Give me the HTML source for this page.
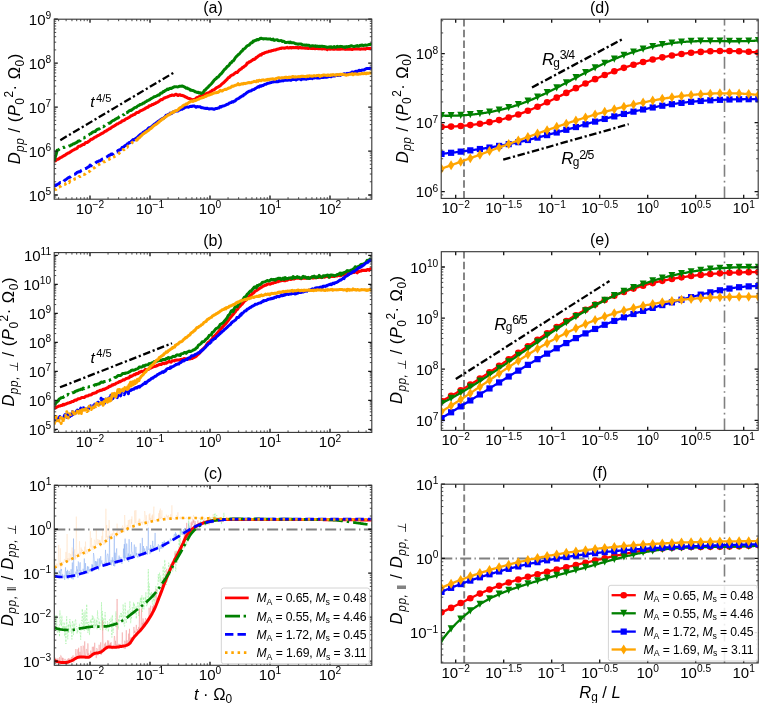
<!DOCTYPE html>
<html><head><meta charset="utf-8"><style>
html,body{margin:0;padding:0;background:#fff;}
svg{display:block;font-family:"Liberation Sans", sans-serif;will-change:transform;}
</style></head><body>
<svg width="760" height="703" viewBox="0 0 760 703">
<rect width="760" height="703" fill="#fff"/>
<defs>
<clipPath id="ca"><rect x="54.2" y="19.2" width="317.6" height="180"/></clipPath>
<clipPath id="cb"><rect x="54.2" y="252.6" width="317.6" height="179.8"/></clipPath>
<clipPath id="cc"><rect x="54.3" y="485.3" width="317.5" height="180"/></clipPath>
<clipPath id="cd"><rect x="441.2" y="19.2" width="317" height="179.2"/></clipPath>
<clipPath id="ce"><rect x="441.3" y="251.7" width="316.9" height="178.7"/></clipPath>
<clipPath id="cf"><rect x="441.3" y="484.2" width="316.9" height="178.8"/></clipPath>
</defs>
<g clip-path="url(#ca)">
<path d="M54.2 161.39L55.2 160.93L56.2 160.23L57.2 159.24L58.2 159.21L59.2 158.52L60.2 157.69L61.2 157.39L62.2 156.75L63.2 156.16L64.2 155.51L65.2 155.06L66.2 154.15L67.2 153.71L68.2 153.05L69.2 152.74L70.2 152.02L71.2 151.35L72.2 150.64L73.2 150.19L74.2 149.67L75.2 149.02L76.2 148.82L77.2 148.17L78.2 146.65L79.2 146.27L80.2 146.11L81.2 145.47L82.2 145.04L83.2 144.45L84.2 144.34L85.2 142.95L86.2 142.54L87.2 142.56L88.2 141.62L89.2 141.04L90.2 140.15L91.2 139.28L92.2 139.15L93.2 138.54L94.2 137.62L95.2 137.16L96.2 136.73L97.2 135.92L98.2 135.54L99.2 135L100.2 134.39L101.2 133.66L102.2 133.34L103.2 132.82L104.2 132.08L105.2 131.2L106.2 130.98L107.2 130.07L108.2 129.81L109.2 128.72L110.2 128.62L111.2 127.78L112.2 126.87L113.2 126.5L114.2 125.99L115.2 125.45L116.2 124.54L117.2 123.91L118.2 123.64L119.2 122.88L120.2 122.46L121.2 122L122.2 120.81L123.2 120.71L124.2 120.37L125.2 119.41L126.2 118.71L127.2 118.53L128.2 117.84L129.2 117.43L130.2 116.56L131.2 115.72L132.2 115.51L133.2 114.86L134.2 114.61L135.2 113.91L136.2 112.9L137.2 112.46L138.2 112.42L139.2 111.82L140.2 110.93L141.2 110.54L142.2 110.1L143.2 109.57L144.2 109.13L145.2 108.44L146.2 107.82L147.2 107.27L148.2 107.1L149.2 105.78L150.2 105.82L151.2 105.38L152.2 104.53L153.2 104.48L154.2 103.73L155.2 103.58L156.2 102.79L157.2 102.41L158.2 101.92L159.2 101.07L160.2 100.17L161.2 99.46L162.2 99.73L163.2 98.73L164.2 98.07L165.2 97.79L166.2 97.25L167.2 97.09L168.2 96.49L169.2 96.1L170.2 95.55L171.2 95.54L172.2 94.96L173.2 95.29L174.2 95.42L175.2 94.59L176.2 94.31L177.2 95.06L178.2 95.55L179.2 94.76L180.2 94.86L181.2 95.54L182.2 95.42L183.2 95.76L184.2 96.17L185.2 96.86L186.2 97.15L187.2 97.83L188.2 98.16L189.2 98.4L190.2 98.97L191.2 99.21L192.2 99.75L193.2 99.61L194.2 99.42L195.2 99.38L196.2 98.18L197.2 97.54L198.2 97.24L199.2 96.61L200.2 96.3L201.2 96.08L202.2 95.66L203.2 94.92L204.2 95.03L205.2 94.27L206.2 93.71L207.2 93.28L208.2 92.9L209.2 92.89L210.2 91.64L211.2 91.4L212.2 90.23L213.2 90.14L214.2 89.72L215.2 88.77L216.2 87.98L217.2 87.48L218.2 86.89L219.2 86.18L220.2 85.83L221.2 84.7L222.2 83.75L223.2 83.03L224.2 82.08L225.2 81.1L226.2 80.08L227.2 79.21L228.2 77.84L229.2 77.57L230.2 76.35L231.2 75.39L232.2 75.09L233.2 74.58L234.2 73.75L235.2 73.07L236.2 72.2L237.2 72.52L238.2 71.34L239.2 70.11L240.2 69.45L241.2 68.89L242.2 67.68L243.2 67.3L244.2 66.31L245.2 65.85L246.2 64.88L247.2 63.06L248.2 62.9L249.2 61.72L250.2 61.71L251.2 60.84L252.2 60.32L253.2 59.32L254.2 59.45L255.2 58.88L256.2 57.46L257.2 57.15L258.2 56.2L259.2 55.69L260.2 54.74L261.2 54.92L262.2 53.66L263.2 53.37L264.2 53.18L265.2 52.54L266.2 52.32L267.2 51.95L268.2 51.77L269.2 51.23L270.2 51.13L271.2 50.9L272.2 50.59L273.2 50.41L274.2 50.05L275.2 50.06L276.2 49.54L277.2 49.34L278.2 48.96L279.2 48.73L280.2 48.3L281.2 48.53L282.2 47.94L283.2 47.93L284.2 48.15L285.2 48.1L286.2 47.86L287.2 47.41L288.2 47.98L289.2 47.9L290.2 47.45L291.2 47.97L292.2 47.57L293.2 47.45L294.2 47.74L295.2 47.66L296.2 47.75L297.2 47.3L298.2 48.17L299.2 47.59L300.2 47.4L301.2 47.99L302.2 47.81L303.2 48.04L304.2 47.95L305.2 48.09L306.2 48.23L307.2 48.05L308.2 48.47L309.2 48.23L310.2 48.18L311.2 48.45L312.2 48.58L313.2 48.45L314.2 48.32L315.2 48.72L316.2 48.16L317.2 48.37L318.2 48.66L319.2 48.34L320.2 48.72L321.2 48.72L322.2 48.99L323.2 48.56L324.2 48.66L325.2 48.92L326.2 48.26L327.2 49.67L328.2 48.75L329.2 48.78L330.2 49.2L331.2 49L332.2 48.59L333.2 49.22L334.2 49.29L335.2 48.98L336.2 49.03L337.2 49.22L338.2 48.87L339.2 49.21L340.2 49.15L341.2 48.93L342.2 48.75L343.2 49.04L344.2 48.88L345.2 49.35L346.2 49.14L347.2 49.3L348.2 49.13L349.2 49.17L350.2 48.9L351.2 49.27L352.2 49.54L353.2 49L354.2 48.92L355.2 49.01L356.2 48.9L357.2 48.82L358.2 49.01L359.2 48.87L360.2 49.27L361.2 48.88L362.2 48.93L363.2 49.06L364.2 48.72L365.2 49.12L366.2 48.57L367.2 48.49L368.2 48.57L369.2 48.59L370.2 48.23L371.2 48.53L372 48.08" stroke="#ff0000" stroke-width="3.1" fill="none" stroke-linejoin="round"/>
<path d="M54.2 161.06L55.2 157.41L56.2 154.22L57.2 150.2L58.2 150.05L59.2 149.24L60.2 148.31L61.2 148.25L62.2 147.79L63.2 147.29L64.2 147.54L65.2 146.95L66.2 146.74L67.2 146.37L68.2 146.47L69.2 145.95L70.2 145.72L71.2 144.93L72.2 144.68L73.2 143.87L74.2 143.87L75.2 143.14L76.2 142.62L77.2 142.07L78.2 141.06L79.2 141L80.2 140.77L81.2 139.05L82.2 138.39L83.2 137.83L84.2 137.9L85.2 137.06L86.2 136.71L87.2 135.97L88.2 135.2L89.2 134.6L90.2 133.85L91.2 133.56L92.2 132.38L93.2 132.01L94.2 131.63L95.2 131.52L96.2 130.18L97.2 129.5L98.2 129.08L99.2 128.97L100.2 128.03L101.2 127.92L102.2 126.38L103.2 126.71L104.2 126.1L105.2 124.79L106.2 124.68L107.2 124.42L108.2 123.51L109.2 123.2L110.2 123.04L111.2 121.83L112.2 121.08L113.2 120.36L114.2 120.2L115.2 119.37L116.2 118.79L117.2 118.23L118.2 117.88L119.2 116.78L120.2 116.06L121.2 115.2L122.2 115.71L123.2 114.78L124.2 114.63L125.2 113.58L126.2 112.76L127.2 112.52" stroke="#008000" stroke-width="3" fill="none" stroke-linejoin="round" stroke-dasharray="14 3.7 2.5 3.7"/>
<path d="M126.2 112.76L127.2 112.52L128.2 111.75L129.2 110.79L130.2 110.29L131.2 110.48L132.2 109.45L133.2 108.87L134.2 108.07L135.2 107.37L136.2 107.27L137.2 106.41L138.2 105.66L139.2 105.3L140.2 104.52L141.2 104.31L142.2 104.05L143.2 102.93L144.2 103.06L145.2 101.89L146.2 101.59L147.2 100.74L148.2 100.38L149.2 99.91L150.2 99.22L151.2 98.58L152.2 98.04L153.2 97.44L154.2 96.67L155.2 96.5L156.2 96.14L157.2 95.73L158.2 95.07L159.2 95L160.2 93.75L161.2 92.9L162.2 92.98L163.2 91.51L164.2 91.53L165.2 90.4L166.2 90.28L167.2 89.11L168.2 89.55L169.2 88.81L170.2 88.15L171.2 88.55L172.2 87.9L173.2 87.36L174.2 86.85L175.2 86.87L176.2 86.71L177.2 86.88L178.2 86.81L179.2 86.3L180.2 86.28L181.2 86.25L182.2 86L183.2 86.36L184.2 86.83L185.2 87.49L186.2 88.16L187.2 87.99L188.2 88.81L189.2 88.94L190.2 90.15L191.2 89.97L192.2 90.57L193.2 90.56L194.2 91.02L195.2 91.76L196.2 91.98L197.2 92.53L198.2 92.19L199.2 93.06L200.2 92.75L201.2 93.61L202.2 92.8L203.2 92.47L204.2 90.68L205.2 90.12L206.2 88.76L207.2 87.89L208.2 87.01L209.2 85.85L210.2 84.96L211.2 84L212.2 82.85L213.2 81.52L214.2 80.09L215.2 79.3L216.2 78.59L217.2 77.12L218.2 77.03L219.2 75.67L220.2 74.5L221.2 73.72L222.2 72.49L223.2 71.21L224.2 69.71L225.2 68.99L226.2 67.92L227.2 66.51L228.2 66.1L229.2 64.97L230.2 63.26L231.2 62.89L232.2 61.41L233.2 60.98L234.2 59.67L235.2 57.85L236.2 56.68L237.2 55.8L238.2 54.6L239.2 54.1L240.2 52.86L241.2 51.59L242.2 50.9L243.2 49.18L244.2 48.93L245.2 48.14L246.2 46.88L247.2 45.81L248.2 45.35L249.2 45.02L250.2 43.78L251.2 42.67L252.2 42.75L253.2 41.1L254.2 41.21L255.2 40.35L256.2 40.35L257.2 39.46L258.2 39.84L259.2 39.28L260.2 38.45L261.2 38.19L262.2 38.56L263.2 38.99L264.2 38.65L265.2 38.68L266.2 38.66L267.2 39.04L268.2 39.03L269.2 39.1L270.2 38.82L271.2 39.59L272.2 39.77L273.2 39.12L274.2 40.37L275.2 40.06L276.2 39.88L277.2 39.65L278.2 40.61L279.2 40.77L280.2 40.62L281.2 40.46L282.2 41.52L283.2 41.19L284.2 41.4L285.2 42.57L286.2 42.54L287.2 42.37L288.2 42.13L289.2 42.65L290.2 41.96L291.2 42.86L292.2 42.78L293.2 42.8L294.2 42.89L295.2 43.69L296.2 43.73L297.2 43.91L298.2 44.28L299.2 43.94L300.2 43.99L301.2 43.99L302.2 44.59L303.2 45.08L304.2 44.96L305.2 45.35L306.2 44.95L307.2 45.3L308.2 45.34L309.2 45.31L310.2 46.35L311.2 46.14L312.2 45.76L313.2 45.85L314.2 46.16L315.2 45.84L316.2 46.49L317.2 46.05L318.2 46.41L319.2 46.28L320.2 46.51L321.2 46.31L322.2 46.28L323.2 46.5L324.2 46.61L325.2 46.75L326.2 46.88L327.2 47.34L328.2 47.15L329.2 46.85L330.2 47.16L331.2 46.75L332.2 47.4L333.2 47.14L334.2 46.58L335.2 47.22L336.2 47.24L337.2 46.19L338.2 46.77L339.2 46.83L340.2 46.37L341.2 46.6L342.2 46.59L343.2 46.98L344.2 46.87L345.2 47.51L346.2 46.55L347.2 46.95L348.2 46.56L349.2 46.56L350.2 46.07L351.2 45.78L352.2 46.05L353.2 46.43L354.2 46.58L355.2 46.19L356.2 46.06L357.2 45.56L358.2 46.17L359.2 46.01L360.2 45.35L361.2 45.4L362.2 45.03L363.2 45.69L364.2 45.31L365.2 45.1L366.2 45.19L367.2 45.15L368.2 44.84L369.2 44.54L370.2 44.49L371.2 44.31L372 44.94" stroke="#008000" stroke-width="3" fill="none" stroke-linejoin="round"/>
<path d="M54.1 186.91L55.1 185.01L56.1 185.38L57.1 184.54L58.1 184.03L59.1 183.55L60.1 182.45L61.1 182.42L62.1 181.65L63.1 182.33L64.1 180.81L65.1 180.03L66.1 179.43L67.1 178.66L68.1 177.88L69.1 177.41L70.1 177L71.1 176.12L72.1 175.82L73.1 174.84L74.1 174.29L75.1 174.16L76.1 173.31L77.1 172.47L78.1 172.05L79.1 171.77L80.1 171.7L81.1 170.56L82.1 170.08L83.1 169.97L84.1 168.91L85.1 168.57L86.1 168.4L87.1 167.77L88.1 167.08L89.1 166.71L90.1 165.1L91.1 165.7L92.1 164.55L93.1 163.77L94.1 163.8L95.1 163.36L96.1 162.47L97.1 161.72L98.1 161.49L99.1 160.91L100.1 160.78L101.1 160.02L102.1 159.3L103.1 159.02L104.1 158.07L105.1 157.31L106.1 157.24L107.1 156.72L108.1 155.99L109.1 155.34L110.1 155.19L111.1 153.92L112.1 154.42L113.1 153.9L114.1 152.78L115.1 152.78L116.1 151.94L117.1 151.89L118.1 150.42L119.1 150.07" stroke="#0000ff" stroke-width="3" fill="none" stroke-linejoin="round" stroke-dasharray="9 3.8"/>
<path d="M118.1 150.42L119.1 150.07L120.1 149.81L121.1 149.17L122.1 147.39L123.1 147.09L124.1 146.57L125.1 145.54L126.1 145.49L127.1 143.94L128.1 143.7L129.1 142.58L130.1 142.63L131.1 141.5L132.1 140.7L133.1 139.6L134.1 139.91L135.1 138.91L136.1 138.19L137.1 137.57L138.1 136.6L139.1 135.56L140.1 134.77L141.1 134.02L142.1 133.92L143.1 132.32L144.1 131.82L145.1 131.15L146.1 130.57L147.1 129.92L148.1 128.62L149.1 127.71L150.1 127.47L151.1 127.07L152.1 126.17L153.1 125.25L154.1 124.34L155.1 123.78L156.1 122.89L157.1 122.48L158.1 121.26L159.1 120.8L160.1 119.98L161.1 119.44L162.1 118.61L163.1 118.6L164.1 117.6L165.1 116.94L166.1 115.26L167.1 115.2L168.1 114.58L169.1 114.4L170.1 113.06L171.1 113.62L172.1 113.13L173.1 111.97L174.1 111.64L175.1 111.27L176.1 111.11L177.1 110.89L178.1 110.91L179.1 109.83L180.1 109.71L181.1 109.11L182.1 109.18L183.1 108.49L184.1 108.31L185.1 107.24L186.1 107.21L187.1 106.77L188.1 107.27L189.1 106.85L190.1 106.4L191.1 106.22L192.1 106.4L193.1 105.99L194.1 105.94L195.1 106.46L196.1 107.2L197.1 106.57L198.1 106.67L199.1 106.69L200.1 106.82L201.1 107.56L202.1 107.86L203.1 107.83L204.1 108.15L205.1 108.31L206.1 108.52L207.1 108.2L208.1 108.66L209.1 108.93L210.1 108.72L211.1 108.87L212.1 108.82L213.1 108.99L214.1 109.35L215.1 108.8L216.1 108.55L217.1 108.44L218.1 108L219.1 107.97L220.1 106.47L221.1 106.98L222.1 106.19L223.1 105.97L224.1 105.77L225.1 105.42L226.1 104.97L227.1 104.27L228.1 104.26L229.1 103.24L230.1 102.81L231.1 102.62L232.1 101.72L233.1 102.03L234.1 101.18L235.1 100.99L236.1 99.78L237.1 99.11L238.1 98.68L239.1 98.21L240.1 97.14L241.1 96.75L242.1 95.94L243.1 95.75L244.1 94.4L245.1 94.26L246.1 93.15L247.1 92.46L248.1 91.95L249.1 91.23L250.1 91.07L251.1 90.78L252.1 89.99L253.1 89.61L254.1 89.41L255.1 88.53L256.1 88.05L257.1 87.48L258.1 86.66L259.1 86.97L260.1 85.82L261.1 86.16L262.1 85.58L263.1 85.55L264.1 84.83L265.1 84.23L266.1 84.2L267.1 83.54L268.1 83.3L269.1 83.05L270.1 82.74L271.1 82.5L272.1 82.11L273.1 82.11L274.1 81.34L275.1 81.77L276.1 81.3L277.1 81.85L278.1 81.75L279.1 80.65L280.1 81.15L281.1 80.94L282.1 80.54L283.1 80.9L284.1 80.48L285.1 79.97L286.1 80.32L287.1 80.25L288.1 80.22L289.1 79.72L290.1 80.18L291.1 80.13L292.1 79.47L293.1 79.53L294.1 79.61L295.1 79.38L296.1 79.98L297.1 79.44L298.1 78.98L299.1 78.97L300.1 79.1L301.1 79.72L302.1 78.9L303.1 78.91L304.1 78.95L305.1 78.7L306.1 79.32L307.1 78.4L308.1 78.7L309.1 78.45L310.1 78.5L311.1 77.88L312.1 78.69L313.1 78.04L314.1 78.01L315.1 77.65L316.1 77.63L317.1 77.95L318.1 77.99L319.1 77.84L320.1 77.9L321.1 77.66L322.1 77.36L323.1 77.51L324.1 77.34L325.1 77.02L326.1 77.15L327.1 77.2L328.1 76.76L329.1 76.46L330.1 76.64L331.1 76.86L332.1 76.08L333.1 75.97L334.1 75.81L335.1 76.07L336.1 75L337.1 75.51L338.1 75.6L339.1 74.84L340.1 75.37L341.1 74.92L342.1 74.43L343.1 74.48L344.1 73.78L345.1 73.89L346.1 74.42L347.1 73.41L348.1 74.04L349.1 73.26L350.1 73.38L351.1 72.89L352.1 71.98L353.1 72.25L354.1 72.23L355.1 71.58L356.1 71.27L357.1 71.52L358.1 70.95L359.1 70.37L360.1 70.41L361.1 70.61L362.1 69.94L363.1 70.11L364.1 70.03L365.1 69.33L366.1 68.73L367.1 68.43L368.1 68.57L369.1 68.59L370.1 68.15L371.1 67.99L372 67.47" stroke="#0000ff" stroke-width="3" fill="none" stroke-linejoin="round"/>
<path d="M54.1 189.8L55.1 189.36L56.1 189.33L57.1 188.45L58.1 187.19L59.1 187.12L60.1 186.38L61.1 186.06L62.1 184.99L63.1 185.01L64.1 184.48L65.1 184.36L66.1 183.48L67.1 183.03L68.1 181.94L69.1 182.58L70.1 180.85L71.1 181.27L72.1 180.36L73.1 179.72L74.1 179.3L75.1 178.8L76.1 178.62L77.1 177.99L78.1 177.99L79.1 176.52L80.1 176.59L81.1 175.83L82.1 175.83L83.1 174.45L84.1 174.45L85.1 174.05L86.1 172.95L87.1 173.05L88.1 172.12L89.1 171.65L90.1 170.89L91.1 169.56L92.1 168.86L93.1 168.29L94.1 167.86L95.1 167.2L96.1 166.09L97.1 165.51L98.1 164.87L99.1 164.36L100.1 163.91L101.1 163.4L102.1 163.53L103.1 162.23L104.1 161.76L105.1 161.45L106.1 160.49L107.1 160.12L108.1 159.7L109.1 159.41L110.1 158.27L111.1 158.57L112.1 157.53L113.1 157.16L114.1 156.82L115.1 156.2L116.1 155.72L117.1 154.82L118.1 154.07L119.1 153.41L120.1 152.21L121.1 152.03L122.1 150.58L123.1 149.58L124.1 149.74L125.1 148.28L126.1 147.2L127.1 147.34L128.1 145.94L129.1 145.61L130.1 144.3L131.1 143.73L132.1 142.56L133.1 141.75L134.1 141.28L135.1 140.78L136.1 140.28" stroke="#ffa500" stroke-width="3" fill="none" stroke-linejoin="round" stroke-dasharray="2.6 3.4"/>
<path d="M135.1 140.78L136.1 140.28L137.1 139.98L138.1 138.16L139.1 137.99L140.1 136.71L141.1 136.05L142.1 134.85L143.1 134.05L144.1 133.46L145.1 132.54L146.1 132.1L147.1 131.09L148.1 130.87L149.1 129.74L150.1 128.93L151.1 128.42L152.1 127.42L153.1 126.45L154.1 125.64L155.1 124.84L156.1 124.41L157.1 123.55L158.1 122.64L159.1 121.99L160.1 120.8L161.1 120.34L162.1 118.99L163.1 119.06L164.1 117.94L165.1 117.24L166.1 116.66L167.1 115.8L168.1 115.07L169.1 114.88L170.1 113.96L171.1 113.07L172.1 112.91L173.1 111.69L174.1 112.13L175.1 110.99L176.1 110.46L177.1 110.5L178.1 109.81L179.1 108.48L180.1 107.88L181.1 107.27L182.1 106.72L183.1 105.52L184.1 105.02L185.1 104.82L186.1 104.04L187.1 103.71L188.1 103.22L189.1 102.27L190.1 101.94L191.1 101.01L192.1 101.33L193.1 101.44L194.1 100.35L195.1 100.72L196.1 100.31L197.1 99.66L198.1 99.33L199.1 99L200.1 98.34L201.1 98.12L202.1 97.78L203.1 97.57L204.1 97.21L205.1 96.34L206.1 96.41L207.1 95.53L208.1 95.34L209.1 95.13L210.1 94.65L211.1 94.26L212.1 94.03L213.1 93.44L214.1 93.06L215.1 92.85L216.1 92.86L217.1 92.2L218.1 92.47L219.1 91.64L220.1 90.36L221.1 90.79L222.1 91.09L223.1 90.25L224.1 89.77L225.1 89.26L226.1 89.51L227.1 88.98L228.1 88.43L229.1 87.9L230.1 87.75L231.1 87.14L232.1 86.13L233.1 86.35L234.1 85.79L235.1 85.35L236.1 85.28L237.1 84.77L238.1 83.66L239.1 84.82L240.1 84.51L241.1 84.03L242.1 83.83L243.1 83.89L244.1 83.3L245.1 83.64L246.1 83.31L247.1 83.09L248.1 82.7L249.1 82.55L250.1 82.85L251.1 82.68L252.1 82.19L253.1 81.8L254.1 81.34L255.1 81.63L256.1 81.74L257.1 80.62L258.1 81.32L259.1 80.18L260.1 80.6L261.1 80.69L262.1 80.04L263.1 79.86L264.1 80.22L265.1 80.26L266.1 79.67L267.1 80.02L268.1 79.19L269.1 79.76L270.1 79.12L271.1 79.02L272.1 79.01L273.1 78.8L274.1 79.14L275.1 79.14L276.1 78.54L277.1 78.23L278.1 77.82L279.1 77.86L280.1 77.99L281.1 77.87L282.1 77.8L283.1 77.73L284.1 77.79L285.1 77.15L286.1 77.17L287.1 77.73L288.1 77.57L289.1 77.08L290.1 77.55L291.1 76.89L292.1 76.94L293.1 76.4L294.1 77.14L295.1 76.81L296.1 77.07L297.1 76.89L298.1 76.64L299.1 76.6L300.1 76.84L301.1 76.37L302.1 76.31L303.1 76.32L304.1 76.48L305.1 76.45L306.1 76.7L307.1 76.04L308.1 76.39L309.1 75.77L310.1 76.1L311.1 75.91L312.1 76.35L313.1 75.98L314.1 75.62L315.1 75.9L316.1 75.79L317.1 75.56L318.1 75.53L319.1 75.31L320.1 76.38L321.1 75.56L322.1 75.77L323.1 75.09L324.1 75.07L325.1 75.3L326.1 75.25L327.1 75.49L328.1 74.89L329.1 75.29L330.1 75.53L331.1 74.74L332.1 75.23L333.1 74.62L334.1 74.95L335.1 74.91L336.1 75.28L337.1 74.51L338.1 74.73L339.1 74.96L340.1 74.26L341.1 74.58L342.1 74.3L343.1 74.32L344.1 74.71L345.1 74.69L346.1 75.23L347.1 74.84L348.1 74.78L349.1 74.31L350.1 74.24L351.1 74.33L352.1 73.57L353.1 74.7L354.1 73.95L355.1 73.78L356.1 73.91L357.1 74.26L358.1 74.31L359.1 73.77L360.1 73.95L361.1 73.75L362.1 73.41L363.1 73.71L364.1 73.61L365.1 73.09L366.1 73.83L367.1 72.98L368.1 73.47L369.1 73.04L370.1 73.06L371.1 73.04L372 73.42" stroke="#ffa500" stroke-width="3" fill="none" stroke-linejoin="round"/>
</g>
<path d="M60.3 140.2L173.8 72.6" stroke="#000" stroke-width="2.3" fill="none" stroke-linejoin="round" stroke-dasharray="7.5 2.6 2.2 2.6"/>
<text x="90.3" y="107" font-size="15.5" text-anchor="start" fill="#000"><tspan font-style="italic">t</tspan><tspan font-size="11.16" dy="-5.42" dx="1.4">4/5</tspan></text>
<g clip-path="url(#cb)">
<path d="M54.2 407.81L55.2 407.88L56.2 407.52L57.2 406.67L58.2 406.4L59.2 406L60.2 406L61.2 405.47L62.2 405.37L63.2 404.25L64.2 404.93L65.2 404.09L66.2 403.97L67.2 403.37L68.2 402.95L69.2 402.85L70.2 402.6L71.2 401.93L72.2 401.58L73.2 401.47L74.2 400.64L75.2 400.07L76.2 400.28L77.2 399.59L78.2 398.84L79.2 398.79L80.2 398.52L81.2 397.92L82.2 397.45L83.2 397.52L84.2 397.4L85.2 396.67L86.2 396.13L87.2 396.07L88.2 395.78L89.2 395.08L90.2 394.94L91.2 394.69L92.2 393.91L93.2 393.33L94.2 393.28L95.2 392.84L96.2 392.69L97.2 391.57L98.2 391.34L99.2 390.88L100.2 390.2L101.2 390.34L102.2 390.03L103.2 389.22L104.2 389.42L105.2 388.81L106.2 388.3L107.2 387.78L108.2 387.48L109.2 386.33L110.2 386.45L111.2 385.97L112.2 384.79L113.2 384.94L114.2 384.29L115.2 384.11L116.2 383.26L117.2 382.9L118.2 382.53L119.2 381.67L120.2 381.63L121.2 380.93L122.2 380.62L123.2 379.83L124.2 379.83L125.2 379.2L126.2 378.48L127.2 378.25L128.2 377.96L129.2 377.65L130.2 376.17L131.2 376.44L132.2 375.85L133.2 375.23L134.2 374.5L135.2 374.73L136.2 373.53L137.2 373.65L138.2 373.44L139.2 372.15L140.2 372.12L141.2 371.4L142.2 371.45L143.2 371.42L144.2 371.16L145.2 369.61L146.2 369.57L147.2 369.55L148.2 369.41L149.2 368.67L150.2 367.92L151.2 367.85L152.2 367.37L153.2 366.94L154.2 366.41L155.2 366.38L156.2 366L157.2 365.52L158.2 365.14L159.2 364.48L160.2 364.39L161.2 364.57L162.2 363.83L163.2 363.14L164.2 363.66L165.2 363.12L166.2 363.3L167.2 362.4L168.2 361.97L169.2 361.41L170.2 362L171.2 362.13L172.2 360.88L173.2 360.69L174.2 360.84L175.2 360.19L176.2 360.16L177.2 359.94L178.2 359.93L179.2 360.04L180.2 359.58L181.2 359.74L182.2 359.24L183.2 359.38L184.2 358.56L185.2 358.67L186.2 359.25L187.2 358.71L188.2 358.93L189.2 358.77L190.2 358.85L191.2 358.51L192.2 358.36L193.2 357.76L194.2 357.29L195.2 356.82L196.2 356.2L197.2 355.13L198.2 354.3L199.2 353.36L200.2 352.35L201.2 351.1L202.2 349.55L203.2 348.93L204.2 347.79L205.2 346.78L206.2 345.35L207.2 343.73L208.2 342.51L209.2 342.2L210.2 340.72L211.2 339.96L212.2 338.98L213.2 337.03L214.2 336.33L215.2 335.27L216.2 334.21L217.2 333.13L218.2 331.94L219.2 330.85L220.2 329.25L221.2 328.54L222.2 327.25L223.2 326.36L224.2 325.01L225.2 324.15L226.2 323.01L227.2 321.64L228.2 320.43L229.2 319.15L230.2 317.78L231.2 316.65L232.2 315.32L233.2 314.35L234.2 313.02L235.2 311.98L236.2 310.22L237.2 309.72L238.2 308.09L239.2 306.97L240.2 306.02L241.2 304.82L242.2 303.99L243.2 302.67L244.2 301.47L245.2 300.49L246.2 300.09L247.2 298.68L248.2 297.31L249.2 296.67L250.2 295.25L251.2 295.35L252.2 293.47L253.2 293.2L254.2 292.38L255.2 290.97L256.2 290.71L257.2 290.19L258.2 289.34L259.2 288.62L260.2 288.19L261.2 287.33L262.2 286.8L263.2 286.12L264.2 285.86L265.2 284.96L266.2 285.1L267.2 284.38L268.2 283.89L269.2 284.04L270.2 284.17L271.2 283.69L272.2 282.99L273.2 283.1L274.2 282.51L275.2 282.37L276.2 282.19L277.2 281.24L278.2 281.77L279.2 281.18L280.2 281.07L281.2 280.63L282.2 280.41L283.2 280.39L284.2 280.73L285.2 280.8L286.2 280.11L287.2 280.26L288.2 279.67L289.2 278.99L290.2 279.43L291.2 279.35L292.2 278.92L293.2 278.98L294.2 278.91L295.2 278.35L296.2 278.05L297.2 278.32L298.2 278.24L299.2 278.13L300.2 278.48L301.2 278.64L302.2 277.95L303.2 278.24L304.2 278.27L305.2 278.17L306.2 278.23L307.2 277.76L308.2 278.06L309.2 278.41L310.2 278L311.2 277.53L312.2 277.85L313.2 278L314.2 277.68L315.2 277.35L316.2 277.94L317.2 277.05L318.2 277.53L319.2 277.32L320.2 276.91L321.2 277.58L322.2 277.26L323.2 276.74L324.2 277.21L325.2 276.83L326.2 276.31L327.2 276.6L328.2 276.8L329.2 276.83L330.2 276.6L331.2 276.47L332.2 276.5L333.2 276.19L334.2 276.49L335.2 276.07L336.2 275.99L337.2 275.94L338.2 275.33L339.2 275.28L340.2 275.78L341.2 275.24L342.2 274.85L343.2 274.83L344.2 274.36L345.2 274.37L346.2 273.86L347.2 273.91L348.2 273.13L349.2 273.78L350.2 273.01L351.2 272.49L352.2 272.69L353.2 272.45L354.2 272.4L355.2 271.81L356.2 272.08L357.2 272.84L358.2 271.17L359.2 271.46L360.2 271.07L361.2 271.02L362.2 270.23L363.2 270.23L364.2 270.52L365.2 270.18L366.2 270.49L367.2 269.59L368.2 269.67L369.2 270.3L370.2 269.01L371.2 268.78L372 268.89" stroke="#ff0000" stroke-width="3.1" fill="none" stroke-linejoin="round"/>
<path d="M54.2 405.2L55.2 404.16L56.2 402.73L57.2 401.59L58.2 400.99L59.2 399.01L60.2 398.52L61.2 397.64L62.2 397.57L63.2 397.47L64.2 396.54L65.2 396.23L66.2 394.77L67.2 395.11L68.2 394.22L69.2 394.84L70.2 394.04L71.2 393.63L72.2 392.81L73.2 392.66L74.2 392.28L75.2 391.49L76.2 391.04L77.2 390.82L78.2 390.26L79.2 389.9L80.2 389.67L81.2 389.14L82.2 389.4L83.2 388.11L84.2 388.75L85.2 387.84L86.2 387.54L87.2 386.89L88.2 387.05L89.2 386.69L90.2 386.54L91.2 385.93L92.2 385.86L93.2 386.23L94.2 385.34L95.2 384.62L96.2 384.9L97.2 384.14L98.2 384.09L99.2 383.76L100.2 383.01L101.2 382.04L102.2 382.32L103.2 382.31L104.2 381.57L105.2 381.51L106.2 381.34L107.2 380.35L108.2 380.67L109.2 380.43L110.2 379.82L111.2 379.46L112.2 379.03L113.2 379.1L114.2 377.87L115.2 377.39L116.2 377.23L117.2 376.22L118.2 375.56L119.2 375.42L120.2 375.52L121.2 375.15L122.2 373.94L123.2 373.4L124.2 373.62L125.2 373.26" stroke="#008000" stroke-width="3" fill="none" stroke-linejoin="round" stroke-dasharray="14 3.7 2.5 3.7"/>
<path d="M124.2 373.62L125.2 373.26L126.2 372.91L127.2 372.8L128.2 372.62L129.2 371.81L130.2 371.56L131.2 370.48L132.2 370.04L133.2 370.21L134.2 369.98L135.2 369.61L136.2 369.17L137.2 368.85L138.2 368.47L139.2 367.06L140.2 367.08L141.2 367.17L142.2 366.85L143.2 365.63L144.2 366.32L145.2 365.31L146.2 365.02L147.2 364.86L148.2 364.69L149.2 363.45L150.2 364.07L151.2 363.35L152.2 362.67L153.2 362.52L154.2 361.42L155.2 361.7L156.2 361.7L157.2 361.02L158.2 360.86L159.2 360.62L160.2 360.4L161.2 360.5L162.2 359.79L163.2 359.41L164.2 359.44L165.2 359.78L166.2 358.53L167.2 358.59L168.2 357.47L169.2 358.36L170.2 357.8L171.2 357.78L172.2 356.93L173.2 356.24L174.2 356.7L175.2 356.33L176.2 355.37L177.2 354.8L178.2 355.25L179.2 354.68L180.2 355.48L181.2 353.88L182.2 353.62L183.2 353.48L184.2 352.56L185.2 352.56L186.2 353.25L187.2 352.21L188.2 351.7L189.2 351.12L190.2 351.54L191.2 351.24L192.2 350.71L193.2 350.03L194.2 349.82L195.2 349.23L196.2 348.02L197.2 347.63L198.2 345.54L199.2 344.84L200.2 344.16L201.2 343.33L202.2 341.79L203.2 341.8L204.2 341.35L205.2 340.1L206.2 339.07L207.2 338.52L208.2 337.33L209.2 335.45L210.2 335.03L211.2 334.93L212.2 332.46L213.2 332.17L214.2 330.88L215.2 329.56L216.2 328.5L217.2 328.19L218.2 327.34L219.2 326.37L220.2 324.33L221.2 324.01L222.2 323.35L223.2 322.61L224.2 321.3L225.2 320.19L226.2 319.12L227.2 317.72L228.2 315.51L229.2 314.83L230.2 313.22L231.2 311.1L232.2 310.43L233.2 311.62L234.2 308.62L235.2 306.86L236.2 306.75L237.2 306.86L238.2 304.73L239.2 303.76L240.2 302.1L241.2 300.96L242.2 300.54L243.2 299.08L244.2 297.43L245.2 296.93L246.2 295.96L247.2 294.14L248.2 293.42L249.2 292.44L250.2 290.97L251.2 291.21L252.2 289.62L253.2 288.6L254.2 287.24L255.2 286.8L256.2 287.81L257.2 285.56L258.2 285.86L259.2 284.72L260.2 284.58L261.2 283.97L262.2 282.51L263.2 282.21L264.2 281.93L265.2 281.51L266.2 281.06L267.2 280.56L268.2 280.82L269.2 280.96L270.2 280.26L271.2 279.29L272.2 279.81L273.2 279.46L274.2 279.57L275.2 280.27L276.2 278.92L277.2 278.93L278.2 278.31L279.2 278.57L280.2 278.32L281.2 279.54L282.2 278.69L283.2 278.09L284.2 279.52L285.2 277.5L286.2 278.76L287.2 278.8L288.2 278.48L289.2 277.93L290.2 277.97L291.2 277.79L292.2 278.43L293.2 276.52L294.2 277.57L295.2 277.93L296.2 277.45L297.2 276.66L298.2 277.56L299.2 277.2L300.2 278.09L301.2 278.39L302.2 277.55L303.2 276.3L304.2 277.29L305.2 276.8L306.2 277.71L307.2 278.26L308.2 277.38L309.2 278.36L310.2 277.99L311.2 277.44L312.2 276.44L313.2 277.02L314.2 276.04L315.2 277.47L316.2 276.86L317.2 277.55L318.2 276.84L319.2 275.44L320.2 276.92L321.2 277.02L322.2 277.39L323.2 275.73L324.2 275.67L325.2 276.17L326.2 275.41L327.2 275.12L328.2 275.18L329.2 277.28L330.2 275.23L331.2 274.88L332.2 275.09L333.2 275.22L334.2 275.84L335.2 275.48L336.2 275.22L337.2 274.6L338.2 274.48L339.2 273.78L340.2 273L341.2 274.84L342.2 273.03L343.2 273.57L344.2 272.41L345.2 272.17L346.2 271.74L347.2 270.6L348.2 270.97L349.2 270.83L350.2 270.68L351.2 270.07L352.2 269.95L353.2 269.06L354.2 268.4L355.2 266.72L356.2 267.07L357.2 267.8L358.2 266.41L359.2 266.28L360.2 265.14L361.2 264.33L362.2 265.44L363.2 263.91L364.2 264.1L365.2 263.03L366.2 262.05L367.2 260.39L368.2 261.31L369.2 259.84L370.2 258.97L371.2 260.57L372 259.88" stroke="#008000" stroke-width="3" fill="none" stroke-linejoin="round"/>
<path d="M54.2 421.56L54.9 414.48L55.6 419.91L56.3 418.46L57 419.99L57.7 418.46L58.4 420.26L59.1 417.53L59.8 416.54L60.5 417.85L61.2 417.41L61.9 416.08L62.6 416.01L63.3 417.13L64 416.88L64.7 414.97L65.4 414.91L66.1 412.66L66.8 417.3L67.5 414.4L68.2 416.34L68.9 414.82L69.6 416.71L70.3 415.9L71 413.95L71.7 415.33L72.4 411.67L73.1 414.51L73.8 410.42L74.5 412.72L75.2 413.47L75.9 412.03L76.6 410.94L77.3 410.07L78 410.45L78.7 412.13L79.4 411.64L80.1 409.76L80.8 408.11L81.5 410.53L82.2 407.29L82.9 408.3L83.6 407.75L84.3 409.54L85 408.56L85.7 408.61L86.4 408.07L87.1 406.47L87.8 407.9L88.5 408.86L89.2 406.57L89.9 407.24L90.6 405.91L91.3 407.26L92 406.48L92.7 406.51L93.4 405.5L94.1 407.05L94.8 403.98L95.5 403.75L96.2 403.12L96.9 404.53L97.6 402.54L98.3 402.23L99 403.88L99.7 404.22L100.4 403.13L101.1 398.29L101.8 400.44L102.5 399.99L103.2 399.53L103.9 400.37L104.6 403.21L105.3 399.95L106 399.07L106.7 400.79L107.4 399.62L108.1 399.4L108.8 397.98L109.5 398.64L110.2 398.96L110.9 395.38L111.6 395.5L112.3 398.98L113 398.34L113.7 396.15L114.4 395.14L115.1 396.01L115.8 394.3L116.5 395.19L117.2 397.68L117.9 395.26L118.6 396.41L119.3 394.17L120 394.71L120.7 395.84L121.4 391.74L122.1 392.84L122.8 392.82L123.5 393.15L124.2 394.66L124.9 393.18L125.6 389.85L126.3 391.31L127 390.18L127.7 389.89L128.4 393.75L129.1 389.17L129.8 390.74L130.5 389.93" stroke="#0000ff" stroke-width="3" fill="none" stroke-linejoin="round" stroke-dasharray="6 3.5"/>
<path d="M129.8 390.74L130.5 389.93L131.2 390.15L131.9 389.73L132.6 389.4L133.3 389.07L134 389.16L134.7 388.26L135.4 388.03L136.1 387.62L136.8 388.05L137.5 387.25L138.2 386.71L138.9 386.57L139.6 387.1L140.3 385.96L141 385.87L141.7 385.36L142.4 384.8L143.1 384.17L143.8 383.84L144.5 383.38L145.2 382.36L145.9 383.33L146.6 382.35L147.3 381.62L148 381.03L148.7 380.37L149.4 380.39L150.1 379.56L150.8 379.27L151.5 378.22L152.2 378.26L152.9 378.27L153.6 377.11L154.3 376.98L155 376.3L155.7 376.18L156.4 375.74L157.1 375.02L157.8 374.43L158.5 374.28L159.2 373.81L159.9 373.22L160.6 373.15L161.3 372.76L162 371.98L162.7 371.84L163.4 372.37L164.1 371.37L164.8 370.78L165.5 371.13L166.2 369.87L166.9 368.89L167.6 368.7L168.3 368.44L169 368.61L169.7 368.45L170.4 367.13L171.1 367.75L171.8 366.67L172.5 366.73L173.2 366.41L173.9 366.02L174.6 365.5L175.3 365.16L176 364.37L176.7 364.4L177.4 364.22L178.1 363.81L178.8 363.93L179.5 363.09L180.2 362.61L180.9 362.52L181.6 361.73L182.3 360.92L183 360.28L183.7 360.98L184.4 360.43L185.1 360.16L185.8 359.47L186.5 359.33L187.2 359.45L187.9 358.64L188.6 357.86L189.3 357.72L190 357.91L190.7 356.82L191.4 356.01L192.1 355.74L192.8 355.65L193.5 355.92L194.2 355.33L194.9 354.69L195.6 354.16L196.3 354.13L197 353.74L197.7 353.23L198.4 352.92L199.1 352.35L199.8 352.68L200.5 350.96L201.2 351.21L201.9 350.32L202.6 350.22L203.3 349.27L204 348.74L204.7 348.05L205.4 347.19L206.1 346.66L206.8 345.2L207.5 345.17L208.2 344.12L208.9 343.65L209.6 343.36L210.3 342.6L211 342.23L211.7 340.35L212.4 340.12L213.1 340.09L213.8 338.85L214.5 338.52L215.2 338.47L215.9 337.59L216.6 336.41L217.3 336.21L218 335.64L218.7 334.83L219.4 334.15L220.1 333.59L220.8 332.46L221.5 332.32L222.2 331.36L222.9 331.14L223.6 330.52L224.3 329.49L225 329.31L225.7 328.6L226.4 327.85L227.1 327.45L227.8 326.51L228.5 325.89L229.2 325.36L229.9 324.69L230.6 324.42L231.3 322.74L232 322.72L232.7 321.58L233.4 321.4L234.1 320.99L234.8 320.29L235.5 319.94L236.2 319.12L236.9 317.57L237.6 317.41L238.3 317.57L239 316.91L239.7 315.82L240.4 314.67L241.1 315.14L241.8 313.22L242.5 313.32L243.2 312.62L243.9 312.13L244.6 311.16L245.3 310.85L246 310.76L246.7 309.77L247.4 308.99L248.1 308.91L248.8 308.46L249.5 307.93L250.2 307.28L250.9 307.26L251.6 306.64L252.3 305.93L253 305.97L253.7 305.52L254.4 305.21L255.1 304.31L255.8 304.25L256.5 304.29L257.2 304.11L257.9 303.61L258.6 303.25L259.3 303.12L260 302.9L260.7 302.85L261.4 302.19L262.1 301.6L262.8 301.65L263.5 300.66L264.2 301L264.9 300.6L265.6 300.48L266.3 300.39L267 300.01L267.7 299.33L268.4 299.42L269.1 299.06L269.8 299.07L270.5 298.96L271.2 298.35L271.9 298.65L272.6 298.61L273.3 297.92L274 298.01L274.7 297.13L275.4 297.21L276.1 297.45L276.8 296.42L277.5 296.59L278.2 296.27L278.9 296.68L279.6 296.49L280.3 295.77L281 295.8L281.7 294.8L282.4 295.67L283.1 295.35L283.8 295.49L284.5 294.22L285.2 294.9L285.9 294.56L286.6 293.76L287.3 294.22L288 294.29L288.7 294.45L289.4 294.17L290.1 293.85L290.8 294.05L291.5 293.79L292.2 293.53L292.9 293.33L293.6 293.59L294.3 293.49L295 293.9L295.7 293.1L296.4 293.61L297.1 293.12L297.8 293.24L298.5 292.49L299.2 292.36L299.9 292.38L300.6 292.59L301.3 292.21L302 292.22L302.7 291.91L303.4 291.95L304.1 291.52L304.8 291.12L305.5 291.25L306.2 290.93L306.9 291.24L307.6 290.48L308.3 290.37L309 290.06L309.7 290.31L310.4 290.04L311.1 289.8L311.8 289.05L312.5 288.8L313.2 289.16L313.9 289.13L314.6 289.19L315.3 288.04L316 288.36L316.7 287.74L317.4 287.79L318.1 287.84L318.8 288.02L319.5 287.4L320.2 287.17L320.9 287.11L321.6 287.41L322.3 287.57L323 286.19L323.7 286.38L324.4 286.13L325.1 286.4L325.8 285.98L326.5 286.1L327.2 285.13L327.9 285.22L328.6 284.87L329.3 284.46L330 284.51L330.7 283.98L331.4 284.75L332.1 283.98L332.8 283.31L333.5 283.18L334.2 283.62L334.9 282.68L335.6 282.75L336.3 282.43L337 282.28L337.7 281.84L338.4 281.25L339.1 280.78L339.8 280.05L340.5 280.16L341.2 279.8L341.9 279.2L342.6 278.81L343.3 278.02L344 278.55L344.7 277.26L345.4 276.61L346.1 276.24L346.8 275.86L347.5 275.63L348.2 274.19L348.9 274.58L349.6 273.75L350.3 273.41L351 273.31L351.7 272.78L352.4 271.89L353.1 271.61L353.8 271.75L354.5 271.14L355.2 270.54L355.9 269.84L356.6 269.67L357.3 269.05L358 268.31L358.7 267.72L359.4 267.73L360.1 267.23L360.8 267.03L361.5 266.06L362.2 266.17L362.9 265.18L363.6 265.21L364.3 264.53L365 263.73L365.7 263.16L366.4 262.94L367.1 262.43L367.8 262.32L368.5 261.36L369.2 260.65L369.9 260.62L370.6 260.73L371.3 260.17L372 259.01" stroke="#0000ff" stroke-width="3" fill="none" stroke-linejoin="round"/>
<path d="M54.2 424.45L54.9 420.96L55.6 419.42L56.3 416.52L57 420.69L57.7 423.11L58.4 420.48L59.1 420.9L59.8 421.38L60.5 417.53L61.2 423.47L61.9 416.71L62.6 418.56L63.3 422.42L64 416.9L64.7 416.93L65.4 415.44L66.1 416.61L66.8 411.83L67.5 414.16L68.2 418.04L68.9 415.06L69.6 413.94L70.3 414.75L71 414.55L71.7 413.8L72.4 414.32L73.1 410.04L73.8 413.86L74.5 411.35L75.2 413.76L75.9 412.09L76.6 410.13L77.3 411.6L78 409.72L78.7 413.16L79.4 411.1L80.1 412.49L80.8 408.76L81.5 413.5L82.2 409.85L82.9 412.66L83.6 411.55L84.3 407.83L85 410.19L85.7 408.43L86.4 409.93L87.1 411.54L87.8 409.98L88.5 410.42L89.2 406.15L89.9 408.38L90.6 408.42L91.3 409.49L92 406.17L92.7 408.06L93.4 407.56L94.1 403.79L94.8 404.41L95.5 406.82L96.2 403.64L96.9 403.28L97.6 406.83L98.3 405.46L99 404.24L99.7 404.56L100.4 403.35" stroke="#ffa500" stroke-width="3" fill="none" stroke-linejoin="round" stroke-dasharray="3 2.5"/>
<path d="M99.7 404.56L100.4 403.35L101.1 402.81L101.8 402.64L102.5 403.84L103.2 405.2L103.9 401.64L104.6 402.03L105.3 401.41L106 399.16L106.7 401.5L107.4 402.19L108.1 398.68L108.8 401.25L109.5 398.25L110.2 400.88L110.9 400.5L111.6 397.12L112.3 393.69L113 396.14L113.7 393.73L114.4 393.34L115.1 394.71L115.8 397.08L116.5 393.93L117.2 393.16L117.9 389.69L118.6 391.41L119.3 389.47L120 392.4L120.7 390.01L121.4 390.4L122.1 389.97L122.8 389.2L123.5 390.81L124.2 389.53L124.9 387.66L125.6 388.1L126.3 388.41L127 389.48L127.7 386.84L128.4 388.81L129.1 384.73L129.8 384.97L130.5 382.3L131.2 386.04L131.9 382.27L132.6 381.83L133.3 384.74L134 381.8L134.7 380.91L135.4 383.47L136.1 380.89L136.8 382.31L137.5 379.34L138.2 380.74L138.9 380.72L139.6 378.25L140.3 377.94L141 376.56L141.7 375.89L142.4 375.23L143.1 374.76L143.8 373.62L144.5 372.83L145.2 372.28L145.9 371.84L146.6 370.6L147.3 369.62L148 369.26L148.7 368.79L149.4 367.73L150.1 367.21L150.8 365.89L151.5 365.73L152.2 365.04L152.9 364.47L153.6 363.65L154.3 363.08L155 361.84L155.7 361.63L156.4 360.24L157.1 359.88L157.8 359.72L158.5 358.99L159.2 357.55L159.9 357.66L160.6 356.76L161.3 356.07L162 355.79L162.7 355.2L163.4 355.02L164.1 353.62L164.8 353.39L165.5 352.94L166.2 351.91L166.9 352.29L167.6 351.95L168.3 350.73L169 350.52L169.7 349.82L170.4 349.47L171.1 348.69L171.8 348.63L172.5 347.53L173.2 347.77L173.9 346.96L174.6 347.08L175.3 345.36L176 345.33L176.7 344.48L177.4 344.33L178.1 344.01L178.8 343.11L179.5 342.44L180.2 341.83L180.9 341.89L181.6 341.67L182.3 341.11L183 340.22L183.7 339.38L184.4 339L185.1 338.1L185.8 337.51L186.5 337.72L187.2 336.73L187.9 336.31L188.6 335.51L189.3 335.35L190 334.74L190.7 333.43L191.4 332.9L192.1 332.16L192.8 332.12L193.5 331.48L194.2 330.41L194.9 330.6L195.6 329.34L196.3 328.4L197 327.59L197.7 327.61L198.4 327.19L199.1 326.37L199.8 326.1L200.5 325.8L201.2 324.86L201.9 324.57L202.6 324.24L203.3 323.32L204 322.42L204.7 322.15L205.4 321.61L206.1 321.53L206.8 320.2L207.5 319.32L208.2 319.34L208.9 318.83L209.6 318.09L210.3 317.88L211 317.31L211.7 317.08L212.4 315.98L213.1 315.55L213.8 315.28L214.5 314.67L215.2 314.74L215.9 314.08L216.6 313.45L217.3 313.47L218 312.72L218.7 312.43L219.4 311.95L220.1 311.24L220.8 310.83L221.5 310.47L222.2 309.75L222.9 309.59L223.6 309.58L224.3 309.06L225 308.33L225.7 308.98L226.4 307.63L227.1 307.79L227.8 307.49L228.5 307.32L229.2 306.34L229.9 306.26L230.6 305.84L231.3 305.87L232 305.28L232.7 304.92L233.4 304.59L234.1 304.65L234.8 303.91L235.5 303.63L236.2 302.75L236.9 302.92L237.6 302.03L238.3 302.39L239 301.86L239.7 301.26L240.4 300.9L241.1 300.95L241.8 300.75L242.5 300.28L243.2 300.1L243.9 299.86L244.6 299.55L245.3 299.42L246 299.33L246.7 299.41L247.4 298.99L248.1 298.42L248.8 298.86L249.5 298.53L250.2 297.9L250.9 298.09L251.6 297.43L252.3 297.18L253 297.02L253.7 297.54L254.4 296.93L255.1 296.81L255.8 296.58L256.5 296.28L257.2 296.39L257.9 296.3L258.6 296.54L259.3 295.56L260 296.13L260.7 295.74L261.4 294.89L262.1 295.57L262.8 295.64L263.5 295.36L264.2 294.99L264.9 294.85L265.6 294.1L266.3 294.69L267 294.55L267.7 294.13L268.4 294.38L269.1 294.03L269.8 294.82L270.5 293.68L271.2 293.68L271.9 293.2L272.6 293.62L273.3 293.66L274 293.5L274.7 293.18L275.4 293.5L276.1 293.18L276.8 293.33L277.5 292.8L278.2 292.17L278.9 292.51L279.6 292.12L280.3 292.53L281 291.97L281.7 291.96L282.4 291.91L283.1 291.34L283.8 291.58L284.5 291.86L285.2 291.34L285.9 291.38L286.6 291.4L287.3 291.07L288 291.11L288.7 291.25L289.4 290.93L290.1 290.99L290.8 290.86L291.5 290.52L292.2 290.38L292.9 291.31L293.6 291.07L294.3 290.57L295 290.84L295.7 290.85L296.4 290.76L297.1 290.34L297.8 289.99L298.5 290.02L299.2 290.31L299.9 290.77L300.6 290.82L301.3 290.27L302 290.23L302.7 290.68L303.4 290.93L304.1 290.03L304.8 290.44L305.5 290.33L306.2 290.18L306.9 290.18L307.6 290.16L308.3 290.25L309 289.79L309.7 290.24L310.4 290.46L311.1 290.44L311.8 290.44L312.5 290.29L313.2 290.23L313.9 290.74L314.6 290.09L315.3 290.17L316 290.48L316.7 290.1L317.4 289.68L318.1 289.88L318.8 289.9L319.5 289.96L320.2 289.86L320.9 290.27L321.6 290.17L322.3 290.09L323 289.81L323.7 290.23L324.4 290.21L325.1 290.56L325.8 289.72L326.5 289.86L327.2 290.3L327.9 289.55L328.6 289.95L329.3 289.93L330 289.87L330.7 289.57L331.4 289.85L332.1 289.39L332.8 290.19L333.5 289.68L334.2 289.87L334.9 289.81L335.6 289.87L336.3 289.85L337 289.94L337.7 289.7L338.4 289.82L339.1 289.48L339.8 289.5L340.5 289.55L341.2 289.51L341.9 289.4L342.6 289.62L343.3 289.99L344 289.93L344.7 289.68L345.4 289.9L346.1 289.92L346.8 290.6L347.5 289.33L348.2 289.88L348.9 289.42L349.6 290.18L350.3 289.74L351 289.94L351.7 289.87L352.4 290.02L353.1 288.94L353.8 289.47L354.5 289.84L355.2 289.41L355.9 289.98L356.6 290.18L357.3 289.43L358 289.68L358.7 290L359.4 290.35L360.1 290.11L360.8 290.03L361.5 289.55L362.2 289.82L362.9 289.85L363.6 289.63L364.3 289.94L365 289.72L365.7 289.68L366.4 290.45L367.1 289.76L367.8 290.37L368.5 289.7L369.2 289.79L369.9 289.44L370.6 289.64L371.3 290.28L372 289.81" stroke="#ffa500" stroke-width="3" fill="none" stroke-linejoin="round"/>
</g>
<path d="M60 387.3L172 343.3" stroke="#000" stroke-width="2.3" fill="none" stroke-linejoin="round" stroke-dasharray="7.5 2.6 2.2 2.6"/>
<text x="90.5" y="362.8" font-size="15.5" text-anchor="start" fill="#000"><tspan font-style="italic">t</tspan><tspan font-size="11.16" dy="-5.42" dx="1.4">4/5</tspan></text>
<g clip-path="url(#cc)">
<path d="M54.3 568.22L54.7 561.98L55.1 558.62L55.5 569.66L55.9 566.75L56.3 563.46L56.7 564.73L57.1 564.16L57.5 563.72L57.9 567.63L58.3 566.11L58.7 544.91L59.1 560.06L59.5 562.06L59.9 566.22L60.3 548.37L60.7 568.97L61.1 566.82L61.5 562.15L61.9 566.56L62.3 562.36L62.7 564L63.1 561.72L63.5 562.89L63.9 562.65L64.3 559.65L64.7 558.95L65.1 560.96L65.5 560.55L65.9 551.94L66.3 562.68L66.7 557.85L67.1 534.01L67.5 563.08L67.9 557.96L68.3 559.29L68.7 561.24L69.1 552.97L69.5 560.52L69.9 558.63L70.3 560.01L70.7 553.92L71.1 557.35L71.5 560.73L71.9 547.48L72.3 547.68L72.7 555.69L73.1 551.62L73.5 558.17L73.9 557.42L74.3 555.34L74.7 549.21L75.1 560.05L75.5 554.57L75.9 558.82L76.3 516.59L76.7 547.74L77.1 553.81L77.5 556.01L77.9 553.71L78.3 554.16L78.7 553.1L79.1 553.82L79.5 541.13L79.9 556.14L80.3 552.01L80.7 554.29L81.1 547.52L81.5 553.98L81.9 549.39L82.3 551.01L82.7 550.1L83.1 551.39L83.5 552.87L83.9 552.56L84.3 553.04L84.7 546.63L85.1 555.09L85.5 541.58L85.9 551.05L86.3 552.05L86.7 549.76L87.1 553.8L87.5 552.38L87.9 552.24L88.3 550.41L88.7 551.93L89.1 552.3L89.5 551.05L89.9 549.3L90.3 531.15L90.7 546.69L91.1 547.29L91.5 537.87L91.9 550.22L92.3 548.22L92.7 545.63L93.1 545.42L93.5 547.52L93.9 549.84L94.3 539.71L94.7 540.44L95.1 540.85L95.5 547.78L95.9 544.66L96.3 528.87L96.7 543.63L97.1 544.54L97.5 544.75L97.9 539.04L98.3 544.23L98.7 543.69L99.1 540.05L99.5 544.82L99.9 539.73L100.3 541.84L100.7 546.7L101.1 542.11L101.5 540.01L101.9 535.92L102.3 543.07L102.7 529.71L103.1 540.03L103.5 543.23L103.9 544.91L104.3 543.41L104.7 541.77L105.1 543.99L105.5 537.27L105.9 508.68L106.3 537.52L106.7 524.95L107.1 538.28L107.5 540.16L107.9 535.97L108.3 538.64L108.7 534.2L109.1 520.09L109.5 533.4L109.9 534.62L110.3 538.91L110.7 539.42L111.1 533.7L111.5 538.64L111.9 537.28L112.3 533.27L112.7 535.42L113.1 533.55L113.5 530.81L113.9 530.9L114.3 536.72L114.7 534.98L115.1 533.92L115.5 533.69L115.9 534.55L116.3 533.24L116.7 537.17L117.1 523.5L117.5 532.5L117.9 535.17L118.3 528.61L118.7 530.98L119.1 529.31L119.5 530.74L119.9 534.07L120.3 532.94L120.7 530.52L121.1 532.53L121.5 527.63L121.9 527.69L122.3 527.34L122.7 525.49L123.1 531.58L123.5 527.57L123.9 531.19L124.3 532.36L124.7 515.01L125.1 524.1L125.5 528.61L125.9 529.81L126.3 528.33L126.7 530.21L127.1 524.91L127.5 525.96L127.9 528.31L128.3 520.01L128.7 529.54L129.1 527.49L129.5 519.69L129.9 523.74L130.3 526.69L130.7 527.47L131.1 519.14L131.5 523.64L131.9 516.45L132.3 526.39L132.7 527.81L133.1 527.09L133.5 524.98L133.9 526.93L134.3 524.86L134.7 510.54L135.1 523.34L135.5 522.79L135.9 510.08L136.3 522.59L136.7 523.07L137.1 525.39L137.5 523.79L137.9 521.93L138.3 520.58L138.7 524.38L139.1 518.63L139.5 523.16L139.9 518.81L140.3 521.85L140.7 522.73L141.1 522.14L141.5 523.17L141.9 521.46L142.3 524.66L142.7 521.88L143.1 522.3L143.5 522.6L143.9 520.06L144.3 520.09L144.7 511.06L145.1 512.96L145.5 519.37L145.9 521.45L146.3 515.23L146.7 521.34L147.1 525.3L147.5 525.79L147.9 521.26L148.3 523.32L148.7 521.33L149.1 514.3L149.5 520.14L149.9 513.29L150.3 520.66L150.7 517.82L151.1 521.74L151.5 520.91L151.9 515.57L152.3 520.33L152.7 514.41L153.1 520.96L153.5 512.26L153.9 506.56L154.3 520.18L154.7 521.02L155.1 520.57L155.5 520.86L155.9 520.53L156.3 521.25L156.7 519.47L157.1 519.59L157.5 520L157.9 520.23L158.3 520.33L158.7 513.22L159.1 519.57L159.5 510.59L159.9 519.22L160.3 508.56L160.7 518.88L161.1 517.12L161.5 517.82L161.9 510.31L162.3 519.83L162.7 518.09L163.1 518.89L163.5 519.57L163.9 520.07L164.3 516.77L164.7 516.51L165.1 519.23L165.5 519.11L165.9 518.44L166.3 514.54L166.7 516.73L167.1 517.25L167.5 516.02L167.9 519.71L168.3 514.94L168.7 518.28L169.1 519.43L169.5 518.6L169.9 516.85L170.3 519.59L170.7 514.18L171.1 519.69L171.5 518.1L171.9 505.32L172.3 517.29L172.7 518.47L173.1 518.91L173.5 518.84L173.9 518.3L174.3 519.45L174.7 518.94L175.1 518.56L175.5 518.43L175.9 517.53L176.3 515.37L176.7 515.47L177.1 518.61L177.5 517.71L177.9 512.31L178.3 517.96L178.7 518.5L179.1 518.23L179.5 517.22L179.9 517.88L180.3 519.21L180.7 516.56L181.1 518.96L181.5 517.19L181.9 518.35L182.3 517.17L182.7 516.62L183.1 517.71L183.5 517.06L183.9 518.81L184.3 518.02L184.7 518.66L185.1 518.05L185.5 518.13L185.9 518.82L186.3 517.48L186.7 517.16L187.1 517.4L187.5 518.52L187.9 518.08L188.3 518.57L188.7 518.39L189.1 517.76L189.5 518.45L189.9 518.28L190.3 517.82L190.7 517.73L191.1 516.46L191.5 517.86L191.9 519.15L192.3 519.19L192.7 517.7L193.1 517.16L193.5 514.93L193.9 516.81L194.3 517.67L194.7 517.78L195.1 517.27L195.5 518.49L195.9 518.63L196.3 519.21L196.7 519.07L197.1 517.66L197.5 517.57L197.9 517.61L198.3 518.05L198.7 518.11L199.1 517.62L199.5 518.83L199.9 517.79L200.3 518.7L200.7 519.09L201.1 517.84L201.5 518.47L201.9 517.33L202.3 515.79L202.7 517.98L203.1 518.4L203.5 518.19L203.9 517.29L204.3 517.83L204.7 519.58L205.1 518.1L205.5 518.72L205.9 517.99L206.3 518.78L206.7 517.53L207.1 518.08L207.5 517.97L207.9 518.53L208.3 517.51L208.7 517.92L209.1 518.81L209.5 516.22L209.9 518.18L210.3 519.39L210.7 517.44L211.1 517.06L211.5 518.18L211.9 517.53L212.3 518.34L212.7 517.73L213.1 514.18L213.5 517.53L213.9 517.95L214.3 519.69L214.7 517.84" stroke="#ffbf80" stroke-width="0.7" fill="none" stroke-linejoin="round" stroke-opacity="0.3"/>
<path d="M54.3 566.88L54.7 570.67L55.1 573.58L55.5 567.08L55.9 572.73L56.3 573.22L56.7 574.47L57.1 573.44L57.5 573.52L57.9 575.29L58.3 576.75L58.7 578.24L59.1 570.37L59.5 572.96L59.9 571.47L60.3 575.96L60.7 569.49L61.1 570.69L61.5 568.99L61.9 576.27L62.3 574.35L62.7 574.37L63.1 578.27L63.5 576.76L63.9 575.66L64.3 575.39L64.7 579.89L65.1 573.39L65.5 567.32L65.9 574.88L66.3 577.48L66.7 571.18L67.1 579.03L67.5 569.85L67.9 571.91L68.3 579.22L68.7 574.83L69.1 570.93L69.5 574.23L69.9 573.23L70.3 577.01L70.7 577.06L71.1 569.19L71.5 578.61L71.9 578.41L72.3 562.52L72.7 575.41L73.1 579.46L73.5 538.54L73.9 574.67L74.3 577.26L74.7 573.97L75.1 576.4L75.5 576.53L75.9 571.68L76.3 574.34L76.7 566.11L77.1 570.55L77.5 569.66L77.9 577.71L78.3 561.49L78.7 562.34L79.1 571.47L79.5 570.64L79.9 563.46L80.3 562.4L80.7 571.79L81.1 570.47L81.5 573.83L81.9 573.82L82.3 573.94L82.7 573.6L83.1 568.78L83.5 571.83L83.9 573.66L84.3 558.48L84.7 573.31L85.1 572.93L85.5 563.18L85.9 573.54L86.3 573.06L86.7 572.49L87.1 570.49L87.5 566.19L87.9 573.74L88.3 567.69L88.7 566.64L89.1 570.89L89.5 569.28L89.9 571.89L90.3 570.15L90.7 571.08L91.1 570.5L91.5 570.43L91.9 564.2L92.3 572.01L92.7 564.74L93.1 569.97L93.5 553.03L93.9 555.06L94.3 558.6L94.7 565.87L95.1 568.53L95.5 561.02L95.9 566.74L96.3 567.75L96.7 561.43L97.1 568.9L97.5 563.42L97.9 558.61L98.3 566.78L98.7 570.17L99.1 566.94L99.5 558.36L99.9 566.61L100.3 565.67L100.7 556.19L101.1 563.77L101.5 561.61L101.9 560.36L102.3 563.77L102.7 563.08L103.1 564.68L103.5 566.83L103.9 564.56L104.3 562.56L104.7 562.63L105.1 561.41L105.5 549.87L105.9 565.03L106.3 562.47L106.7 563.24L107.1 555.66L107.5 553.72L107.9 554.4L108.3 556.93L108.7 564.31L109.1 562.91L109.5 535.73L109.9 561.58L110.3 563.44L110.7 564L111.1 559.92L111.5 565.27L111.9 562.01L112.3 557.28L112.7 562.28L113.1 559.96L113.5 565.96L113.9 554.65L114.3 535.81L114.7 566.37L115.1 552.75L115.5 560.22L115.9 562L116.3 552.28L116.7 548.41L117.1 563.84L117.5 561.44L117.9 561.61L118.3 559.03L118.7 557.76L119.1 555.56L119.5 558.58L119.9 557.4L120.3 561.65L120.7 559.55L121.1 557.5L121.5 561.83L121.9 563.95L122.3 560.65L122.7 559.68L123.1 560.49L123.5 548.62L123.9 558.15L124.3 544.15L124.7 561.06L125.1 538.67L125.5 558.24L125.9 558.03L126.3 555.14L126.7 543.55L127.1 550.08L127.5 560.31L127.9 557.98L128.3 553.52L128.7 562.02L129.1 539.18L129.5 559.36L129.9 555.4L130.3 556.57L130.7 554.27L131.1 556.67L131.5 542.12L131.9 551.34L132.3 551.82L132.7 553.88L133.1 557.15L133.5 557.41L133.9 553.83L134.3 544.54L134.7 554.77L135.1 556.57L135.5 554.5L135.9 546.85L136.3 555.43L136.7 552.99L137.1 557.01L137.5 556.41L137.9 557.64L138.3 553.1L138.7 553.2L139.1 554.57L139.5 555.86L139.9 553.4L140.3 543.25L140.7 553.06L141.1 553.06L141.5 553.78L141.9 555.09L142.3 537.89L142.7 552.87L143.1 551.48L143.5 546.06L143.9 553.69L144.3 551.22L144.7 548.43L145.1 552.71L145.5 552.03L145.9 551.2L146.3 551.49L146.7 546.23L147.1 547.23L147.5 554.54L147.9 547.4L148.3 527.75L148.7 549.83L149.1 548.58L149.5 548.9L149.9 554.15L150.3 551.01L150.7 544.91L151.1 550.22L151.5 547.96L151.9 549.66L152.3 549.59L152.7 540.86L153.1 547.6L153.5 546.48L153.9 549.35L154.3 547.6L154.7 542.06L155.1 532.9L155.5 543.77L155.9 546.91L156.3 550.44L156.7 547.86L157.1 548.2L157.5 546.1L157.9 547.95L158.3 544.29L158.7 545.64L159.1 546.06L159.5 551.74L159.9 545.73L160.3 545.03L160.7 548.76L161.1 547.74L161.5 545.57L161.9 548.6L162.3 542.08L162.7 544.59L163.1 542.12L163.5 547.76L163.9 544.98L164.3 540.71L164.7 545.37L165.1 542.26L165.5 543.16L165.9 542.93L166.3 543.26L166.7 543.84L167.1 541.09L167.5 541.13L167.9 543.22L168.3 540.75L168.7 540.54L169.1 541.63L169.5 542.72L169.9 542.52L170.3 538.56L170.7 540.28L171.1 540.31L171.5 541.06L171.9 540.5L172.3 539.13L172.7 538.27L173.1 540.17L173.5 537.49L173.9 535.83L174.3 534.05L174.7 534.15L175.1 537.41L175.5 532.32L175.9 536.76L176.3 533.78L176.7 537.66L177.1 536.55L177.5 537.13L177.9 538.22L178.3 535.56L178.7 535.04L179.1 535.47L179.5 536.15L179.9 535.72L180.3 535.49L180.7 534.64L181.1 530.25L181.5 531.96L181.9 534.19L182.3 534.95L182.7 531.04L183.1 534.1L183.5 529.06L183.9 533.69L184.3 532.47L184.7 527.95L185.1 532.12L185.5 531.96L185.9 532.86L186.3 532.72L186.7 531.15L187.1 531.55L187.5 531.38L187.9 529.82L188.3 528.69L188.7 523.29L189.1 529.51L189.5 528.56L189.9 526.61L190.3 530.27L190.7 528.63L191.1 530.01L191.5 528.05L191.9 528.64L192.3 528.27L192.7 529.03L193.1 528.39L193.5 528.86L193.9 528.1L194.3 526.48L194.7 524.97L195.1 523.64L195.5 527.63L195.9 526.81L196.3 526.74L196.7 524.8L197.1 527.92L197.5 525.05L197.9 525.45L198.3 523.72L198.7 524.31L199.1 525.93L199.5 524.69L199.9 523.1L200.3 523.87L200.7 525.19L201.1 522.4L201.5 524.68L201.9 522.71L202.3 524.16L202.7 522.59L203.1 524.3L203.5 522.98L203.9 522.95L204.3 522.76L204.7 521.61L205.1 522.64L205.5 521.74L205.9 522.18L206.3 522.86L206.7 522.04L207.1 523.15L207.5 522.76L207.9 522.1L208.3 521.1L208.7 522.25L209.1 522.84L209.5 522.25L209.9 522.33L210.3 522.83L210.7 520.35L211.1 521.79L211.5 521.38L211.9 521.21L212.3 520.26L212.7 521.11L213.1 520.95L213.5 522.67L213.9 521.98L214.3 520.67L214.7 519.16" stroke="#6495ed" stroke-width="0.7" fill="none" stroke-linejoin="round" stroke-opacity="0.5"/>
<path d="M54.3 630.57L54.7 629.01L55.1 627.76L55.5 615.19L55.9 630.45L56.3 617.78L56.7 615.32L57.1 631.11L57.5 632.65L57.9 632.99L58.3 630.45L58.7 626.37L59.1 627.39L59.5 636.76L59.9 610.65L60.3 618.79L60.7 624.57L61.1 621.57L61.5 626.29L61.9 615.64L62.3 628.16L62.7 627.89L63.1 626.61L63.5 630.18L63.9 622.54L64.3 622.02L64.7 636.38L65.1 626.02L65.5 629.66L65.9 644L66.3 624.98L66.7 616.45L67.1 627.83L67.5 639.04L67.9 639.24L68.3 623.96L68.7 632.52L69.1 625.96L69.5 624L69.9 618.98L70.3 627.89L70.7 623.78L71.1 631.59L71.5 628.85L71.9 639.42L72.3 622.97L72.7 620.52L73.1 626.54L73.5 635.07L73.9 623.15L74.3 625.89L74.7 630.18L75.1 621.5L75.5 619.13L75.9 620.88L76.3 626.91L76.7 626.41L77.1 633.76L77.5 629.59L77.9 631.79L78.3 628.42L78.7 627.01L79.1 628.14L79.5 623.67L79.9 633.24L80.3 633.33L80.7 639.7L81.1 626.41L81.5 620.44L81.9 620.83L82.3 608.8L82.7 621.27L83.1 629.95L83.5 623.46L83.9 612.54L84.3 630.79L84.7 624.72L85.1 610.46L85.5 619.86L85.9 624.88L86.3 629.78L86.7 604.2L87.1 616.79L87.5 624.67L87.9 632.84L88.3 621.92L88.7 630.95L89.1 625.3L89.5 635.07L89.9 623.38L90.3 620.17L90.7 622.28L91.1 619.3L91.5 625.45L91.9 624.47L92.3 615.54L92.7 619.84L93.1 616.09L93.5 621.48L93.9 628.32L94.3 621.84L94.7 618.81L95.1 627.3L95.5 624.76L95.9 626.74L96.3 619.61L96.7 623.89L97.1 629.59L97.5 610.52L97.9 617.94L98.3 618.6L98.7 618.37L99.1 624.61L99.5 621.3L99.9 627.45L100.3 629.63L100.7 628.79L101.1 628.24L101.5 602.16L101.9 626.4L102.3 610.97L102.7 630.68L103.1 617.84L103.5 623.51L103.9 627.92L104.3 623.87L104.7 627.06L105.1 612.31L105.5 629.53L105.9 629.88L106.3 630.5L106.7 627.5L107.1 626.93L107.5 621.05L107.9 625.98L108.3 631.92L108.7 628.94L109.1 627.6L109.5 619.47L109.9 619.71L110.3 621.82L110.7 621.94L111.1 617.78L111.5 628.56L111.9 637.47L112.3 614.85L112.7 625.21L113.1 632.87L113.5 622.56L113.9 622.45L114.3 624.02L114.7 622.32L115.1 622.09L115.5 626.98L115.9 611.48L116.3 626.97L116.7 624.15L117.1 622.56L117.5 625.11L117.9 623.23L118.3 629.46L118.7 618.6L119.1 622.21L119.5 615.27L119.9 616.38L120.3 614.36L120.7 613.26L121.1 617.11L121.5 613.26L121.9 617.24L122.3 617.95L122.7 619.06L123.1 604.17L123.5 609.53L123.9 624.02L124.3 626.35L124.7 626.23L125.1 602.77L125.5 608.95L125.9 619.95L126.3 622.86L126.7 619.28L127.1 618.9L127.5 618.46L127.9 610.14L128.3 617.4L128.7 617.44L129.1 610.96L129.5 608.77L129.9 601.05L130.3 612.45L130.7 623.15L131.1 616.93L131.5 618.88L131.9 613.98L132.3 607.37L132.7 610.53L133.1 610.9L133.5 602.24L133.9 607.37L134.3 603.25L134.7 608.84L135.1 609.09L135.5 613.78L135.9 606.44L136.3 618.81L136.7 607.48L137.1 606.59L137.5 604.34L137.9 601.49L138.3 607.88L138.7 616L139.1 607.22L139.5 602.58L139.9 607.12L140.3 598.2L140.7 602.27L141.1 597L141.5 605.89L141.9 595.42L142.3 611.69L142.7 605.75L143.1 605.97L143.5 597.01L143.9 609.34L144.3 602.86L144.7 603.77L145.1 597.05L145.5 602.04L145.9 592.06L146.3 603.67L146.7 606.16L147.1 598.97L147.5 604.71L147.9 595.68L148.3 569.08L148.7 597.96L149.1 583.46L149.5 593.62L149.9 595.67L150.3 595.27L150.7 593.31L151.1 599.22L151.5 591.98L151.9 598.01L152.3 603.76L152.7 604.41L153.1 593.51L153.5 600.21L153.9 595.9L154.3 604.23L154.7 594.72L155.1 597.53L155.5 592.03L155.9 585.95L156.3 592.9L156.7 591.16L157.1 589.57L157.5 593.75L157.9 583.46L158.3 574.26L158.7 581.63L159.1 576.07L159.5 572.56L159.9 581.81L160.3 583.36L160.7 575.54L161.1 589.21L161.5 586.51L161.9 579.59L162.3 581.77L162.7 588.94L163.1 565.93L163.5 573.38L163.9 584.11L164.3 584.88L164.7 559.66L165.1 564.01L165.5 572.84L165.9 583.01L166.3 584.89L166.7 577.52L167.1 582.25L167.5 573.68L167.9 574.61L168.3 570.58L168.7 562.67L169.1 573.4L169.5 572.23L169.9 575.83L170.3 564.33L170.7 563.99L171.1 571.49L171.5 569.7L171.9 563.21L172.3 567L172.7 571.47L173.1 569.76L173.5 565.55L173.9 558.08L174.3 561.59L174.7 559.83L175.1 553.02L175.5 570.91L175.9 571.36L176.3 550.24L176.7 558.35L177.1 558.85L177.5 562.45L177.9 552.31L178.3 559.98L178.7 553.83L179.1 537.1L179.5 546.07L179.9 540.64L180.3 530.21L180.7 546.28L181.1 551.84L181.5 550.44L181.9 545.07L182.3 546.19L182.7 548.87L183.1 542.4L183.5 540.76L183.9 542.73L184.3 548.64L184.7 543.88L185.1 534.09L185.5 543.28L185.9 543.92L186.3 542.21L186.7 545.13L187.1 534.96L187.5 538.75L187.9 541.55L188.3 531.73L188.7 516.99L189.1 528.65L189.5 530.1L189.9 536.21L190.3 532.84L190.7 534.74L191.1 530.6L191.5 535.28L191.9 531.75L192.3 530.97L192.7 531.97L193.1 529.92L193.5 528.86L193.9 528.37L194.3 528.55L194.7 530.25L195.1 529.6L195.5 529.64L195.9 527.56L196.3 528.14L196.7 526.7L197.1 526.65L197.5 528.48L197.9 528.6L198.3 527.54L198.7 524.51L199.1 525.93L199.5 524.33L199.9 522.28L200.3 524.18L200.7 518.86L201.1 522.19L201.5 523.37L201.9 522.76L202.3 523.02L202.7 524.22L203.1 524.15L203.5 524.48L203.9 521.73L204.3 519.68L204.7 524.3L205.1 525.89L205.5 521.13L205.9 525.28L206.3 522.27L206.7 520.1L207.1 524.39L207.5 520.55L207.9 520.07L208.3 522.3L208.7 523.4L209.1 521.6L209.5 520.51L209.9 519.24L210.3 521.31L210.7 517.74L211.1 518.96L211.5 522.63L211.9 521.87L212.3 518.85L212.7 521.37L213.1 517.03L213.5 520.96L213.9 517.81L214.3 514.19L214.7 522L215.1 513.58L215.5 521.83L215.9 518.97L216.3 519.94L216.7 514.96L217.1 519.62L217.5 521.33L217.9 517.4L218.3 519.2L218.7 518.82L219.1 517.39L219.5 521.35L219.9 519.77L220.3 519.75L220.7 520.35L221.1 518.48L221.5 524.44L221.9 518.68L222.3 517.74L222.7 519.39L223.1 519.98L223.5 517.94L223.9 512.89L224.3 520.56L224.7 519.39" stroke="#90ee90" stroke-width="0.7" fill="none" stroke-linejoin="round" stroke-dasharray="2.2 1.2" stroke-opacity="0.7"/>
<path d="M54.3 662.83L54.7 661.22L55.1 657.55L55.5 659.46L55.9 658.25L56.3 660.34L56.7 662.51L57.1 659.27L57.5 662.12L57.9 658.23L58.3 661.22L58.7 663.6L59.1 661.7L59.5 657.15L59.9 665.42L60.3 662.96L60.7 655.37L61.1 655.71L61.5 657.69L61.9 663.26L62.3 657.68L62.7 662.61L63.1 657.86L63.5 662.56L63.9 663.08L64.3 659.69L64.7 660.11L65.1 658.83L65.5 659.78L65.9 662.11L66.3 663.82L66.7 659.91L67.1 664.58L67.5 659.58L67.9 660.19L68.3 658.4L68.7 663.88L69.1 658.39L69.5 660.1L69.9 659.61L70.3 659.58L70.7 658.65L71.1 658.44L71.5 657.05L71.9 659.53L72.3 656.76L72.7 657.62L73.1 655.35L73.5 660.58L73.9 662.43L74.3 657.92L74.7 658.19L75.1 656.5L75.5 654.58L75.9 649.04L76.3 657.89L76.7 658.68L77.1 654.12L77.5 652.65L77.9 649.29L78.3 655.45L78.7 647.75L79.1 659.13L79.5 657.02L79.9 651.81L80.3 656.12L80.7 657.69L81.1 645.98L81.5 656.38L81.9 655.63L82.3 655.66L82.7 650.81L83.1 645.59L83.5 646.48L83.9 655.6L84.3 654.81L84.7 641.37L85.1 654.03L85.5 656.93L85.9 653.95L86.3 649.01L86.7 649.27L87.1 653.03L87.5 655.29L87.9 643.37L88.3 655.29L88.7 653.39L89.1 655.99L89.5 657.58L89.9 654.77L90.3 654.98L90.7 650.62L91.1 654.11L91.5 656.2L91.9 652.18L92.3 646.81L92.7 648.54L93.1 654.12L93.5 646.7L93.9 654.72L94.3 651.76L94.7 642.75L95.1 651.26L95.5 652.38L95.9 653.67L96.3 658.14L96.7 648.08L97.1 648.93L97.5 649.38L97.9 655.31L98.3 653.06L98.7 653.36L99.1 644.78L99.5 649.68L99.9 650.35L100.3 652.15L100.7 642.32L101.1 655L101.5 649.09L101.9 653.42L102.3 646.85L102.7 620.5L103.1 642.27L103.5 651.36L103.9 649.27L104.3 650.77L104.7 643.68L105.1 649.13L105.5 642.54L105.9 648.58L106.3 645.32L106.7 649.41L107.1 646.09L107.5 640.39L107.9 646.08L108.3 647.02L108.7 640.47L109.1 647.78L109.5 644.62L109.9 648.82L110.3 643.03L110.7 646.6L111.1 642.08L111.5 647.5L111.9 648.75L112.3 649.2L112.7 647.99L113.1 647.94L113.5 645.89L113.9 646.36L114.3 635.99L114.7 636.76L115.1 645.12L115.5 640.82L115.9 647.42L116.3 644.59L116.7 646.7L117.1 598.97L117.5 647.36L117.9 646.1L118.3 644.77L118.7 643.83L119.1 648.37L119.5 644.16L119.9 645.97L120.3 643.93L120.7 646.16L121.1 645.57L121.5 645.09L121.9 645.49L122.3 632.38L122.7 643.91L123.1 646.01L123.5 647.8L123.9 647.19L124.3 648.74L124.7 640.75L125.1 641.83L125.5 648.58L125.9 640.55L126.3 630.2L126.7 646.3L127.1 640.33L127.5 643.36L127.9 643.38L128.3 644.39L128.7 633.6L129.1 644.2L129.5 628.82L129.9 642.63L130.3 637.61L130.7 642.5L131.1 644.2L131.5 641.56L131.9 636.99L132.3 639.49L132.7 637.73L133.1 639.7L133.5 636.21L133.9 626.9L134.3 633.12L134.7 630.78L135.1 632.92L135.5 632.32L135.9 630.18L136.3 624.89L136.7 629.2L137.1 632.02L137.5 629.17L137.9 632.97L138.3 630.33L138.7 626.92L139.1 629.63L139.5 608.6L139.9 631.71L140.3 628.23L140.7 631.63L141.1 622.78L141.5 608.53L141.9 627.06L142.3 622.94L142.7 625.65L143.1 618.43L143.5 625.74L143.9 621.82L144.3 621.44L144.7 626.15L145.1 623.4L145.5 617.99L145.9 619.89L146.3 621.29L146.7 621.84L147.1 618.85L147.5 621.94L147.9 617.8L148.3 620.23L148.7 616.69L149.1 607.72L149.5 616.34L149.9 619.17L150.3 612.96L150.7 605.63L151.1 615.8L151.5 612.29L151.9 614.93L152.3 614.77L152.7 606.23L153.1 611.55L153.5 604.62L153.9 611.09L154.3 608.33L154.7 607.91L155.1 607.56L155.5 609.19L155.9 590.65L156.3 589.43L156.7 604.31L157.1 598.47L157.5 601.26L157.9 602.09L158.3 597.05L158.7 598.5L159.1 599.03L159.5 594.57L159.9 591.73L160.3 593.08L160.7 594.72L161.1 595.31L161.5 587.32L161.9 591.33L162.3 582.39L162.7 588.36L163.1 588.08L163.5 577.82L163.9 583.7L164.3 581.84L164.7 584.83L165.1 580.44L165.5 575.2L165.9 577.13L166.3 570.56L166.7 568.84L167.1 575.99L167.5 571.97L167.9 574.21L168.3 571.61L168.7 571.18L169.1 573.25L169.5 571.91L169.9 569.56L170.3 564.3L170.7 566.07L171.1 568.12L171.5 566.43L171.9 561.73L172.3 563.55L172.7 563.5L173.1 562.02L173.5 558.66L173.9 561.47L174.3 560.13L174.7 559.76L175.1 551.33L175.5 557.15L175.9 553.76L176.3 556.69L176.7 555.83L177.1 554.24L177.5 554.51L177.9 551.48L178.3 553.37L178.7 554.06L179.1 552.21L179.5 551.02L179.9 548.56L180.3 548.42L180.7 547.18L181.1 544.41L181.5 544.9L181.9 544.63L182.3 544.92L182.7 541.46L183.1 543.89L183.5 539.4L183.9 538.59L184.3 531.15L184.7 539.06L185.1 539.26L185.5 529.22L185.9 534.41L186.3 533.2L186.7 522.86L187.1 533.91L187.5 533.8L187.9 534.11L188.3 534.89L188.7 532.72L189.1 532.76L189.5 532.42L189.9 530.77L190.3 532.98L190.7 531.86L191.1 522.55L191.5 529.6L191.9 521.43L192.3 525L192.7 523.44L193.1 519.37L193.5 522.62L193.9 520.24L194.3 530.01L194.7 526.14L195.1 521.11L195.5 525.93L195.9 527.18L196.3 525.01L196.7 524.39L197.1 524.84L197.5 526.1L197.9 520.5L198.3 525.7L198.7 523.8L199.1 522.86L199.5 524.22L199.9 522.93L200.3 522.59L200.7 526.72L201.1 522.95L201.5 522.98L201.9 524.7L202.3 524.81L202.7 523.5L203.1 523.95L203.5 520.1L203.9 521.39L204.3 522.91L204.7 523.53L205.1 523.1L205.5 522.99L205.9 523.23L206.3 521.83L206.7 521.61L207.1 521.6L207.5 520.04L207.9 520L208.3 520.68L208.7 522.19L209.1 524.5L209.5 522.34L209.9 523.79L210.3 520.21L210.7 519.64L211.1 520.74L211.5 522.48L211.9 523.44L212.3 522.04L212.7 520.02L213.1 521.02L213.5 520L213.9 521.25L214.3 520.94L214.7 520.55" stroke="#f08080" stroke-width="0.7" fill="none" stroke-linejoin="round" stroke-opacity="0.55"/>
<path d="M54.3 529.4H371.8" stroke="#808080" stroke-width="2" fill="none" stroke-linejoin="round" stroke-dasharray="11 3.5 1.35 3.5"/>
<path d="M54.3 660.4L55.3 660.88L56.3 661.29L57.3 661.63L58.3 661.91L59.3 662.13L60.3 662.3L61.3 662.43L62.3 662.51L63.3 662.57L64.3 662.59L65.3 662.6L66.3 662.49L67.3 662.25L68.3 661.92L69.3 661.54L70.3 661.16L71.3 660.79L72.3 660.33L73.3 659.78L74.3 659.18L75.3 658.58L76.3 658.01L77.3 657.53L78.3 657.18L79.3 657.01L80.3 657L81.3 657.02L82.3 657.05L83.3 657.08L84.3 657.11L85.3 657.15L86.3 657.18L87.3 657.19L88.3 657.2L89.3 656.93L90.3 656.34L91.3 655.56L92.3 654.74L93.3 654.03L94.3 653.57L95.3 653.3L96.3 653.1L97.3 652.93L98.3 652.76L99.3 652.55L100.3 652.27L101.3 651.8L102.3 651.12L103.3 650.31L104.3 649.45L105.3 648.61L106.3 647.88L107.3 647.32L108.3 647.03L109.3 647.01L110.3 647.07L111.3 647.15L112.3 647.23L113.3 647.29L114.3 647.3L115.3 647.26L116.3 647.18L117.3 647.07L118.3 646.93L119.3 646.77L120.3 646.6L121.3 646.42L122.3 646.25L123.3 646.06L124.3 645.85L125.3 645.61L126.3 645.32L127.3 644.97L128.3 644.55L129.3 643.85L130.3 642.7L131.3 641.25L132.3 639.68L133.3 638.14L134.3 636.8L135.3 635.66L136.3 634.6L137.3 633.57L138.3 632.56L139.3 631.54L140.3 630.46L141.3 629.32L142.3 628.1L143.3 626.84L144.3 625.53L145.3 624.17L146.3 622.77L147.3 621.31L148.3 619.81L149.3 618.25L150.3 616.63L151.3 614.95L152.3 613.17L153.3 611.29L154.3 609.29L155.3 607.11L156.3 604.73L157.3 602.22L158.3 599.63L159.3 597.04L160.3 594.48L161.3 591.85L162.3 589.18L163.3 586.49L164.3 583.83L165.3 581.25L166.3 578.76L167.3 576.31L168.3 573.89L169.3 571.53L170.3 569.23L171.3 567L172.3 564.86L173.3 562.79L174.3 560.77L175.3 558.79L176.3 556.8L177.3 554.8L178.3 552.83L179.3 550.87L180.3 548.91L181.3 546.94L182.3 544.92L183.3 542.76L184.3 540.39L185.3 538.08L186.3 536.12L187.3 534.68L188.3 533.38L189.3 532.18L190.3 531.07L191.3 530.06L192.3 529.13L193.3 528.29L194.3 527.53L195.3 526.85L196.3 526.24L197.3 525.69L198.3 525.16L199.3 524.67L200.3 524.2L201.3 523.77L202.3 523.36L203.3 522.99L204.3 522.64L205.3 522.32L206.3 522.03L207.3 521.77L208.3 521.53L209.3 521.3L210.3 521.08L211.3 520.86L212.3 520.66L213.3 520.46L214.3 520.28L215.3 520.12L216.3 519.98L217.3 519.86L218.3 519.78L219.3 519.72L220.3 519.69L221.3 519.67L222.3 519.65L223.3 519.64L224.3 519.62L225.3 519.61L226.3 519.59L227.3 519.58L228.3 519.57L229.3 519.56L230.3 519.55L231.3 519.54L232.3 519.53L233.3 519.52L234.3 519.52L235.3 519.51L236.3 519.51L237.3 519.5L238.3 519.5L239.3 519.5L240.3 519.5L241.3 519.5L242.3 519.5L243.3 519.5L244.3 519.5L245.3 519.5L246.3 519.5L247.3 519.5L248.3 519.5L249.3 519.5L250.3 519.5L251.3 519.5L252.3 519.5L253.3 519.5L254.3 519.5L255.3 519.5L256.3 519.5L257.3 519.5L258.3 519.5L259.3 519.5L260.3 519.5L261.3 519.5L262.3 519.5L263.3 519.5L264.3 519.5L265.3 519.5L266.3 519.5L267.3 519.5L268.3 519.5L269.3 519.51L270.3 519.51L271.3 519.51L272.3 519.51L273.3 519.51L274.3 519.51L275.3 519.51L276.3 519.51L277.3 519.51L278.3 519.51L279.3 519.51L280.3 519.51L281.3 519.52L282.3 519.52L283.3 519.52L284.3 519.52L285.3 519.52L286.3 519.52L287.3 519.52L288.3 519.52L289.3 519.53L290.3 519.53L291.3 519.53L292.3 519.53L293.3 519.53L294.3 519.53L295.3 519.54L296.3 519.54L297.3 519.54L298.3 519.54L299.3 519.55L300.3 519.55L301.3 519.55L302.3 519.55L303.3 519.56L304.3 519.56L305.3 519.56L306.3 519.56L307.3 519.57L308.3 519.57L309.3 519.57L310.3 519.58L311.3 519.58L312.3 519.58L313.3 519.59L314.3 519.59L315.3 519.59L316.3 519.6L317.3 519.6L318.3 519.6L319.3 519.61L320.3 519.61L321.3 519.62L322.3 519.62L323.3 519.63L324.3 519.63L325.3 519.64L326.3 519.64L327.3 519.65L328.3 519.65L329.3 519.66L330.3 519.66L331.3 519.67L332.3 519.67L333.3 519.68L334.3 519.68L335.3 519.69L336.3 519.7L337.3 519.7L338.3 519.71L339.3 519.71L340.3 519.72L341.3 519.73L342.3 519.73L343.3 519.74L344.3 519.75L345.3 519.75L346.3 519.76L347.3 519.77L348.3 519.78L349.3 519.79L350.3 519.79L351.3 519.8L352.3 519.81L353.3 519.82L354.3 519.83L355.3 519.83L356.3 519.84L357.3 519.85L358.3 519.86L359.3 519.87L360.3 519.88L361.3 519.89L362.3 519.9L363.3 519.91L364.3 519.92L365.3 519.93L366.3 519.94L367.3 519.95L368.3 519.96L369.3 519.97L370.3 519.98L371.3 519.99L371.8 520" stroke="#ff0000" stroke-width="3" fill="none" stroke-linejoin="round"/>
<path d="M54.3 627.8L55.3 628.11L56.3 628.41L57.3 628.69L58.3 628.95L59.3 629.18L60.3 629.37L61.3 629.52L62.3 629.63L63.3 629.72L64.3 629.8L65.3 629.87L66.3 629.94L67.3 630L68.3 630.04L69.3 630.08L70.3 630.1L71.3 630.1L72.3 630.04L73.3 629.92L74.3 629.75L75.3 629.54L76.3 629.31L77.3 629.07L78.3 628.84L79.3 628.62L80.3 628.43L81.3 628.27L82.3 628.1L83.3 627.92L84.3 627.75L85.3 627.57L86.3 627.41L87.3 627.25L88.3 627.1L89.3 626.97L90.3 626.86L91.3 626.77L92.3 626.71L93.3 626.67L94.3 626.64L95.3 626.62L96.3 626.6L97.3 626.58L98.3 626.56L99.3 626.55L100.3 626.54L101.3 626.52L102.3 626.5L103.3 626.47L104.3 626.44L105.3 626.4L106.3 626.33L107.3 626.2L108.3 626.02L109.3 625.81L110.3 625.56L111.3 625.29L112.3 625.01L113.3 624.71L114.3 624.41L115.3 624.07L116.3 623.69L117.3 623.27L118.3 622.81L119.3 622.31L120.3 621.79L121.3 621.23L122.3 620.66L123.3 620.06L124.3 619.45L125.3 618.82L126.3 618.16L127.3 617.41L128.3 616.6L129.3 615.76L130.3 614.96L131.3 614.18L132.3 613.39L133.3 612.61L134.3 611.82L135.3 611.04L136.3 610.25L137.3 609.45L138.3 608.66L139.3 607.87L140.3 607.09L141.3 606.31L142.3 605.53L143.3 604.74L144.3 603.92L145.3 603.08L146.3 602.2L147.3 601.29L148.3 600.35L149.3 599.39L150.3 598.4L151.3 597.38L152.3 596.33L153.3 595.24L154.3 594.12L155.3 592.96L156.3 591.74L157.3 590.44L158.3 589.08L159.3 587.66L160.3 586.21L161.3 584.75L162.3 583.28L163.3 581.83L164.3 580.38L165.3 578.9L166.3 577.4L167.3 575.86L168.3 574.26L169.3 572.59L170.3 570.83L171.3 569.02L172.3 567.17L173.3 565.31L174.3 563.46L175.3 561.65L176.3 559.9L177.3 558.17L178.3 556.45L179.3 554.73L180.3 552.99L181.3 551.22L182.3 549.4L183.3 547.54L184.3 545.68L185.3 543.86L186.3 542.04L187.3 540.16L188.3 538.29L189.3 536.51L190.3 534.89L191.3 533.52L192.3 532.35L193.3 531.24L194.3 530.19L195.3 529.21L196.3 528.3L197.3 527.45L198.3 526.69L199.3 526.01L200.3 525.41L201.3 524.9L202.3 524.43L203.3 523.97L204.3 523.53L205.3 523.11L206.3 522.72L207.3 522.35L208.3 522L209.3 521.69L210.3 521.39L211.3 521.13L212.3 520.89L213.3 520.69L214.3 520.52L215.3 520.37L216.3 520.24L217.3 520.12L218.3 519.99L219.3 519.88L220.3 519.76L221.3 519.65L222.3 519.55L223.3 519.45L224.3 519.36L225.3 519.28L226.3 519.2L227.3 519.13L228.3 519.07L229.3 519.02L230.3 518.97L231.3 518.94L232.3 518.92L233.3 518.9L234.3 518.9L235.3 518.9L236.3 518.9L237.3 518.9L238.3 518.9L239.3 518.9L240.3 518.9L241.3 518.91L242.3 518.91L243.3 518.91L244.3 518.91L245.3 518.91L246.3 518.92L247.3 518.92L248.3 518.92L249.3 518.93L250.3 518.93L251.3 518.93L252.3 518.94L253.3 518.94L254.3 518.95L255.3 518.95L256.3 518.96L257.3 518.96L258.3 518.97L259.3 518.97L260.3 518.98L261.3 518.98L262.3 518.99L263.3 518.99L264.3 519L265.3 519.01L266.3 519.01L267.3 519.02L268.3 519.03L269.3 519.03L270.3 519.04L271.3 519.05L272.3 519.05L273.3 519.06L274.3 519.07L275.3 519.08L276.3 519.08L277.3 519.09L278.3 519.1L279.3 519.11L280.3 519.12L281.3 519.13L282.3 519.13L283.3 519.14L284.3 519.15L285.3 519.16L286.3 519.17L287.3 519.18L288.3 519.19L289.3 519.2L290.3 519.21L291.3 519.21L292.3 519.22L293.3 519.23L294.3 519.24L295.3 519.25L296.3 519.26L297.3 519.27L298.3 519.28L299.3 519.29L300.3 519.3L301.3 519.31L302.3 519.32L303.3 519.34L304.3 519.35L305.3 519.36L306.3 519.37L307.3 519.38L308.3 519.4L309.3 519.41L310.3 519.43L311.3 519.44L312.3 519.46L313.3 519.48L314.3 519.49L315.3 519.51L316.3 519.53L317.3 519.55L318.3 519.57L319.3 519.59L320.3 519.62L321.3 519.64L322.3 519.67L323.3 519.69L324.3 519.72L325.3 519.75L326.3 519.78L327.3 519.81L328.3 519.84L329.3 519.88L330.3 519.91L331.3 519.95L332.3 519.98L333.3 520.03L334.3 520.08L335.3 520.15L336.3 520.24L337.3 520.33L338.3 520.44L339.3 520.55L340.3 520.68L341.3 520.8L342.3 520.94L343.3 521.08L344.3 521.22L345.3 521.36L346.3 521.5L347.3 521.64L348.3 521.78L349.3 521.91L350.3 522.04L351.3 522.17L352.3 522.3L353.3 522.43L354.3 522.57L355.3 522.71L356.3 522.85L357.3 522.99L358.3 523.13L359.3 523.27L360.3 523.42L361.3 523.56L362.3 523.7L363.3 523.85L364.3 523.99L365.3 524.13L366.3 524.27L367.3 524.41L368.3 524.54L369.3 524.67L370.3 524.8L371.3 524.93L371.8 525" stroke="#008000" stroke-width="2.7" fill="none" stroke-linejoin="round" stroke-dasharray="14.5 4 2.4 4"/>
<path d="M54.3 576L55.3 576.23L56.3 576.43L57.3 576.6L58.3 576.75L59.3 576.86L60.3 576.94L61.3 576.99L62.3 577L63.3 576.97L64.3 576.92L65.3 576.84L66.3 576.74L67.3 576.63L68.3 576.51L69.3 576.39L70.3 576.26L71.3 576.11L72.3 575.93L73.3 575.73L74.3 575.5L75.3 575.25L76.3 574.99L77.3 574.71L78.3 574.42L79.3 574.13L80.3 573.83L81.3 573.53L82.3 573.23L83.3 572.93L84.3 572.6L85.3 572.26L86.3 571.9L87.3 571.53L88.3 571.15L89.3 570.76L90.3 570.36L91.3 569.95L92.3 569.55L93.3 569.14L94.3 568.74L95.3 568.33L96.3 567.94L97.3 567.55L98.3 567.18L99.3 566.81L100.3 566.46L101.3 566.13L102.3 565.81L103.3 565.51L104.3 565.2L105.3 564.91L106.3 564.62L107.3 564.33L108.3 564.06L109.3 563.78L110.3 563.51L111.3 563.24L112.3 562.97L113.3 562.71L114.3 562.45L115.3 562.18L116.3 561.92L117.3 561.66L118.3 561.39L119.3 561.12L120.3 560.85L121.3 560.58L122.3 560.3L123.3 560.02L124.3 559.73L125.3 559.44L126.3 559.15L127.3 558.85L128.3 558.56L129.3 558.26L130.3 557.97L131.3 557.67L132.3 557.37L133.3 557.07L134.3 556.77L135.3 556.46L136.3 556.15L137.3 555.84L138.3 555.52L139.3 555.2L140.3 554.87L141.3 554.53L142.3 554.19L143.3 553.85L144.3 553.49L145.3 553.13L146.3 552.76L147.3 552.38L148.3 551.99L149.3 551.6L150.3 551.19L151.3 550.78L152.3 550.36L153.3 549.94L154.3 549.51L155.3 549.07L156.3 548.62L157.3 548.16L158.3 547.7L159.3 547.22L160.3 546.74L161.3 546.24L162.3 545.74L163.3 545.23L164.3 544.71L165.3 544.19L166.3 543.66L167.3 543.12L168.3 542.57L169.3 542.01L170.3 541.44L171.3 540.85L172.3 540.26L173.3 539.66L174.3 539.05L175.3 538.44L176.3 537.83L177.3 537.21L178.3 536.6L179.3 535.98L180.3 535.37L181.3 534.74L182.3 534.1L183.3 533.46L184.3 532.82L185.3 532.18L186.3 531.56L187.3 530.95L188.3 530.35L189.3 529.79L190.3 529.23L191.3 528.67L192.3 528.12L193.3 527.58L194.3 527.05L195.3 526.55L196.3 526.07L197.3 525.62L198.3 525.22L199.3 524.84L200.3 524.47L201.3 524.1L202.3 523.75L203.3 523.41L204.3 523.09L205.3 522.79L206.3 522.5L207.3 522.24L208.3 522L209.3 521.8L210.3 521.62L211.3 521.46L212.3 521.3L213.3 521.14L214.3 520.99L215.3 520.84L216.3 520.69L217.3 520.55L218.3 520.41L219.3 520.28L220.3 520.15L221.3 520.03L222.3 519.92L223.3 519.81L224.3 519.71L225.3 519.61L226.3 519.53L227.3 519.45L228.3 519.39L229.3 519.33L230.3 519.28L231.3 519.24L232.3 519.22L233.3 519.2L234.3 519.2L235.3 519.2L236.3 519.2L237.3 519.2L238.3 519.2L239.3 519.2L240.3 519.2L241.3 519.2L242.3 519.2L243.3 519.2L244.3 519.2L245.3 519.2L246.3 519.2L247.3 519.2L248.3 519.2L249.3 519.2L250.3 519.2L251.3 519.2L252.3 519.2L253.3 519.2L254.3 519.2L255.3 519.2L256.3 519.2L257.3 519.2L258.3 519.2L259.3 519.2L260.3 519.2L261.3 519.2L262.3 519.2L263.3 519.2L264.3 519.2L265.3 519.2L266.3 519.2L267.3 519.2L268.3 519.2L269.3 519.2L270.3 519.2L271.3 519.2L272.3 519.2L273.3 519.2L274.3 519.2L275.3 519.2L276.3 519.2L277.3 519.2L278.3 519.2L279.3 519.2L280.3 519.2L281.3 519.2L282.3 519.2L283.3 519.2L284.3 519.2L285.3 519.2L286.3 519.2L287.3 519.2L288.3 519.2L289.3 519.2L290.3 519.2L291.3 519.2L292.3 519.2L293.3 519.2L294.3 519.2L295.3 519.2L296.3 519.2L297.3 519.2L298.3 519.2L299.3 519.2L300.3 519.2L301.3 519.2L302.3 519.2L303.3 519.2L304.3 519.2L305.3 519.2L306.3 519.2L307.3 519.2L308.3 519.2L309.3 519.2L310.3 519.2L311.3 519.2L312.3 519.2L313.3 519.2L314.3 519.2L315.3 519.2L316.3 519.2L317.3 519.2L318.3 519.2L319.3 519.2L320.3 519.2L321.3 519.2L322.3 519.2L323.3 519.2L324.3 519.2L325.3 519.2L326.3 519.2L327.3 519.2L328.3 519.2L329.3 519.2L330.3 519.2L331.3 519.2L332.3 519.2L333.3 519.2L334.3 519.2L335.3 519.2L336.3 519.2L337.3 519.2L338.3 519.2L339.3 519.2L340.3 519.2L341.3 519.2L342.3 519.2L343.3 519.2L344.3 519.2L345.3 519.2L346.3 519.2L347.3 519.2L348.3 519.2L349.3 519.2L350.3 519.2L351.3 519.2L352.3 519.2L353.3 519.2L354.3 519.2L355.3 519.2L356.3 519.2L357.3 519.2L358.3 519.2L359.3 519.2L360.3 519.2L361.3 519.2L362.3 519.2L363.3 519.2L364.3 519.2L365.3 519.2L366.3 519.2L367.3 519.2L368.3 519.2L369.3 519.2L370.3 519.2L371.3 519.2L371.8 519.2" stroke="#0000ff" stroke-width="2.7" fill="none" stroke-linejoin="round" stroke-dasharray="8.4 4.1"/>
<path d="M54.3 567.5L55.3 567.09L56.3 566.67L57.3 566.24L58.3 565.78L59.3 565.3L60.3 564.8L61.3 564.3L62.3 563.78L63.3 563.26L64.3 562.73L65.3 562.21L66.3 561.68L67.3 561.16L68.3 560.65L69.3 560.14L70.3 559.63L71.3 559.13L72.3 558.62L73.3 558.11L74.3 557.61L75.3 557.1L76.3 556.6L77.3 556.1L78.3 555.6L79.3 555.1L80.3 554.61L81.3 554.12L82.3 553.63L83.3 553.13L84.3 552.64L85.3 552.15L86.3 551.65L87.3 551.15L88.3 550.65L89.3 550.15L90.3 549.66L91.3 549.16L92.3 548.66L93.3 548.16L94.3 547.65L95.3 547.14L96.3 546.61L97.3 546.07L98.3 545.52L99.3 544.96L100.3 544.38L101.3 543.8L102.3 543.2L103.3 542.6L104.3 541.99L105.3 541.37L106.3 540.76L107.3 540.14L108.3 539.52L109.3 538.9L110.3 538.26L111.3 537.61L112.3 536.95L113.3 536.3L114.3 535.65L115.3 535.01L116.3 534.39L117.3 533.8L118.3 533.23L119.3 532.69L120.3 532.16L121.3 531.64L122.3 531.13L123.3 530.63L124.3 530.15L125.3 529.68L126.3 529.23L127.3 528.79L128.3 528.36L129.3 527.93L130.3 527.52L131.3 527.11L132.3 526.71L133.3 526.33L134.3 525.97L135.3 525.62L136.3 525.29L137.3 524.98L138.3 524.68L139.3 524.4L140.3 524.13L141.3 523.87L142.3 523.61L143.3 523.37L144.3 523.13L145.3 522.9L146.3 522.67L147.3 522.44L148.3 522.21L149.3 521.99L150.3 521.76L151.3 521.53L152.3 521.3L153.3 521.07L154.3 520.85L155.3 520.64L156.3 520.43L157.3 520.24L158.3 520.06L159.3 519.89L160.3 519.74L161.3 519.61L162.3 519.48L163.3 519.35L164.3 519.23L165.3 519.12L166.3 519.01L167.3 518.91L168.3 518.82L169.3 518.73L170.3 518.65L171.3 518.58L172.3 518.51L173.3 518.45L174.3 518.39L175.3 518.33L176.3 518.27L177.3 518.22L178.3 518.17L179.3 518.12L180.3 518.08L181.3 518.05L182.3 518.02L183.3 518.01L184.3 518L185.3 518L186.3 518L187.3 518L188.3 518L189.3 518L190.3 518L191.3 518L192.3 518L193.3 518L194.3 518L195.3 518L196.3 518L197.3 518L198.3 518.02L199.3 518.03L200.3 518.06L201.3 518.08L202.3 518.11L203.3 518.15L204.3 518.18L205.3 518.21L206.3 518.25L207.3 518.28L208.3 518.31L209.3 518.34L210.3 518.37L211.3 518.4L212.3 518.44L213.3 518.47L214.3 518.5L215.3 518.54L216.3 518.57L217.3 518.61L218.3 518.64L219.3 518.68L220.3 518.71L221.3 518.75L222.3 518.79L223.3 518.84L224.3 518.88L225.3 518.93L226.3 518.97L227.3 519.02L228.3 519.06L229.3 519.1L230.3 519.13L231.3 519.16L232.3 519.18L233.3 519.19L234.3 519.2L235.3 519.21L236.3 519.21L237.3 519.22L238.3 519.22L239.3 519.23L240.3 519.23L241.3 519.24L242.3 519.24L243.3 519.25L244.3 519.25L245.3 519.26L246.3 519.26L247.3 519.27L248.3 519.27L249.3 519.28L250.3 519.28L251.3 519.28L252.3 519.29L253.3 519.29L254.3 519.3L255.3 519.3L256.3 519.31L257.3 519.31L258.3 519.31L259.3 519.32L260.3 519.32L261.3 519.33L262.3 519.33L263.3 519.33L264.3 519.34L265.3 519.34L266.3 519.34L267.3 519.35L268.3 519.35L269.3 519.35L270.3 519.36L271.3 519.36L272.3 519.36L273.3 519.37L274.3 519.37L275.3 519.37L276.3 519.38L277.3 519.38L278.3 519.38L279.3 519.39L280.3 519.39L281.3 519.39L282.3 519.39L283.3 519.4L284.3 519.4L285.3 519.4L286.3 519.41L287.3 519.41L288.3 519.41L289.3 519.41L290.3 519.42L291.3 519.42L292.3 519.42L293.3 519.42L294.3 519.43L295.3 519.43L296.3 519.43L297.3 519.43L298.3 519.43L299.3 519.44L300.3 519.44L301.3 519.44L302.3 519.44L303.3 519.44L304.3 519.45L305.3 519.45L306.3 519.45L307.3 519.45L308.3 519.45L309.3 519.45L310.3 519.46L311.3 519.46L312.3 519.46L313.3 519.46L314.3 519.46L315.3 519.46L316.3 519.47L317.3 519.47L318.3 519.47L319.3 519.47L320.3 519.47L321.3 519.47L322.3 519.47L323.3 519.47L324.3 519.48L325.3 519.48L326.3 519.48L327.3 519.48L328.3 519.48L329.3 519.48L330.3 519.48L331.3 519.48L332.3 519.48L333.3 519.48L334.3 519.49L335.3 519.49L336.3 519.49L337.3 519.49L338.3 519.49L339.3 519.49L340.3 519.49L341.3 519.49L342.3 519.49L343.3 519.49L344.3 519.49L345.3 519.49L346.3 519.49L347.3 519.49L348.3 519.49L349.3 519.5L350.3 519.5L351.3 519.5L352.3 519.5L353.3 519.5L354.3 519.5L355.3 519.5L356.3 519.5L357.3 519.5L358.3 519.5L359.3 519.5L360.3 519.5L361.3 519.5L362.3 519.5L363.3 519.5L364.3 519.5L365.3 519.5L366.3 519.5L367.3 519.5L368.3 519.5L369.3 519.5L370.3 519.5L371.3 519.5L371.8 519.5" stroke="#ffa500" stroke-width="2.7" fill="none" stroke-linejoin="round" stroke-dasharray="2.5 3.8"/>
</g>
<path d="M464 198.4V19.2" stroke="#808080" stroke-width="1.9" fill="none" stroke-linejoin="round" stroke-dasharray="7.3 3.45"/>
<path d="M724.5 198.4V19.2" stroke="#808080" stroke-width="1.6" fill="none" stroke-linejoin="round" stroke-dasharray="12 4 1.6 4"/>
<g clip-path="url(#cd)">
<path d="M441.4 126.92L442.4 126.9L443.4 126.87L444.4 126.84L445.4 126.81L446.4 126.78L447.4 126.74L448.4 126.7L449.4 126.66L450.4 126.62L451.4 126.57L452.4 126.52L453.4 126.47L454.4 126.41L455.4 126.35L456.4 126.29L457.4 126.22L458.4 126.16L459.4 126.08L460.4 126.01L461.4 125.93L462.4 125.85L463.4 125.76L464.4 125.67L465.4 125.58L466.4 125.49L467.4 125.39L468.4 125.28L469.4 125.18L470.4 125.07L471.4 124.95L472.4 124.84L473.4 124.71L474.4 124.59L475.4 124.46L476.4 124.32L477.4 124.19L478.4 124.04L479.4 123.9L480.4 123.75L481.4 123.59L482.4 123.43L483.4 123.27L484.4 123.1L485.4 122.93L486.4 122.75L487.4 122.57L488.4 122.38L489.4 122.19L490.4 122L491.4 121.79L492.4 121.59L493.4 121.38L494.4 121.16L495.4 120.94L496.4 120.72L497.4 120.49L498.4 120.25L499.4 120.01L500.4 119.77L501.4 119.52L502.4 119.26L503.4 119L504.4 118.73L505.4 118.46L506.4 118.18L507.4 117.9L508.4 117.61L509.4 117.31L510.4 117.01L511.4 116.7L512.4 116.39L513.4 116.07L514.4 115.75L515.4 115.42L516.4 115.08L517.4 114.74L518.4 114.39L519.4 114.04L520.4 113.68L521.4 113.31L522.4 112.94L523.4 112.56L524.4 112.18L525.4 111.79L526.4 111.4L527.4 111L528.4 110.6L529.4 110.19L530.4 109.78L531.4 109.36L532.4 108.94L533.4 108.51L534.4 108.08L535.4 107.65L536.4 107.21L537.4 106.77L538.4 106.32L539.4 105.87L540.4 105.42L541.4 104.96L542.4 104.51L543.4 104.04L544.4 103.58L545.4 103.11L546.4 102.64L547.4 102.17L548.4 101.69L549.4 101.22L550.4 100.74L551.4 100.25L552.4 99.77L553.4 99.29L554.4 98.8L555.4 98.31L556.4 97.82L557.4 97.33L558.4 96.84L559.4 96.34L560.4 95.85L561.4 95.35L562.4 94.86L563.4 94.36L564.4 93.87L565.4 93.37L566.4 92.87L567.4 92.38L568.4 91.88L569.4 91.38L570.4 90.89L571.4 90.39L572.4 89.9L573.4 89.4L574.4 88.91L575.4 88.42L576.4 87.93L577.4 87.44L578.4 86.95L579.4 86.47L580.4 85.98L581.4 85.5L582.4 85.02L583.4 84.54L584.4 84.06L585.4 83.59L586.4 83.11L587.4 82.64L588.4 82.18L589.4 81.71L590.4 81.25L591.4 80.79L592.4 80.34L593.4 79.89L594.4 79.44L595.4 78.99L596.4 78.55L597.4 78.12L598.4 77.68L599.4 77.25L600.4 76.83L601.4 76.4L602.4 75.98L603.4 75.57L604.4 75.16L605.4 74.75L606.4 74.34L607.4 73.94L608.4 73.54L609.4 73.15L610.4 72.76L611.4 72.37L612.4 71.99L613.4 71.61L614.4 71.23L615.4 70.86L616.4 70.49L617.4 70.13L618.4 69.77L619.4 69.41L620.4 69.05L621.4 68.7L622.4 68.35L623.4 68.01L624.4 67.67L625.4 67.33L626.4 67L627.4 66.67L628.4 66.34L629.4 66.02L630.4 65.7L631.4 65.39L632.4 65.08L633.4 64.77L634.4 64.46L635.4 64.16L636.4 63.86L637.4 63.57L638.4 63.28L639.4 62.99L640.4 62.7L641.4 62.42L642.4 62.15L643.4 61.87L644.4 61.6L645.4 61.34L646.4 61.07L647.4 60.81L648.4 60.56L649.4 60.3L650.4 60.05L651.4 59.81L652.4 59.57L653.4 59.33L654.4 59.09L655.4 58.86L656.4 58.63L657.4 58.4L658.4 58.18L659.4 57.96L660.4 57.75L661.4 57.54L662.4 57.33L663.4 57.12L664.4 56.92L665.4 56.72L666.4 56.53L667.4 56.34L668.4 56.15L669.4 55.97L670.4 55.78L671.4 55.61L672.4 55.43L673.4 55.26L674.4 55.09L675.4 54.93L676.4 54.77L677.4 54.61L678.4 54.46L679.4 54.31L680.4 54.16L681.4 54.01L682.4 53.87L683.4 53.74L684.4 53.6L685.4 53.47L686.4 53.34L687.4 53.22L688.4 53.1L689.4 52.98L690.4 52.87L691.4 52.75L692.4 52.65L693.4 52.54L694.4 52.44L695.4 52.34L696.4 52.25L697.4 52.16L698.4 52.07L699.4 51.98L700.4 51.9L701.4 51.82L702.4 51.75L703.4 51.68L704.4 51.61L705.4 51.54L706.4 51.48L707.4 51.42L708.4 51.37L709.4 51.32L710.4 51.27L711.4 51.22L712.4 51.18L713.4 51.14L714.4 51.1L715.4 51.07L716.4 51.04L717.4 51.02L718.4 50.99L719.4 50.97L720.4 50.96L721.4 50.94L722.4 50.93L723.4 50.92L724.4 50.92L725.4 50.92L726.4 50.92L727.4 50.93L728.4 50.94L729.4 50.95L730.4 50.96L731.4 50.98L732.4 51L733.4 51.03L734.4 51.05L735.4 51.09L736.4 51.12L737.4 51.16L738.4 51.2L739.4 51.24L740.4 51.29L741.4 51.34L742.4 51.39L743.4 51.44L744.4 51.5L745.4 51.57L746.4 51.63L747.4 51.7L748.4 51.77L749.4 51.84L750.4 51.92L751.4 52L752.4 52.09L753.4 52.17L754.4 52.26L755.4 52.36L756.4 52.45L757.4 52.55" stroke="#ff0000" stroke-width="2.3" fill="none" stroke-linejoin="round"/>
<circle cx="441.5" cy="126.92" r="3.3" fill="#ff0000"/>
<circle cx="451.1" cy="126.58" r="3.3" fill="#ff0000"/>
<circle cx="460.7" cy="125.99" r="3.3" fill="#ff0000"/>
<circle cx="470.3" cy="125.08" r="3.3" fill="#ff0000"/>
<circle cx="479.9" cy="123.82" r="3.3" fill="#ff0000"/>
<circle cx="489.5" cy="122.17" r="3.3" fill="#ff0000"/>
<circle cx="499.1" cy="120.08" r="3.3" fill="#ff0000"/>
<circle cx="508.7" cy="117.52" r="3.3" fill="#ff0000"/>
<circle cx="518.3" cy="114.43" r="3.3" fill="#ff0000"/>
<circle cx="527.9" cy="110.8" r="3.3" fill="#ff0000"/>
<circle cx="537.5" cy="106.72" r="3.3" fill="#ff0000"/>
<circle cx="547.1" cy="102.31" r="3.3" fill="#ff0000"/>
<circle cx="556.7" cy="97.67" r="3.3" fill="#ff0000"/>
<circle cx="566.3" cy="92.92" r="3.3" fill="#ff0000"/>
<circle cx="575.9" cy="88.17" r="3.3" fill="#ff0000"/>
<circle cx="585.5" cy="83.54" r="3.3" fill="#ff0000"/>
<circle cx="595.1" cy="79.13" r="3.3" fill="#ff0000"/>
<circle cx="604.7" cy="75.03" r="3.3" fill="#ff0000"/>
<circle cx="614.3" cy="71.27" r="3.3" fill="#ff0000"/>
<circle cx="623.9" cy="67.84" r="3.3" fill="#ff0000"/>
<circle cx="633.5" cy="64.74" r="3.3" fill="#ff0000"/>
<circle cx="643.1" cy="61.95" r="3.3" fill="#ff0000"/>
<circle cx="652.7" cy="59.49" r="3.3" fill="#ff0000"/>
<circle cx="662.3" cy="57.35" r="3.3" fill="#ff0000"/>
<circle cx="671.9" cy="55.52" r="3.3" fill="#ff0000"/>
<circle cx="681.5" cy="54" r="3.3" fill="#ff0000"/>
<circle cx="691.1" cy="52.79" r="3.3" fill="#ff0000"/>
<circle cx="700.7" cy="51.88" r="3.3" fill="#ff0000"/>
<circle cx="710.3" cy="51.27" r="3.3" fill="#ff0000"/>
<circle cx="719.9" cy="50.96" r="3.3" fill="#ff0000"/>
<circle cx="729.5" cy="50.95" r="3.3" fill="#ff0000"/>
<circle cx="739.1" cy="51.23" r="3.3" fill="#ff0000"/>
<circle cx="748.7" cy="51.79" r="3.3" fill="#ff0000"/>
<circle cx="758.3" cy="52.55" r="3.3" fill="#ff0000"/>
<path d="M441.4 115.68L442.4 115.7L443.4 115.71L444.4 115.72L445.4 115.73L446.4 115.74L447.4 115.74L448.4 115.73L449.4 115.73L450.4 115.72L451.4 115.7L452.4 115.68L453.4 115.66L454.4 115.64L455.4 115.61L456.4 115.58L457.4 115.54L458.4 115.5L459.4 115.45L460.4 115.4L461.4 115.35L462.4 115.3L463.4 115.23L464.4 115.17L465.4 115.1L466.4 115.03L467.4 114.95L468.4 114.87L469.4 114.78L470.4 114.69L471.4 114.6L472.4 114.5L473.4 114.4L474.4 114.29L475.4 114.18L476.4 114.06L477.4 113.94L478.4 113.81L479.4 113.68L480.4 113.55L481.4 113.41L482.4 113.26L483.4 113.11L484.4 112.96L485.4 112.8L486.4 112.64L487.4 112.47L488.4 112.3L489.4 112.12L490.4 111.94L491.4 111.75L492.4 111.56L493.4 111.36L494.4 111.15L495.4 110.95L496.4 110.73L497.4 110.51L498.4 110.29L499.4 110.06L500.4 109.83L501.4 109.59L502.4 109.34L503.4 109.09L504.4 108.83L505.4 108.57L506.4 108.31L507.4 108.03L508.4 107.76L509.4 107.47L510.4 107.18L511.4 106.89L512.4 106.59L513.4 106.28L514.4 105.97L515.4 105.65L516.4 105.33L517.4 105L518.4 104.66L519.4 104.32L520.4 103.98L521.4 103.62L522.4 103.26L523.4 102.9L524.4 102.53L525.4 102.15L526.4 101.77L527.4 101.38L528.4 100.98L529.4 100.58L530.4 100.17L531.4 99.76L532.4 99.34L533.4 98.91L534.4 98.48L535.4 98.05L536.4 97.61L537.4 97.16L538.4 96.71L539.4 96.26L540.4 95.8L541.4 95.33L542.4 94.87L543.4 94.39L544.4 93.92L545.4 93.44L546.4 92.96L547.4 92.47L548.4 91.98L549.4 91.48L550.4 90.99L551.4 90.49L552.4 89.98L553.4 89.48L554.4 88.97L555.4 88.46L556.4 87.95L557.4 87.43L558.4 86.92L559.4 86.4L560.4 85.88L561.4 85.35L562.4 84.83L563.4 84.31L564.4 83.78L565.4 83.25L566.4 82.73L567.4 82.2L568.4 81.67L569.4 81.14L570.4 80.61L571.4 80.08L572.4 79.55L573.4 79.02L574.4 78.49L575.4 77.96L576.4 77.43L577.4 76.9L578.4 76.37L579.4 75.84L580.4 75.32L581.4 74.79L582.4 74.27L583.4 73.74L584.4 73.22L585.4 72.71L586.4 72.19L587.4 71.67L588.4 71.16L589.4 70.65L590.4 70.14L591.4 69.64L592.4 69.13L593.4 68.63L594.4 68.14L595.4 67.64L596.4 67.15L597.4 66.67L598.4 66.18L599.4 65.7L600.4 65.23L601.4 64.75L602.4 64.29L603.4 63.82L604.4 63.36L605.4 62.91L606.4 62.46L607.4 62.01L608.4 61.57L609.4 61.14L610.4 60.7L611.4 60.28L612.4 59.85L613.4 59.43L614.4 59.02L615.4 58.61L616.4 58.21L617.4 57.81L618.4 57.41L619.4 57.02L620.4 56.64L621.4 56.25L622.4 55.88L623.4 55.51L624.4 55.14L625.4 54.78L626.4 54.42L627.4 54.06L628.4 53.72L629.4 53.37L630.4 53.03L631.4 52.7L632.4 52.37L633.4 52.04L634.4 51.72L635.4 51.41L636.4 51.1L637.4 50.79L638.4 50.49L639.4 50.19L640.4 49.9L641.4 49.61L642.4 49.33L643.4 49.05L644.4 48.78L645.4 48.51L646.4 48.25L647.4 47.99L648.4 47.74L649.4 47.49L650.4 47.24L651.4 47L652.4 46.77L653.4 46.54L654.4 46.32L655.4 46.1L656.4 45.88L657.4 45.67L658.4 45.46L659.4 45.26L660.4 45.07L661.4 44.88L662.4 44.69L663.4 44.51L664.4 44.33L665.4 44.16L666.4 44L667.4 43.84L668.4 43.68L669.4 43.53L670.4 43.38L671.4 43.24L672.4 43.1L673.4 42.97L674.4 42.84L675.4 42.72L676.4 42.6L677.4 42.49L678.4 42.39L679.4 42.28L680.4 42.19L681.4 42.09L682.4 42.01L683.4 41.93L684.4 41.85L685.4 41.78L686.4 41.71L687.4 41.64L688.4 41.58L689.4 41.53L690.4 41.48L691.4 41.43L692.4 41.38L693.4 41.34L694.4 41.31L695.4 41.27L696.4 41.24L697.4 41.22L698.4 41.19L699.4 41.17L700.4 41.15L701.4 41.14L702.4 41.12L703.4 41.11L704.4 41.1L705.4 41.1L706.4 41.09L707.4 41.09L708.4 41.09L709.4 41.09L710.4 41.09L711.4 41.09L712.4 41.1L713.4 41.1L714.4 41.11L715.4 41.12L716.4 41.12L717.4 41.13L718.4 41.14L719.4 41.15L720.4 41.16L721.4 41.17L722.4 41.18L723.4 41.19L724.4 41.2L725.4 41.21L726.4 41.22L727.4 41.23L728.4 41.24L729.4 41.24L730.4 41.25L731.4 41.25L732.4 41.26L733.4 41.26L734.4 41.26L735.4 41.26L736.4 41.25L737.4 41.25L738.4 41.24L739.4 41.23L740.4 41.22L741.4 41.21L742.4 41.19L743.4 41.17L744.4 41.15L745.4 41.13L746.4 41.1L747.4 41.07L748.4 41.04L749.4 41L750.4 40.96L751.4 40.91L752.4 40.86L753.4 40.81L754.4 40.76L755.4 40.7L756.4 40.63L757.4 40.56" stroke="#008000" stroke-width="2.3" fill="none" stroke-linejoin="round"/>
<path d="M438.1 112.08L444.9 112.08L441.5 119.28Z" fill="#008000"/>
<path d="M447.7 112.11L454.5 112.11L451.1 119.31Z" fill="#008000"/>
<path d="M457.3 111.79L464.1 111.79L460.7 118.99Z" fill="#008000"/>
<path d="M466.9 111.1L473.7 111.1L470.3 118.3Z" fill="#008000"/>
<path d="M476.5 110.02L483.3 110.02L479.9 117.22Z" fill="#008000"/>
<path d="M486.1 108.5L492.9 108.5L489.5 115.7Z" fill="#008000"/>
<path d="M495.7 106.53L502.5 106.53L499.1 113.73Z" fill="#008000"/>
<path d="M505.3 104.07L512.1 104.07L508.7 111.27Z" fill="#008000"/>
<path d="M514.9 101.1L521.7 101.1L518.3 108.3Z" fill="#008000"/>
<path d="M524.5 97.58L531.3 97.58L527.9 104.78Z" fill="#008000"/>
<path d="M534.1 93.52L540.9 93.52L537.5 100.72Z" fill="#008000"/>
<path d="M543.7 89.01L550.5 89.01L547.1 96.21Z" fill="#008000"/>
<path d="M553.3 84.19L560.1 84.19L556.7 91.39Z" fill="#008000"/>
<path d="M562.9 79.18L569.7 79.18L566.3 86.38Z" fill="#008000"/>
<path d="M572.5 74.09L579.3 74.09L575.9 81.29Z" fill="#008000"/>
<path d="M582.1 69.05L588.9 69.05L585.5 76.25Z" fill="#008000"/>
<path d="M591.7 64.19L598.5 64.19L595.1 71.39Z" fill="#008000"/>
<path d="M601.3 59.63L608.1 59.63L604.7 66.83Z" fill="#008000"/>
<path d="M610.9 55.46L617.7 55.46L614.3 62.66Z" fill="#008000"/>
<path d="M620.5 51.72L627.3 51.72L623.9 58.92Z" fill="#008000"/>
<path d="M630.1 48.41L636.9 48.41L633.5 55.61Z" fill="#008000"/>
<path d="M639.7 45.54L646.5 45.54L643.1 52.74Z" fill="#008000"/>
<path d="M649.3 43.1L656.1 43.1L652.7 50.3Z" fill="#008000"/>
<path d="M658.9 41.11L665.7 41.11L662.3 48.31Z" fill="#008000"/>
<path d="M668.5 39.57L675.3 39.57L671.9 46.77Z" fill="#008000"/>
<path d="M678.1 38.49L684.9 38.49L681.5 45.69Z" fill="#008000"/>
<path d="M687.7 37.84L694.5 37.84L691.1 45.04Z" fill="#008000"/>
<path d="M697.3 37.55L704.1 37.55L700.7 44.75Z" fill="#008000"/>
<path d="M706.9 37.49L713.7 37.49L710.3 44.69Z" fill="#008000"/>
<path d="M716.5 37.56L723.3 37.56L719.9 44.76Z" fill="#008000"/>
<path d="M726.1 37.64L732.9 37.64L729.5 44.84Z" fill="#008000"/>
<path d="M735.7 37.64L742.5 37.64L739.1 44.84Z" fill="#008000"/>
<path d="M745.3 37.42L752.1 37.42L748.7 44.62Z" fill="#008000"/>
<path d="M754.9 36.96L761.7 36.96L758.3 44.16Z" fill="#008000"/>
<path d="M441.4 153.93L442.4 153.82L443.4 153.7L444.4 153.58L445.4 153.47L446.4 153.35L447.4 153.23L448.4 153.11L449.4 152.99L450.4 152.87L451.4 152.75L452.4 152.63L453.4 152.51L454.4 152.39L455.4 152.27L456.4 152.15L457.4 152.02L458.4 151.9L459.4 151.78L460.4 151.65L461.4 151.52L462.4 151.4L463.4 151.27L464.4 151.14L465.4 151.01L466.4 150.88L467.4 150.75L468.4 150.62L469.4 150.48L470.4 150.35L471.4 150.21L472.4 150.08L473.4 149.94L474.4 149.8L475.4 149.66L476.4 149.52L477.4 149.38L478.4 149.23L479.4 149.09L480.4 148.94L481.4 148.79L482.4 148.65L483.4 148.5L484.4 148.34L485.4 148.19L486.4 148.04L487.4 147.88L488.4 147.72L489.4 147.56L490.4 147.4L491.4 147.24L492.4 147.08L493.4 146.91L494.4 146.74L495.4 146.57L496.4 146.4L497.4 146.23L498.4 146.06L499.4 145.88L500.4 145.7L501.4 145.52L502.4 145.34L503.4 145.16L504.4 144.97L505.4 144.79L506.4 144.6L507.4 144.4L508.4 144.21L509.4 144.01L510.4 143.82L511.4 143.62L512.4 143.41L513.4 143.21L514.4 143L515.4 142.79L516.4 142.58L517.4 142.37L518.4 142.15L519.4 141.94L520.4 141.71L521.4 141.49L522.4 141.27L523.4 141.04L524.4 140.81L525.4 140.58L526.4 140.34L527.4 140.11L528.4 139.87L529.4 139.63L530.4 139.39L531.4 139.15L532.4 138.9L533.4 138.66L534.4 138.41L535.4 138.16L536.4 137.9L537.4 137.65L538.4 137.39L539.4 137.14L540.4 136.88L541.4 136.62L542.4 136.36L543.4 136.1L544.4 135.83L545.4 135.57L546.4 135.3L547.4 135.03L548.4 134.76L549.4 134.49L550.4 134.22L551.4 133.95L552.4 133.68L553.4 133.4L554.4 133.13L555.4 132.85L556.4 132.57L557.4 132.29L558.4 132.02L559.4 131.74L560.4 131.46L561.4 131.18L562.4 130.89L563.4 130.61L564.4 130.33L565.4 130.05L566.4 129.76L567.4 129.48L568.4 129.19L569.4 128.91L570.4 128.62L571.4 128.34L572.4 128.05L573.4 127.77L574.4 127.48L575.4 127.2L576.4 126.91L577.4 126.62L578.4 126.34L579.4 126.05L580.4 125.76L581.4 125.48L582.4 125.19L583.4 124.91L584.4 124.62L585.4 124.34L586.4 124.05L587.4 123.77L588.4 123.48L589.4 123.2L590.4 122.92L591.4 122.63L592.4 122.35L593.4 122.07L594.4 121.79L595.4 121.51L596.4 121.23L597.4 120.95L598.4 120.68L599.4 120.4L600.4 120.12L601.4 119.85L602.4 119.57L603.4 119.3L604.4 119.03L605.4 118.75L606.4 118.48L607.4 118.21L608.4 117.95L609.4 117.68L610.4 117.41L611.4 117.15L612.4 116.88L613.4 116.62L614.4 116.36L615.4 116.1L616.4 115.84L617.4 115.58L618.4 115.32L619.4 115.07L620.4 114.81L621.4 114.56L622.4 114.31L623.4 114.06L624.4 113.81L625.4 113.56L626.4 113.32L627.4 113.07L628.4 112.83L629.4 112.59L630.4 112.35L631.4 112.11L632.4 111.88L633.4 111.64L634.4 111.41L635.4 111.18L636.4 110.95L637.4 110.72L638.4 110.5L639.4 110.27L640.4 110.05L641.4 109.83L642.4 109.61L643.4 109.4L644.4 109.18L645.4 108.97L646.4 108.76L647.4 108.55L648.4 108.35L649.4 108.15L650.4 107.94L651.4 107.74L652.4 107.55L653.4 107.35L654.4 107.16L655.4 106.97L656.4 106.78L657.4 106.59L658.4 106.41L659.4 106.23L660.4 106.05L661.4 105.87L662.4 105.7L663.4 105.53L664.4 105.36L665.4 105.19L666.4 105.03L667.4 104.87L668.4 104.71L669.4 104.55L670.4 104.4L671.4 104.25L672.4 104.1L673.4 103.96L674.4 103.81L675.4 103.67L676.4 103.54L677.4 103.4L678.4 103.27L679.4 103.14L680.4 103.01L681.4 102.89L682.4 102.77L683.4 102.65L684.4 102.53L685.4 102.42L686.4 102.3L687.4 102.19L688.4 102.09L689.4 101.98L690.4 101.88L691.4 101.78L692.4 101.68L693.4 101.59L694.4 101.49L695.4 101.4L696.4 101.31L697.4 101.23L698.4 101.14L699.4 101.06L700.4 100.98L701.4 100.9L702.4 100.82L703.4 100.75L704.4 100.68L705.4 100.61L706.4 100.54L707.4 100.47L708.4 100.41L709.4 100.35L710.4 100.29L711.4 100.23L712.4 100.17L713.4 100.12L714.4 100.07L715.4 100.01L716.4 99.97L717.4 99.92L718.4 99.87L719.4 99.83L720.4 99.79L721.4 99.75L722.4 99.71L723.4 99.67L724.4 99.63L725.4 99.6L726.4 99.57L727.4 99.54L728.4 99.51L729.4 99.48L730.4 99.45L731.4 99.43L732.4 99.4L733.4 99.38L734.4 99.36L735.4 99.34L736.4 99.32L737.4 99.31L738.4 99.29L739.4 99.28L740.4 99.26L741.4 99.25L742.4 99.24L743.4 99.23L744.4 99.22L745.4 99.22L746.4 99.21L747.4 99.21L748.4 99.2L749.4 99.2L750.4 99.2L751.4 99.2L752.4 99.2L753.4 99.2L754.4 99.2L755.4 99.2L756.4 99.21L757.4 99.21" stroke="#0000ff" stroke-width="2.3" fill="none" stroke-linejoin="round"/>
<rect x="438.4" y="150.82" width="6.2" height="6.2" fill="#0000ff"/>
<rect x="448" y="149.69" width="6.2" height="6.2" fill="#0000ff"/>
<rect x="457.6" y="148.51" width="6.2" height="6.2" fill="#0000ff"/>
<rect x="467.2" y="147.26" width="6.2" height="6.2" fill="#0000ff"/>
<rect x="476.8" y="145.91" width="6.2" height="6.2" fill="#0000ff"/>
<rect x="486.4" y="144.45" width="6.2" height="6.2" fill="#0000ff"/>
<rect x="496" y="142.83" width="6.2" height="6.2" fill="#0000ff"/>
<rect x="505.6" y="141.05" width="6.2" height="6.2" fill="#0000ff"/>
<rect x="515.2" y="139.08" width="6.2" height="6.2" fill="#0000ff"/>
<rect x="524.8" y="136.89" width="6.2" height="6.2" fill="#0000ff"/>
<rect x="534.4" y="134.52" width="6.2" height="6.2" fill="#0000ff"/>
<rect x="544" y="132.01" width="6.2" height="6.2" fill="#0000ff"/>
<rect x="553.6" y="129.39" width="6.2" height="6.2" fill="#0000ff"/>
<rect x="563.2" y="126.69" width="6.2" height="6.2" fill="#0000ff"/>
<rect x="572.8" y="123.95" width="6.2" height="6.2" fill="#0000ff"/>
<rect x="582.4" y="121.21" width="6.2" height="6.2" fill="#0000ff"/>
<rect x="592" y="118.49" width="6.2" height="6.2" fill="#0000ff"/>
<rect x="601.6" y="115.84" width="6.2" height="6.2" fill="#0000ff"/>
<rect x="611.2" y="113.28" width="6.2" height="6.2" fill="#0000ff"/>
<rect x="620.8" y="110.83" width="6.2" height="6.2" fill="#0000ff"/>
<rect x="630.4" y="108.52" width="6.2" height="6.2" fill="#0000ff"/>
<rect x="640" y="106.36" width="6.2" height="6.2" fill="#0000ff"/>
<rect x="649.6" y="104.39" width="6.2" height="6.2" fill="#0000ff"/>
<rect x="659.2" y="102.62" width="6.2" height="6.2" fill="#0000ff"/>
<rect x="668.8" y="101.08" width="6.2" height="6.2" fill="#0000ff"/>
<rect x="678.4" y="99.78" width="6.2" height="6.2" fill="#0000ff"/>
<rect x="688" y="98.71" width="6.2" height="6.2" fill="#0000ff"/>
<rect x="697.6" y="97.85" width="6.2" height="6.2" fill="#0000ff"/>
<rect x="707.2" y="97.19" width="6.2" height="6.2" fill="#0000ff"/>
<rect x="716.8" y="96.71" width="6.2" height="6.2" fill="#0000ff"/>
<rect x="726.4" y="96.38" width="6.2" height="6.2" fill="#0000ff"/>
<rect x="736" y="96.18" width="6.2" height="6.2" fill="#0000ff"/>
<rect x="745.6" y="96.1" width="6.2" height="6.2" fill="#0000ff"/>
<rect x="755.2" y="96.11" width="6.2" height="6.2" fill="#0000ff"/>
<path d="M441.4 168.7L442.4 168.34L443.4 167.99L444.4 167.63L445.4 167.27L446.4 166.91L447.4 166.56L448.4 166.2L449.4 165.84L450.4 165.48L451.4 165.12L452.4 164.76L453.4 164.39L454.4 164.03L455.4 163.67L456.4 163.31L457.4 162.94L458.4 162.58L459.4 162.21L460.4 161.85L461.4 161.48L462.4 161.12L463.4 160.75L464.4 160.38L465.4 160.02L466.4 159.65L467.4 159.28L468.4 158.91L469.4 158.55L470.4 158.18L471.4 157.81L472.4 157.44L473.4 157.07L474.4 156.7L475.4 156.33L476.4 155.96L477.4 155.59L478.4 155.22L479.4 154.85L480.4 154.48L481.4 154.11L482.4 153.74L483.4 153.37L484.4 153L485.4 152.62L486.4 152.25L487.4 151.88L488.4 151.51L489.4 151.14L490.4 150.77L491.4 150.4L492.4 150.03L493.4 149.65L494.4 149.28L495.4 148.91L496.4 148.54L497.4 148.17L498.4 147.8L499.4 147.43L500.4 147.06L501.4 146.69L502.4 146.32L503.4 145.95L504.4 145.58L505.4 145.21L506.4 144.84L507.4 144.47L508.4 144.1L509.4 143.73L510.4 143.36L511.4 142.99L512.4 142.63L513.4 142.26L514.4 141.89L515.4 141.52L516.4 141.16L517.4 140.79L518.4 140.42L519.4 140.06L520.4 139.69L521.4 139.33L522.4 138.97L523.4 138.6L524.4 138.24L525.4 137.88L526.4 137.51L527.4 137.15L528.4 136.79L529.4 136.43L530.4 136.07L531.4 135.71L532.4 135.35L533.4 134.99L534.4 134.63L535.4 134.28L536.4 133.92L537.4 133.57L538.4 133.21L539.4 132.86L540.4 132.5L541.4 132.15L542.4 131.8L543.4 131.44L544.4 131.09L545.4 130.74L546.4 130.39L547.4 130.05L548.4 129.7L549.4 129.35L550.4 129.01L551.4 128.66L552.4 128.32L553.4 127.97L554.4 127.63L555.4 127.29L556.4 126.95L557.4 126.61L558.4 126.27L559.4 125.93L560.4 125.59L561.4 125.26L562.4 124.92L563.4 124.59L564.4 124.26L565.4 123.92L566.4 123.59L567.4 123.26L568.4 122.94L569.4 122.61L570.4 122.28L571.4 121.96L572.4 121.63L573.4 121.31L574.4 120.99L575.4 120.67L576.4 120.35L577.4 120.03L578.4 119.71L579.4 119.4L580.4 119.08L581.4 118.77L582.4 118.46L583.4 118.15L584.4 117.84L585.4 117.53L586.4 117.22L587.4 116.92L588.4 116.61L589.4 116.31L590.4 116.01L591.4 115.71L592.4 115.41L593.4 115.12L594.4 114.82L595.4 114.53L596.4 114.23L597.4 113.94L598.4 113.65L599.4 113.37L600.4 113.08L601.4 112.8L602.4 112.51L603.4 112.23L604.4 111.95L605.4 111.67L606.4 111.4L607.4 111.12L608.4 110.85L609.4 110.57L610.4 110.3L611.4 110.04L612.4 109.77L613.4 109.5L614.4 109.24L615.4 108.98L616.4 108.72L617.4 108.46L618.4 108.2L619.4 107.95L620.4 107.69L621.4 107.44L622.4 107.19L623.4 106.95L624.4 106.7L625.4 106.46L626.4 106.21L627.4 105.97L628.4 105.73L629.4 105.5L630.4 105.26L631.4 105.03L632.4 104.8L633.4 104.57L634.4 104.34L635.4 104.12L636.4 103.89L637.4 103.67L638.4 103.45L639.4 103.23L640.4 103.02L641.4 102.81L642.4 102.59L643.4 102.39L644.4 102.18L645.4 101.97L646.4 101.77L647.4 101.57L648.4 101.37L649.4 101.17L650.4 100.98L651.4 100.79L652.4 100.6L653.4 100.41L654.4 100.22L655.4 100.04L656.4 99.86L657.4 99.68L658.4 99.5L659.4 99.32L660.4 99.15L661.4 98.98L662.4 98.81L663.4 98.65L664.4 98.48L665.4 98.32L666.4 98.16L667.4 98L668.4 97.85L669.4 97.7L670.4 97.55L671.4 97.4L672.4 97.25L673.4 97.11L674.4 96.97L675.4 96.83L676.4 96.7L677.4 96.57L678.4 96.43L679.4 96.31L680.4 96.18L681.4 96.06L682.4 95.94L683.4 95.82L684.4 95.7L685.4 95.59L686.4 95.48L687.4 95.37L688.4 95.27L689.4 95.16L690.4 95.06L691.4 94.97L692.4 94.87L693.4 94.78L694.4 94.69L695.4 94.6L696.4 94.52L697.4 94.44L698.4 94.36L699.4 94.28L700.4 94.21L701.4 94.14L702.4 94.07L703.4 94L704.4 93.94L705.4 93.88L706.4 93.82L707.4 93.77L708.4 93.72L709.4 93.67L710.4 93.62L711.4 93.58L712.4 93.54L713.4 93.5L714.4 93.47L715.4 93.44L716.4 93.41L717.4 93.38L718.4 93.36L719.4 93.34L720.4 93.32L721.4 93.31L722.4 93.3L723.4 93.29L724.4 93.28L725.4 93.28L726.4 93.28L727.4 93.29L728.4 93.29L729.4 93.3L730.4 93.32L731.4 93.33L732.4 93.35L733.4 93.37L734.4 93.4L735.4 93.43L736.4 93.46L737.4 93.49L738.4 93.53L739.4 93.57L740.4 93.62L741.4 93.67L742.4 93.72L743.4 93.77L744.4 93.83L745.4 93.89L746.4 93.95L747.4 94.02L748.4 94.09L749.4 94.16L750.4 94.24L751.4 94.32L752.4 94.4L753.4 94.49L754.4 94.58L755.4 94.68L756.4 94.77L757.4 94.87" stroke="#ffa500" stroke-width="2.3" fill="none" stroke-linejoin="round"/>
<path d="M441.5 163.66L444.6 168.66L441.5 173.66L438.4 168.66Z" fill="#ffa500"/>
<path d="M451.1 160.22L454.2 165.22L451.1 170.22L448 165.22Z" fill="#ffa500"/>
<path d="M460.7 156.74L463.8 161.74L460.7 166.74L457.6 161.74Z" fill="#ffa500"/>
<path d="M470.3 153.21L473.4 158.21L470.3 163.21L467.2 158.21Z" fill="#ffa500"/>
<path d="M479.9 149.67L483 154.67L479.9 159.67L476.8 154.67Z" fill="#ffa500"/>
<path d="M489.5 146.1L492.6 151.1L489.5 156.1L486.4 151.1Z" fill="#ffa500"/>
<path d="M499.1 142.54L502.2 147.54L499.1 152.54L496 147.54Z" fill="#ffa500"/>
<path d="M508.7 138.99L511.8 143.99L508.7 148.99L505.6 143.99Z" fill="#ffa500"/>
<path d="M518.3 135.46L521.4 140.46L518.3 145.46L515.2 140.46Z" fill="#ffa500"/>
<path d="M527.9 131.97L531 136.97L527.9 141.97L524.8 136.97Z" fill="#ffa500"/>
<path d="M537.5 128.53L540.6 133.53L537.5 138.53L534.4 133.53Z" fill="#ffa500"/>
<path d="M547.1 125.15L550.2 130.15L547.1 135.15L544 130.15Z" fill="#ffa500"/>
<path d="M556.7 121.85L559.8 126.85L556.7 131.85L553.6 126.85Z" fill="#ffa500"/>
<path d="M566.3 118.63L569.4 123.63L566.3 128.63L563.2 123.63Z" fill="#ffa500"/>
<path d="M575.9 115.51L579 120.51L575.9 125.51L572.8 120.51Z" fill="#ffa500"/>
<path d="M585.5 112.5L588.6 117.5L585.5 122.5L582.4 117.5Z" fill="#ffa500"/>
<path d="M595.1 109.62L598.2 114.62L595.1 119.62L592 114.62Z" fill="#ffa500"/>
<path d="M604.7 106.87L607.8 111.87L604.7 116.87L601.6 111.87Z" fill="#ffa500"/>
<path d="M614.3 104.27L617.4 109.27L614.3 114.27L611.2 109.27Z" fill="#ffa500"/>
<path d="M623.9 101.82L627 106.82L623.9 111.82L620.8 106.82Z" fill="#ffa500"/>
<path d="M633.5 99.55L636.6 104.55L633.5 109.55L630.4 104.55Z" fill="#ffa500"/>
<path d="M643.1 97.45L646.2 102.45L643.1 107.45L640 102.45Z" fill="#ffa500"/>
<path d="M652.7 95.54L655.8 100.54L652.7 105.54L649.6 100.54Z" fill="#ffa500"/>
<path d="M662.3 93.83L665.4 98.83L662.3 103.83L659.2 98.83Z" fill="#ffa500"/>
<path d="M671.9 92.33L675 97.33L671.9 102.33L668.8 97.33Z" fill="#ffa500"/>
<path d="M681.5 91.05L684.6 96.05L681.5 101.05L678.4 96.05Z" fill="#ffa500"/>
<path d="M691.1 90L694.2 95L691.1 100L688 95Z" fill="#ffa500"/>
<path d="M700.7 89.19L703.8 94.19L700.7 99.19L697.6 94.19Z" fill="#ffa500"/>
<path d="M710.3 88.63L713.4 93.63L710.3 98.63L707.2 93.63Z" fill="#ffa500"/>
<path d="M719.9 88.33L723 93.33L719.9 98.33L716.8 93.33Z" fill="#ffa500"/>
<path d="M729.5 88.3L732.6 93.3L729.5 98.3L726.4 93.3Z" fill="#ffa500"/>
<path d="M739.1 88.56L742.2 93.56L739.1 98.56L736 93.56Z" fill="#ffa500"/>
<path d="M748.7 89.11L751.8 94.11L748.7 99.11L745.6 94.11Z" fill="#ffa500"/>
<path d="M758.3 89.87L761.4 94.87L758.3 99.87L755.2 94.87Z" fill="#ffa500"/>
</g>
<path d="M532 87.4L623.4 38.7" stroke="#000" stroke-width="2.3" fill="none" stroke-linejoin="round" stroke-dasharray="7.5 2.6 2.2 2.6"/>
<path d="M503.2 159.7L628.7 124.2" stroke="#000" stroke-width="2.3" fill="none" stroke-linejoin="round" stroke-dasharray="7.5 2.6 2.2 2.6"/>
<text x="542" y="64.9" font-size="17" text-anchor="start" textLength="33" lengthAdjust="spacing" fill="#000"><tspan font-style="italic">R</tspan><tspan font-size="11.9" dy="1.7">g</tspan><tspan font-size="12.24" dy="-7.14" dx="0.85">3/4</tspan></text>
<text x="561.3" y="164.3" font-size="17" text-anchor="start" textLength="33" lengthAdjust="spacing" fill="#000"><tspan font-style="italic">R</tspan><tspan font-size="11.9" dy="1.7">g</tspan><tspan font-size="12.24" dy="-7.14" dx="0.85">2/5</tspan></text>
<path d="M464 430.4V251.7" stroke="#808080" stroke-width="1.9" fill="none" stroke-linejoin="round" stroke-dasharray="7.3 3.45"/>
<path d="M724.5 430.4V251.7" stroke="#808080" stroke-width="1.6" fill="none" stroke-linejoin="round" stroke-dasharray="12 4 1.6 4"/>
<g clip-path="url(#ce)">
<path d="M441.4 401.04L442.4 400.53L443.4 400.01L444.4 399.49L445.4 398.96L446.4 398.43L447.4 397.9L448.4 397.36L449.4 396.82L450.4 396.27L451.4 395.72L452.4 395.17L453.4 394.61L454.4 394.05L455.4 393.48L456.4 392.91L457.4 392.34L458.4 391.76L459.4 391.18L460.4 390.6L461.4 390.01L462.4 389.42L463.4 388.82L464.4 388.22L465.4 387.62L466.4 387.02L467.4 386.41L468.4 385.8L469.4 385.19L470.4 384.57L471.4 383.95L472.4 383.33L473.4 382.71L474.4 382.08L475.4 381.45L476.4 380.82L477.4 380.18L478.4 379.54L479.4 378.9L480.4 378.26L481.4 377.62L482.4 376.97L483.4 376.32L484.4 375.67L485.4 375.02L486.4 374.36L487.4 373.71L488.4 373.05L489.4 372.39L490.4 371.73L491.4 371.06L492.4 370.4L493.4 369.73L494.4 369.06L495.4 368.39L496.4 367.72L497.4 367.05L498.4 366.38L499.4 365.7L500.4 365.02L501.4 364.35L502.4 363.67L503.4 362.99L504.4 362.31L505.4 361.63L506.4 360.95L507.4 360.27L508.4 359.58L509.4 358.9L510.4 358.21L511.4 357.53L512.4 356.85L513.4 356.16L514.4 355.47L515.4 354.79L516.4 354.1L517.4 353.42L518.4 352.73L519.4 352.04L520.4 351.36L521.4 350.67L522.4 349.99L523.4 349.3L524.4 348.62L525.4 347.93L526.4 347.25L527.4 346.56L528.4 345.88L529.4 345.2L530.4 344.51L531.4 343.83L532.4 343.15L533.4 342.47L534.4 341.79L535.4 341.12L536.4 340.44L537.4 339.76L538.4 339.09L539.4 338.41L540.4 337.74L541.4 337.07L542.4 336.4L543.4 335.73L544.4 335.07L545.4 334.4L546.4 333.74L547.4 333.08L548.4 332.42L549.4 331.76L550.4 331.1L551.4 330.45L552.4 329.8L553.4 329.14L554.4 328.5L555.4 327.85L556.4 327.21L557.4 326.56L558.4 325.93L559.4 325.29L560.4 324.65L561.4 324.02L562.4 323.39L563.4 322.77L564.4 322.14L565.4 321.52L566.4 320.9L567.4 320.29L568.4 319.67L569.4 319.06L570.4 318.46L571.4 317.85L572.4 317.25L573.4 316.66L574.4 316.06L575.4 315.47L576.4 314.88L577.4 314.3L578.4 313.72L579.4 313.14L580.4 312.57L581.4 312L582.4 311.44L583.4 310.87L584.4 310.32L585.4 309.76L586.4 309.21L587.4 308.67L588.4 308.13L589.4 307.59L590.4 307.06L591.4 306.53L592.4 306L593.4 305.48L594.4 304.97L595.4 304.46L596.4 303.95L597.4 303.45L598.4 302.95L599.4 302.46L600.4 301.97L601.4 301.49L602.4 301.01L603.4 300.54L604.4 300.07L605.4 299.61L606.4 299.15L607.4 298.7L608.4 298.25L609.4 297.81L610.4 297.37L611.4 296.94L612.4 296.51L613.4 296.09L614.4 295.67L615.4 295.26L616.4 294.85L617.4 294.45L618.4 294.05L619.4 293.66L620.4 293.27L621.4 292.89L622.4 292.51L623.4 292.14L624.4 291.77L625.4 291.4L626.4 291.04L627.4 290.68L628.4 290.33L629.4 289.99L630.4 289.64L631.4 289.3L632.4 288.97L633.4 288.64L634.4 288.32L635.4 288L636.4 287.68L637.4 287.37L638.4 287.06L639.4 286.75L640.4 286.45L641.4 286.16L642.4 285.87L643.4 285.58L644.4 285.3L645.4 285.02L646.4 284.74L647.4 284.47L648.4 284.2L649.4 283.94L650.4 283.68L651.4 283.42L652.4 283.17L653.4 282.92L654.4 282.67L655.4 282.43L656.4 282.2L657.4 281.96L658.4 281.73L659.4 281.5L660.4 281.28L661.4 281.06L662.4 280.85L663.4 280.63L664.4 280.42L665.4 280.22L666.4 280.02L667.4 279.82L668.4 279.62L669.4 279.43L670.4 279.24L671.4 279.05L672.4 278.87L673.4 278.69L674.4 278.51L675.4 278.34L676.4 278.17L677.4 278L678.4 277.84L679.4 277.68L680.4 277.52L681.4 277.37L682.4 277.21L683.4 277.06L684.4 276.92L685.4 276.77L686.4 276.63L687.4 276.5L688.4 276.36L689.4 276.23L690.4 276.1L691.4 275.97L692.4 275.85L693.4 275.72L694.4 275.6L695.4 275.49L696.4 275.37L697.4 275.26L698.4 275.15L699.4 275.04L700.4 274.94L701.4 274.84L702.4 274.74L703.4 274.64L704.4 274.54L705.4 274.45L706.4 274.36L707.4 274.27L708.4 274.19L709.4 274.1L710.4 274.02L711.4 273.94L712.4 273.86L713.4 273.78L714.4 273.71L715.4 273.64L716.4 273.57L717.4 273.5L718.4 273.43L719.4 273.37L720.4 273.3L721.4 273.24L722.4 273.18L723.4 273.13L724.4 273.07L725.4 273.02L726.4 272.96L727.4 272.91L728.4 272.86L729.4 272.81L730.4 272.77L731.4 272.72L732.4 272.68L733.4 272.64L734.4 272.6L735.4 272.56L736.4 272.52L737.4 272.48L738.4 272.45L739.4 272.41L740.4 272.38L741.4 272.35L742.4 272.32L743.4 272.29L744.4 272.26L745.4 272.23L746.4 272.21L747.4 272.18L748.4 272.16L749.4 272.13L750.4 272.11L751.4 272.09L752.4 272.07L753.4 272.05L754.4 272.03L755.4 272.01L756.4 272L757.4 271.98" stroke="#ff0000" stroke-width="2.3" fill="none" stroke-linejoin="round"/>
<circle cx="441.5" cy="400.99" r="3.3" fill="#ff0000"/>
<circle cx="451.1" cy="395.89" r="3.3" fill="#ff0000"/>
<circle cx="460.7" cy="390.42" r="3.3" fill="#ff0000"/>
<circle cx="470.3" cy="384.63" r="3.3" fill="#ff0000"/>
<circle cx="479.9" cy="378.58" r="3.3" fill="#ff0000"/>
<circle cx="489.5" cy="372.32" r="3.3" fill="#ff0000"/>
<circle cx="499.1" cy="365.9" r="3.3" fill="#ff0000"/>
<circle cx="508.7" cy="359.38" r="3.3" fill="#ff0000"/>
<circle cx="518.3" cy="352.8" r="3.3" fill="#ff0000"/>
<circle cx="527.9" cy="346.22" r="3.3" fill="#ff0000"/>
<circle cx="537.5" cy="339.7" r="3.3" fill="#ff0000"/>
<circle cx="547.1" cy="333.28" r="3.3" fill="#ff0000"/>
<circle cx="556.7" cy="327.01" r="3.3" fill="#ff0000"/>
<circle cx="566.3" cy="320.96" r="3.3" fill="#ff0000"/>
<circle cx="575.9" cy="315.18" r="3.3" fill="#ff0000"/>
<circle cx="585.5" cy="309.71" r="3.3" fill="#ff0000"/>
<circle cx="595.1" cy="304.61" r="3.3" fill="#ff0000"/>
<circle cx="604.7" cy="299.93" r="3.3" fill="#ff0000"/>
<circle cx="614.3" cy="295.72" r="3.3" fill="#ff0000"/>
<circle cx="623.9" cy="291.95" r="3.3" fill="#ff0000"/>
<circle cx="633.5" cy="288.61" r="3.3" fill="#ff0000"/>
<circle cx="643.1" cy="285.67" r="3.3" fill="#ff0000"/>
<circle cx="652.7" cy="283.09" r="3.3" fill="#ff0000"/>
<circle cx="662.3" cy="280.87" r="3.3" fill="#ff0000"/>
<circle cx="671.9" cy="278.96" r="3.3" fill="#ff0000"/>
<circle cx="681.5" cy="277.35" r="3.3" fill="#ff0000"/>
<circle cx="691.1" cy="276.01" r="3.3" fill="#ff0000"/>
<circle cx="700.7" cy="274.91" r="3.3" fill="#ff0000"/>
<circle cx="710.3" cy="274.03" r="3.3" fill="#ff0000"/>
<circle cx="719.9" cy="273.34" r="3.3" fill="#ff0000"/>
<circle cx="729.5" cy="272.81" r="3.3" fill="#ff0000"/>
<circle cx="739.1" cy="272.42" r="3.3" fill="#ff0000"/>
<circle cx="748.7" cy="272.15" r="3.3" fill="#ff0000"/>
<circle cx="758.3" cy="271.98" r="3.3" fill="#ff0000"/>
<path d="M441.4 403.42L442.4 402.91L443.4 402.39L444.4 401.87L445.4 401.35L446.4 400.82L447.4 400.29L448.4 399.76L449.4 399.22L450.4 398.67L451.4 398.13L452.4 397.57L453.4 397.02L454.4 396.46L455.4 395.9L456.4 395.33L457.4 394.76L458.4 394.18L459.4 393.61L460.4 393.02L461.4 392.44L462.4 391.85L463.4 391.26L464.4 390.66L465.4 390.07L466.4 389.47L467.4 388.86L468.4 388.25L469.4 387.64L470.4 387.03L471.4 386.41L472.4 385.79L473.4 385.17L474.4 384.55L475.4 383.92L476.4 383.29L477.4 382.66L478.4 382.02L479.4 381.38L480.4 380.74L481.4 380.1L482.4 379.46L483.4 378.81L484.4 378.16L485.4 377.51L486.4 376.85L487.4 376.2L488.4 375.54L489.4 374.88L490.4 374.22L491.4 373.56L492.4 372.89L493.4 372.23L494.4 371.56L495.4 370.89L496.4 370.22L497.4 369.54L498.4 368.87L499.4 368.19L500.4 367.52L501.4 366.84L502.4 366.16L503.4 365.48L504.4 364.8L505.4 364.12L506.4 363.43L507.4 362.75L508.4 362.06L509.4 361.38L510.4 360.69L511.4 360L512.4 359.31L513.4 358.62L514.4 357.93L515.4 357.24L516.4 356.55L517.4 355.86L518.4 355.17L519.4 354.48L520.4 353.79L521.4 353.1L522.4 352.41L523.4 351.71L524.4 351.02L525.4 350.33L526.4 349.64L527.4 348.95L528.4 348.26L529.4 347.56L530.4 346.87L531.4 346.18L532.4 345.49L533.4 344.8L534.4 344.12L535.4 343.43L536.4 342.74L537.4 342.05L538.4 341.37L539.4 340.68L540.4 340L541.4 339.31L542.4 338.63L543.4 337.95L544.4 337.27L545.4 336.59L546.4 335.91L547.4 335.24L548.4 334.56L549.4 333.89L550.4 333.21L551.4 332.54L552.4 331.87L553.4 331.21L554.4 330.54L555.4 329.88L556.4 329.21L557.4 328.55L558.4 327.89L559.4 327.24L560.4 326.58L561.4 325.93L562.4 325.28L563.4 324.63L564.4 323.98L565.4 323.34L566.4 322.7L567.4 322.06L568.4 321.42L569.4 320.78L570.4 320.15L571.4 319.52L572.4 318.89L573.4 318.27L574.4 317.65L575.4 317.03L576.4 316.41L577.4 315.8L578.4 315.19L579.4 314.58L580.4 313.98L581.4 313.38L582.4 312.78L583.4 312.19L584.4 311.6L585.4 311.01L586.4 310.43L587.4 309.85L588.4 309.27L589.4 308.69L590.4 308.12L591.4 307.56L592.4 307L593.4 306.44L594.4 305.88L595.4 305.33L596.4 304.78L597.4 304.24L598.4 303.7L599.4 303.17L600.4 302.64L601.4 302.11L602.4 301.59L603.4 301.07L604.4 300.56L605.4 300.05L606.4 299.54L607.4 299.05L608.4 298.55L609.4 298.06L610.4 297.57L611.4 297.09L612.4 296.61L613.4 296.14L614.4 295.67L615.4 295.2L616.4 294.74L617.4 294.29L618.4 293.84L619.4 293.39L620.4 292.95L621.4 292.51L622.4 292.07L623.4 291.64L624.4 291.22L625.4 290.79L626.4 290.38L627.4 289.96L628.4 289.55L629.4 289.15L630.4 288.75L631.4 288.35L632.4 287.96L633.4 287.57L634.4 287.19L635.4 286.81L636.4 286.43L637.4 286.06L638.4 285.69L639.4 285.33L640.4 284.97L641.4 284.61L642.4 284.26L643.4 283.91L644.4 283.57L645.4 283.23L646.4 282.89L647.4 282.56L648.4 282.23L649.4 281.91L650.4 281.59L651.4 281.27L652.4 280.96L653.4 280.65L654.4 280.35L655.4 280.05L656.4 279.75L657.4 279.46L658.4 279.17L659.4 278.88L660.4 278.6L661.4 278.32L662.4 278.05L663.4 277.78L664.4 277.51L665.4 277.25L666.4 276.99L667.4 276.74L668.4 276.48L669.4 276.24L670.4 275.99L671.4 275.75L672.4 275.52L673.4 275.28L674.4 275.05L675.4 274.83L676.4 274.6L677.4 274.38L678.4 274.17L679.4 273.96L680.4 273.75L681.4 273.55L682.4 273.34L683.4 273.15L684.4 272.95L685.4 272.76L686.4 272.57L687.4 272.39L688.4 272.21L689.4 272.03L690.4 271.86L691.4 271.69L692.4 271.52L693.4 271.36L694.4 271.2L695.4 271.05L696.4 270.89L697.4 270.74L698.4 270.6L699.4 270.45L700.4 270.31L701.4 270.18L702.4 270.04L703.4 269.91L704.4 269.79L705.4 269.66L706.4 269.54L707.4 269.43L708.4 269.31L709.4 269.2L710.4 269.09L711.4 268.99L712.4 268.89L713.4 268.79L714.4 268.7L715.4 268.6L716.4 268.52L717.4 268.43L718.4 268.35L719.4 268.27L720.4 268.19L721.4 268.12L722.4 268.05L723.4 267.98L724.4 267.92L725.4 267.86L726.4 267.8L727.4 267.74L728.4 267.69L729.4 267.64L730.4 267.59L731.4 267.55L732.4 267.51L733.4 267.47L734.4 267.44L735.4 267.4L736.4 267.38L737.4 267.35L738.4 267.33L739.4 267.31L740.4 267.29L741.4 267.27L742.4 267.26L743.4 267.25L744.4 267.24L745.4 267.24L746.4 267.24L747.4 267.24L748.4 267.24L749.4 267.25L750.4 267.26L751.4 267.27L752.4 267.29L753.4 267.3L754.4 267.32L755.4 267.35L756.4 267.37L757.4 267.4" stroke="#008000" stroke-width="2.3" fill="none" stroke-linejoin="round"/>
<path d="M438.1 399.77L444.9 399.77L441.5 406.97Z" fill="#008000"/>
<path d="M447.7 394.69L454.5 394.69L451.1 401.89Z" fill="#008000"/>
<path d="M457.3 389.25L464.1 389.25L460.7 396.45Z" fill="#008000"/>
<path d="M466.9 383.49L473.7 383.49L470.3 390.69Z" fill="#008000"/>
<path d="M476.5 377.46L483.3 377.46L479.9 384.66Z" fill="#008000"/>
<path d="M486.1 371.22L492.9 371.22L489.5 378.42Z" fill="#008000"/>
<path d="M495.7 364.8L502.5 364.8L499.1 372Z" fill="#008000"/>
<path d="M505.3 358.26L512.1 358.26L508.7 365.46Z" fill="#008000"/>
<path d="M514.9 351.64L521.7 351.64L518.3 358.84Z" fill="#008000"/>
<path d="M524.5 345L531.3 345L527.9 352.2Z" fill="#008000"/>
<path d="M534.1 338.38L540.9 338.38L537.5 345.58Z" fill="#008000"/>
<path d="M543.7 331.84L550.5 331.84L547.1 339.04Z" fill="#008000"/>
<path d="M553.3 325.41L560.1 325.41L556.7 332.61Z" fill="#008000"/>
<path d="M562.9 319.16L569.7 319.16L566.3 326.36Z" fill="#008000"/>
<path d="M572.5 313.12L579.3 313.12L575.9 320.32Z" fill="#008000"/>
<path d="M582.1 307.35L588.9 307.35L585.5 314.55Z" fill="#008000"/>
<path d="M591.7 301.9L598.5 301.9L595.1 309.1Z" fill="#008000"/>
<path d="M601.3 296.81L608.1 296.81L604.7 304.01Z" fill="#008000"/>
<path d="M610.9 292.12L617.7 292.12L614.3 299.32Z" fill="#008000"/>
<path d="M620.5 287.83L627.3 287.83L623.9 295.03Z" fill="#008000"/>
<path d="M630.1 283.93L636.9 283.93L633.5 291.13Z" fill="#008000"/>
<path d="M639.7 280.42L646.5 280.42L643.1 287.62Z" fill="#008000"/>
<path d="M649.3 277.27L656.1 277.27L652.7 284.47Z" fill="#008000"/>
<path d="M658.9 274.48L665.7 274.48L662.3 281.68Z" fill="#008000"/>
<path d="M668.5 272.03L675.3 272.03L671.9 279.23Z" fill="#008000"/>
<path d="M678.1 269.93L684.9 269.93L681.5 277.13Z" fill="#008000"/>
<path d="M687.7 268.14L694.5 268.14L691.1 275.34Z" fill="#008000"/>
<path d="M697.3 266.67L704.1 266.67L700.7 273.87Z" fill="#008000"/>
<path d="M706.9 265.51L713.7 265.51L710.3 272.71Z" fill="#008000"/>
<path d="M716.5 264.63L723.3 264.63L719.9 271.83Z" fill="#008000"/>
<path d="M726.1 264.04L732.9 264.04L729.5 271.24Z" fill="#008000"/>
<path d="M735.7 263.71L742.5 263.71L739.1 270.91Z" fill="#008000"/>
<path d="M745.3 263.65L752.1 263.65L748.7 270.85Z" fill="#008000"/>
<path d="M754.9 263.8L761.7 263.8L758.3 271Z" fill="#008000"/>
<path d="M441.4 418.15L442.4 417.55L443.4 416.95L444.4 416.35L445.4 415.74L446.4 415.14L447.4 414.53L448.4 413.92L449.4 413.32L450.4 412.71L451.4 412.1L452.4 411.49L453.4 410.87L454.4 410.26L455.4 409.65L456.4 409.03L457.4 408.42L458.4 407.8L459.4 407.19L460.4 406.57L461.4 405.95L462.4 405.33L463.4 404.71L464.4 404.09L465.4 403.47L466.4 402.85L467.4 402.23L468.4 401.61L469.4 400.99L470.4 400.37L471.4 399.74L472.4 399.12L473.4 398.5L474.4 397.87L475.4 397.25L476.4 396.62L477.4 396L478.4 395.37L479.4 394.75L480.4 394.13L481.4 393.5L482.4 392.88L483.4 392.25L484.4 391.63L485.4 391L486.4 390.38L487.4 389.75L488.4 389.13L489.4 388.5L490.4 387.88L491.4 387.25L492.4 386.63L493.4 386L494.4 385.38L495.4 384.76L496.4 384.13L497.4 383.51L498.4 382.89L499.4 382.27L500.4 381.65L501.4 381.03L502.4 380.41L503.4 379.79L504.4 379.17L505.4 378.55L506.4 377.93L507.4 377.31L508.4 376.7L509.4 376.08L510.4 375.46L511.4 374.85L512.4 374.24L513.4 373.62L514.4 373.01L515.4 372.4L516.4 371.79L517.4 371.18L518.4 370.57L519.4 369.96L520.4 369.36L521.4 368.75L522.4 368.15L523.4 367.55L524.4 366.94L525.4 366.34L526.4 365.74L527.4 365.14L528.4 364.55L529.4 363.95L530.4 363.36L531.4 362.76L532.4 362.17L533.4 361.58L534.4 360.99L535.4 360.4L536.4 359.82L537.4 359.23L538.4 358.65L539.4 358.07L540.4 357.49L541.4 356.91L542.4 356.33L543.4 355.75L544.4 355.18L545.4 354.61L546.4 354.04L547.4 353.47L548.4 352.9L549.4 352.34L550.4 351.77L551.4 351.21L552.4 350.65L553.4 350.1L554.4 349.54L555.4 348.99L556.4 348.44L557.4 347.89L558.4 347.34L559.4 346.8L560.4 346.25L561.4 345.71L562.4 345.17L563.4 344.64L564.4 344.1L565.4 343.57L566.4 343.04L567.4 342.51L568.4 341.99L569.4 341.47L570.4 340.95L571.4 340.43L572.4 339.91L573.4 339.4L574.4 338.89L575.4 338.38L576.4 337.88L577.4 337.38L578.4 336.88L579.4 336.38L580.4 335.89L581.4 335.4L582.4 334.91L583.4 334.42L584.4 333.94L585.4 333.46L586.4 332.98L587.4 332.5L588.4 332.03L589.4 331.56L590.4 331.1L591.4 330.64L592.4 330.18L593.4 329.72L594.4 329.27L595.4 328.82L596.4 328.37L597.4 327.92L598.4 327.48L599.4 327.05L600.4 326.61L601.4 326.18L602.4 325.75L603.4 325.33L604.4 324.91L605.4 324.49L606.4 324.08L607.4 323.66L608.4 323.26L609.4 322.85L610.4 322.45L611.4 322.05L612.4 321.66L613.4 321.27L614.4 320.88L615.4 320.49L616.4 320.11L617.4 319.73L618.4 319.35L619.4 318.98L620.4 318.61L621.4 318.24L622.4 317.88L623.4 317.51L624.4 317.15L625.4 316.8L626.4 316.44L627.4 316.09L628.4 315.74L629.4 315.39L630.4 315.05L631.4 314.7L632.4 314.36L633.4 314.03L634.4 313.69L635.4 313.36L636.4 313.03L637.4 312.7L638.4 312.37L639.4 312.05L640.4 311.72L641.4 311.4L642.4 311.08L643.4 310.77L644.4 310.45L645.4 310.14L646.4 309.83L647.4 309.52L648.4 309.21L649.4 308.9L650.4 308.6L651.4 308.3L652.4 307.99L653.4 307.69L654.4 307.4L655.4 307.1L656.4 306.8L657.4 306.51L658.4 306.22L659.4 305.93L660.4 305.63L661.4 305.35L662.4 305.06L663.4 304.77L664.4 304.49L665.4 304.2L666.4 303.92L667.4 303.63L668.4 303.35L669.4 303.07L670.4 302.79L671.4 302.51L672.4 302.23L673.4 301.96L674.4 301.68L675.4 301.4L676.4 301.13L677.4 300.85L678.4 300.58L679.4 300.3L680.4 300.03L681.4 299.76L682.4 299.48L683.4 299.21L684.4 298.94L685.4 298.67L686.4 298.4L687.4 298.13L688.4 297.86L689.4 297.59L690.4 297.32L691.4 297.06L692.4 296.79L693.4 296.53L694.4 296.27L695.4 296.01L696.4 295.75L697.4 295.49L698.4 295.23L699.4 294.98L700.4 294.73L701.4 294.48L702.4 294.23L703.4 293.98L704.4 293.74L705.4 293.5L706.4 293.26L707.4 293.02L708.4 292.79L709.4 292.56L710.4 292.33L711.4 292.1L712.4 291.88L713.4 291.65L714.4 291.44L715.4 291.22L716.4 291.01L717.4 290.8L718.4 290.6L719.4 290.4L720.4 290.2L721.4 290L722.4 289.81L723.4 289.62L724.4 289.44L725.4 289.26L726.4 289.09L727.4 288.91L728.4 288.75L729.4 288.58L730.4 288.42L731.4 288.27L732.4 288.12L733.4 287.97L734.4 287.83L735.4 287.7L736.4 287.56L737.4 287.44L738.4 287.32L739.4 287.2L740.4 287.09L741.4 286.98L742.4 286.88L743.4 286.78L744.4 286.69L745.4 286.61L746.4 286.53L747.4 286.46L748.4 286.39L749.4 286.33L750.4 286.27L751.4 286.22L752.4 286.18L753.4 286.14L754.4 286.11L755.4 286.08L756.4 286.06L757.4 286.05" stroke="#0000ff" stroke-width="2.3" fill="none" stroke-linejoin="round"/>
<rect x="438.4" y="414.99" width="6.2" height="6.2" fill="#0000ff"/>
<rect x="448" y="409.18" width="6.2" height="6.2" fill="#0000ff"/>
<rect x="457.6" y="403.28" width="6.2" height="6.2" fill="#0000ff"/>
<rect x="467.2" y="397.33" width="6.2" height="6.2" fill="#0000ff"/>
<rect x="476.8" y="391.34" width="6.2" height="6.2" fill="#0000ff"/>
<rect x="486.4" y="385.34" width="6.2" height="6.2" fill="#0000ff"/>
<rect x="496" y="379.35" width="6.2" height="6.2" fill="#0000ff"/>
<rect x="505.6" y="373.41" width="6.2" height="6.2" fill="#0000ff"/>
<rect x="515.2" y="367.53" width="6.2" height="6.2" fill="#0000ff"/>
<rect x="524.8" y="361.75" width="6.2" height="6.2" fill="#0000ff"/>
<rect x="534.4" y="356.07" width="6.2" height="6.2" fill="#0000ff"/>
<rect x="544" y="350.54" width="6.2" height="6.2" fill="#0000ff"/>
<rect x="553.6" y="345.17" width="6.2" height="6.2" fill="#0000ff"/>
<rect x="563.2" y="339.99" width="6.2" height="6.2" fill="#0000ff"/>
<rect x="572.8" y="335.03" width="6.2" height="6.2" fill="#0000ff"/>
<rect x="582.4" y="330.31" width="6.2" height="6.2" fill="#0000ff"/>
<rect x="592" y="325.85" width="6.2" height="6.2" fill="#0000ff"/>
<rect x="601.6" y="321.68" width="6.2" height="6.2" fill="#0000ff"/>
<rect x="611.2" y="317.82" width="6.2" height="6.2" fill="#0000ff"/>
<rect x="620.8" y="314.23" width="6.2" height="6.2" fill="#0000ff"/>
<rect x="630.4" y="310.89" width="6.2" height="6.2" fill="#0000ff"/>
<rect x="640" y="307.76" width="6.2" height="6.2" fill="#0000ff"/>
<rect x="649.6" y="304.8" width="6.2" height="6.2" fill="#0000ff"/>
<rect x="659.2" y="301.99" width="6.2" height="6.2" fill="#0000ff"/>
<rect x="668.8" y="299.27" width="6.2" height="6.2" fill="#0000ff"/>
<rect x="678.4" y="296.63" width="6.2" height="6.2" fill="#0000ff"/>
<rect x="688" y="294.04" width="6.2" height="6.2" fill="#0000ff"/>
<rect x="697.6" y="291.55" width="6.2" height="6.2" fill="#0000ff"/>
<rect x="707.2" y="289.25" width="6.2" height="6.2" fill="#0000ff"/>
<rect x="716.8" y="287.2" width="6.2" height="6.2" fill="#0000ff"/>
<rect x="726.4" y="285.47" width="6.2" height="6.2" fill="#0000ff"/>
<rect x="736" y="284.13" width="6.2" height="6.2" fill="#0000ff"/>
<rect x="745.6" y="283.27" width="6.2" height="6.2" fill="#0000ff"/>
<rect x="755.2" y="282.95" width="6.2" height="6.2" fill="#0000ff"/>
<path d="M441.4 411.5L442.4 410.91L443.4 410.31L444.4 409.72L445.4 409.12L446.4 408.51L447.4 407.9L448.4 407.29L449.4 406.68L450.4 406.06L451.4 405.44L452.4 404.81L453.4 404.18L454.4 403.55L455.4 402.92L456.4 402.28L457.4 401.64L458.4 401L459.4 400.35L460.4 399.71L461.4 399.06L462.4 398.4L463.4 397.75L464.4 397.09L465.4 396.43L466.4 395.77L467.4 395.11L468.4 394.44L469.4 393.78L470.4 393.11L471.4 392.44L472.4 391.77L473.4 391.1L474.4 390.42L475.4 389.75L476.4 389.07L477.4 388.39L478.4 387.71L479.4 387.03L480.4 386.35L481.4 385.67L482.4 384.99L483.4 384.3L484.4 383.62L485.4 382.94L486.4 382.25L487.4 381.57L488.4 380.88L489.4 380.2L490.4 379.51L491.4 378.83L492.4 378.14L493.4 377.46L494.4 376.77L495.4 376.09L496.4 375.41L497.4 374.72L498.4 374.04L499.4 373.36L500.4 372.68L501.4 372L502.4 371.32L503.4 370.64L504.4 369.96L505.4 369.29L506.4 368.61L507.4 367.94L508.4 367.27L509.4 366.6L510.4 365.93L511.4 365.26L512.4 364.6L513.4 363.93L514.4 363.27L515.4 362.61L516.4 361.95L517.4 361.3L518.4 360.65L519.4 359.99L520.4 359.35L521.4 358.7L522.4 358.06L523.4 357.42L524.4 356.78L525.4 356.14L526.4 355.51L527.4 354.88L528.4 354.26L529.4 353.63L530.4 353.01L531.4 352.4L532.4 351.78L533.4 351.17L534.4 350.57L535.4 349.96L536.4 349.36L537.4 348.76L538.4 348.17L539.4 347.58L540.4 346.99L541.4 346.41L542.4 345.82L543.4 345.25L544.4 344.67L545.4 344.1L546.4 343.53L547.4 342.97L548.4 342.41L549.4 341.85L550.4 341.29L551.4 340.74L552.4 340.19L553.4 339.65L554.4 339.11L555.4 338.57L556.4 338.03L557.4 337.5L558.4 336.98L559.4 336.45L560.4 335.93L561.4 335.41L562.4 334.9L563.4 334.39L564.4 333.88L565.4 333.38L566.4 332.88L567.4 332.39L568.4 331.89L569.4 331.4L570.4 330.92L571.4 330.44L572.4 329.96L573.4 329.49L574.4 329.02L575.4 328.55L576.4 328.09L577.4 327.63L578.4 327.17L579.4 326.72L580.4 326.27L581.4 325.83L582.4 325.39L583.4 324.95L584.4 324.52L585.4 324.09L586.4 323.66L587.4 323.24L588.4 322.82L589.4 322.41L590.4 322L591.4 321.59L592.4 321.19L593.4 320.79L594.4 320.4L595.4 320.01L596.4 319.62L597.4 319.24L598.4 318.86L599.4 318.48L600.4 318.11L601.4 317.75L602.4 317.38L603.4 317.02L604.4 316.67L605.4 316.32L606.4 315.97L607.4 315.63L608.4 315.29L609.4 314.96L610.4 314.63L611.4 314.3L612.4 313.98L613.4 313.66L614.4 313.34L615.4 313.03L616.4 312.72L617.4 312.42L618.4 312.12L619.4 311.82L620.4 311.53L621.4 311.24L622.4 310.96L623.4 310.68L624.4 310.4L625.4 310.13L626.4 309.85L627.4 309.59L628.4 309.32L629.4 309.06L630.4 308.81L631.4 308.55L632.4 308.31L633.4 308.06L634.4 307.82L635.4 307.58L636.4 307.34L637.4 307.11L638.4 306.88L639.4 306.65L640.4 306.43L641.4 306.21L642.4 305.99L643.4 305.78L644.4 305.57L645.4 305.36L646.4 305.16L647.4 304.96L648.4 304.76L649.4 304.57L650.4 304.38L651.4 304.19L652.4 304L653.4 303.82L654.4 303.64L655.4 303.47L656.4 303.29L657.4 303.12L658.4 302.95L659.4 302.79L660.4 302.63L661.4 302.47L662.4 302.31L663.4 302.16L664.4 302L665.4 301.86L666.4 301.71L667.4 301.57L668.4 301.43L669.4 301.29L670.4 301.15L671.4 301.02L672.4 300.89L673.4 300.76L674.4 300.64L675.4 300.51L676.4 300.39L677.4 300.27L678.4 300.16L679.4 300.05L680.4 299.93L681.4 299.83L682.4 299.72L683.4 299.62L684.4 299.51L685.4 299.41L686.4 299.32L687.4 299.22L688.4 299.13L689.4 299.04L690.4 298.95L691.4 298.86L692.4 298.78L693.4 298.7L694.4 298.62L695.4 298.54L696.4 298.46L697.4 298.39L698.4 298.31L699.4 298.24L700.4 298.18L701.4 298.11L702.4 298.04L703.4 297.98L704.4 297.92L705.4 297.86L706.4 297.8L707.4 297.75L708.4 297.69L709.4 297.64L710.4 297.59L711.4 297.54L712.4 297.49L713.4 297.45L714.4 297.4L715.4 297.36L716.4 297.32L717.4 297.28L718.4 297.24L719.4 297.2L720.4 297.17L721.4 297.13L722.4 297.1L723.4 297.07L724.4 297.04L725.4 297.01L726.4 296.98L727.4 296.96L728.4 296.93L729.4 296.91L730.4 296.88L731.4 296.86L732.4 296.84L733.4 296.82L734.4 296.81L735.4 296.79L736.4 296.77L737.4 296.76L738.4 296.75L739.4 296.73L740.4 296.72L741.4 296.71L742.4 296.7L743.4 296.69L744.4 296.68L745.4 296.68L746.4 296.67L747.4 296.67L748.4 296.66L749.4 296.66L750.4 296.65L751.4 296.65L752.4 296.65L753.4 296.65L754.4 296.65L755.4 296.65L756.4 296.65L757.4 296.65" stroke="#ffa500" stroke-width="2.3" fill="none" stroke-linejoin="round"/>
<path d="M441.5 406.44L444.6 411.44L441.5 416.44L438.4 411.44Z" fill="#ffa500"/>
<path d="M451.1 400.62L454.2 405.62L451.1 410.62L448 405.62Z" fill="#ffa500"/>
<path d="M460.7 394.51L463.8 399.51L460.7 404.51L457.6 399.51Z" fill="#ffa500"/>
<path d="M470.3 388.18L473.4 393.18L470.3 398.18L467.2 393.18Z" fill="#ffa500"/>
<path d="M479.9 381.69L483 386.69L479.9 391.69L476.8 386.69Z" fill="#ffa500"/>
<path d="M489.5 375.13L492.6 380.13L489.5 385.13L486.4 380.13Z" fill="#ffa500"/>
<path d="M499.1 368.56L502.2 373.56L499.1 378.56L496 373.56Z" fill="#ffa500"/>
<path d="M508.7 362.07L511.8 367.07L508.7 372.07L505.6 367.07Z" fill="#ffa500"/>
<path d="M518.3 355.71L521.4 360.71L518.3 365.71L515.2 360.71Z" fill="#ffa500"/>
<path d="M527.9 349.57L531 354.57L527.9 359.57L524.8 354.57Z" fill="#ffa500"/>
<path d="M537.5 343.7L540.6 348.7L537.5 353.7L534.4 348.7Z" fill="#ffa500"/>
<path d="M547.1 338.14L550.2 343.14L547.1 348.14L544 343.14Z" fill="#ffa500"/>
<path d="M556.7 332.87L559.8 337.87L556.7 342.87L553.6 337.87Z" fill="#ffa500"/>
<path d="M566.3 327.93L569.4 332.93L566.3 337.93L563.2 332.93Z" fill="#ffa500"/>
<path d="M575.9 323.32L579 328.32L575.9 333.32L572.8 328.32Z" fill="#ffa500"/>
<path d="M585.5 319.04L588.6 324.04L585.5 329.04L582.4 324.04Z" fill="#ffa500"/>
<path d="M595.1 315.12L598.2 320.12L595.1 325.12L592 320.12Z" fill="#ffa500"/>
<path d="M604.7 311.56L607.8 316.56L604.7 321.56L601.6 316.56Z" fill="#ffa500"/>
<path d="M614.3 308.37L617.4 313.37L614.3 318.37L611.2 313.37Z" fill="#ffa500"/>
<path d="M623.9 305.54L627 310.54L623.9 315.54L620.8 310.54Z" fill="#ffa500"/>
<path d="M633.5 303.03L636.6 308.03L633.5 313.03L630.4 308.03Z" fill="#ffa500"/>
<path d="M643.1 300.85L646.2 305.85L643.1 310.85L640 305.85Z" fill="#ffa500"/>
<path d="M652.7 298.95L655.8 303.95L652.7 308.95L649.6 303.95Z" fill="#ffa500"/>
<path d="M662.3 297.33L665.4 302.33L662.3 307.33L659.2 302.33Z" fill="#ffa500"/>
<path d="M671.9 295.95L675 300.95L671.9 305.95L668.8 300.95Z" fill="#ffa500"/>
<path d="M681.5 294.82L684.6 299.82L681.5 304.82L678.4 299.82Z" fill="#ffa500"/>
<path d="M691.1 293.89L694.2 298.89L691.1 303.89L688 298.89Z" fill="#ffa500"/>
<path d="M700.7 293.16L703.8 298.16L700.7 303.16L697.6 298.16Z" fill="#ffa500"/>
<path d="M710.3 292.59L713.4 297.59L710.3 302.59L707.2 297.59Z" fill="#ffa500"/>
<path d="M719.9 292.18L723 297.18L719.9 302.18L716.8 297.18Z" fill="#ffa500"/>
<path d="M729.5 291.9L732.6 296.9L729.5 301.9L726.4 296.9Z" fill="#ffa500"/>
<path d="M739.1 291.74L742.2 296.74L739.1 301.74L736 296.74Z" fill="#ffa500"/>
<path d="M748.7 291.66L751.8 296.66L748.7 301.66L745.6 296.66Z" fill="#ffa500"/>
<path d="M758.3 291.65L761.4 296.65L758.3 301.65L755.2 296.65Z" fill="#ffa500"/>
</g>
<path d="M455.8 379L609.5 281" stroke="#000" stroke-width="2.3" fill="none" stroke-linejoin="round" stroke-dasharray="7.5 2.6 2.2 2.6"/>
<text x="494.3" y="329.6" font-size="17" text-anchor="start" textLength="33.3" lengthAdjust="spacing" fill="#000"><tspan font-style="italic">R</tspan><tspan font-size="11.9" dy="1.7">g</tspan><tspan font-size="12.24" dy="-7.14" dx="0.85">6/5</tspan></text>
<path d="M464.2 663V484.2" stroke="#808080" stroke-width="1.9" fill="none" stroke-linejoin="round" stroke-dasharray="7.3 3.45"/>
<path d="M724.5 663V484.2" stroke="#808080" stroke-width="1.6" fill="none" stroke-linejoin="round" stroke-dasharray="12 4 1.6 4"/>
<path d="M441.3 558.6H758.2" stroke="#808080" stroke-width="2" fill="none" stroke-linejoin="round" stroke-dasharray="11 3.3 1.3 3.3"/>
<g clip-path="url(#cf)">
<path d="M441.4 612.42L442.4 611.97L443.4 611.52L444.4 611.07L445.4 610.6L446.4 610.14L447.4 609.66L448.4 609.19L449.4 608.7L450.4 608.22L451.4 607.73L452.4 607.24L453.4 606.74L454.4 606.24L455.4 605.74L456.4 605.23L457.4 604.73L458.4 604.22L459.4 603.71L460.4 603.21L461.4 602.7L462.4 602.19L463.4 601.68L464.4 601.17L465.4 600.66L466.4 600.15L467.4 599.65L468.4 599.14L469.4 598.64L470.4 598.14L471.4 597.65L472.4 597.16L473.4 596.67L474.4 596.18L475.4 595.7L476.4 595.22L477.4 594.75L478.4 594.28L479.4 593.82L480.4 593.37L481.4 592.92L482.4 592.47L483.4 592.03L484.4 591.6L485.4 591.17L486.4 590.75L487.4 590.33L488.4 589.92L489.4 589.51L490.4 589.11L491.4 588.71L492.4 588.32L493.4 587.93L494.4 587.55L495.4 587.17L496.4 586.8L497.4 586.43L498.4 586.06L499.4 585.7L500.4 585.35L501.4 584.99L502.4 584.64L503.4 584.3L504.4 583.96L505.4 583.62L506.4 583.28L507.4 582.95L508.4 582.63L509.4 582.3L510.4 581.98L511.4 581.66L512.4 581.35L513.4 581.03L514.4 580.72L515.4 580.42L516.4 580.11L517.4 579.81L518.4 579.51L519.4 579.22L520.4 578.92L521.4 578.63L522.4 578.34L523.4 578.05L524.4 577.77L525.4 577.48L526.4 577.2L527.4 576.92L528.4 576.65L529.4 576.37L530.4 576.1L531.4 575.83L532.4 575.56L533.4 575.29L534.4 575.02L535.4 574.76L536.4 574.5L537.4 574.23L538.4 573.98L539.4 573.72L540.4 573.46L541.4 573.21L542.4 572.95L543.4 572.7L544.4 572.45L545.4 572.2L546.4 571.95L547.4 571.7L548.4 571.46L549.4 571.21L550.4 570.97L551.4 570.73L552.4 570.48L553.4 570.24L554.4 570L555.4 569.76L556.4 569.53L557.4 569.29L558.4 569.05L559.4 568.82L560.4 568.58L561.4 568.34L562.4 568.11L563.4 567.88L564.4 567.64L565.4 567.41L566.4 567.18L567.4 566.95L568.4 566.71L569.4 566.48L570.4 566.25L571.4 566.02L572.4 565.79L573.4 565.56L574.4 565.33L575.4 565.1L576.4 564.87L577.4 564.63L578.4 564.4L579.4 564.17L580.4 563.94L581.4 563.71L582.4 563.48L583.4 563.24L584.4 563.01L585.4 562.78L586.4 562.55L587.4 562.31L588.4 562.08L589.4 561.84L590.4 561.61L591.4 561.37L592.4 561.14L593.4 560.9L594.4 560.67L595.4 560.43L596.4 560.2L597.4 559.96L598.4 559.73L599.4 559.5L600.4 559.26L601.4 559.03L602.4 558.8L603.4 558.57L604.4 558.34L605.4 558.11L606.4 557.88L607.4 557.65L608.4 557.42L609.4 557.2L610.4 556.97L611.4 556.75L612.4 556.53L613.4 556.31L614.4 556.09L615.4 555.87L616.4 555.65L617.4 555.43L618.4 555.22L619.4 555.01L620.4 554.8L621.4 554.59L622.4 554.38L623.4 554.18L624.4 553.98L625.4 553.77L626.4 553.58L627.4 553.38L628.4 553.19L629.4 552.99L630.4 552.8L631.4 552.62L632.4 552.43L633.4 552.25L634.4 552.07L635.4 551.9L636.4 551.72L637.4 551.55L638.4 551.38L639.4 551.22L640.4 551.06L641.4 550.9L642.4 550.74L643.4 550.59L644.4 550.44L645.4 550.3L646.4 550.16L647.4 550.02L648.4 549.88L649.4 549.75L650.4 549.62L651.4 549.5L652.4 549.38L653.4 549.26L654.4 549.15L655.4 549.04L656.4 548.94L657.4 548.84L658.4 548.74L659.4 548.64L660.4 548.55L661.4 548.47L662.4 548.38L663.4 548.3L664.4 548.22L665.4 548.15L666.4 548.08L667.4 548.01L668.4 547.94L669.4 547.88L670.4 547.82L671.4 547.76L672.4 547.71L673.4 547.66L674.4 547.61L675.4 547.56L676.4 547.51L677.4 547.47L678.4 547.43L679.4 547.39L680.4 547.35L681.4 547.32L682.4 547.29L683.4 547.26L684.4 547.23L685.4 547.2L686.4 547.17L687.4 547.15L688.4 547.13L689.4 547.1L690.4 547.08L691.4 547.07L692.4 547.05L693.4 547.03L694.4 547.02L695.4 547L696.4 546.99L697.4 546.98L698.4 546.97L699.4 546.95L700.4 546.94L701.4 546.93L702.4 546.92L703.4 546.92L704.4 546.91L705.4 546.9L706.4 546.89L707.4 546.88L708.4 546.88L709.4 546.87L710.4 546.86L711.4 546.85L712.4 546.85L713.4 546.84L714.4 546.83L715.4 546.82L716.4 546.81L717.4 546.8L718.4 546.79L719.4 546.78L720.4 546.77L721.4 546.75L722.4 546.74L723.4 546.73L724.4 546.71L725.4 546.69L726.4 546.68L727.4 546.66L728.4 546.64L729.4 546.62L730.4 546.59L731.4 546.57L732.4 546.54L733.4 546.51L734.4 546.49L735.4 546.45L736.4 546.42L737.4 546.39L738.4 546.35L739.4 546.31L740.4 546.27L741.4 546.23L742.4 546.18L743.4 546.13L744.4 546.08L745.4 546.03L746.4 545.97L747.4 545.92L748.4 545.85L749.4 545.79L750.4 545.73L751.4 545.66L752.4 545.58L753.4 545.51L754.4 545.43L755.4 545.35L756.4 545.26L757.4 545.18L758.4 545.09" stroke="#ff0000" stroke-width="2.3" fill="none" stroke-linejoin="round"/>
<circle cx="441.5" cy="612.37" r="3.3" fill="#ff0000"/>
<circle cx="451.1" cy="607.88" r="3.3" fill="#ff0000"/>
<circle cx="460.7" cy="603.05" r="3.3" fill="#ff0000"/>
<circle cx="470.3" cy="598.19" r="3.3" fill="#ff0000"/>
<circle cx="479.9" cy="593.59" r="3.3" fill="#ff0000"/>
<circle cx="489.5" cy="589.47" r="3.3" fill="#ff0000"/>
<circle cx="499.1" cy="585.81" r="3.3" fill="#ff0000"/>
<circle cx="508.7" cy="582.53" r="3.3" fill="#ff0000"/>
<circle cx="518.3" cy="579.54" r="3.3" fill="#ff0000"/>
<circle cx="527.9" cy="576.79" r="3.3" fill="#ff0000"/>
<circle cx="537.5" cy="574.21" r="3.3" fill="#ff0000"/>
<circle cx="547.1" cy="571.78" r="3.3" fill="#ff0000"/>
<circle cx="556.7" cy="569.45" r="3.3" fill="#ff0000"/>
<circle cx="566.3" cy="567.2" r="3.3" fill="#ff0000"/>
<circle cx="575.9" cy="564.98" r="3.3" fill="#ff0000"/>
<circle cx="585.5" cy="562.76" r="3.3" fill="#ff0000"/>
<circle cx="595.1" cy="560.5" r="3.3" fill="#ff0000"/>
<circle cx="604.7" cy="558.27" r="3.3" fill="#ff0000"/>
<circle cx="614.3" cy="556.11" r="3.3" fill="#ff0000"/>
<circle cx="623.9" cy="554.08" r="3.3" fill="#ff0000"/>
<circle cx="633.5" cy="552.23" r="3.3" fill="#ff0000"/>
<circle cx="643.1" cy="550.64" r="3.3" fill="#ff0000"/>
<circle cx="652.7" cy="549.34" r="3.3" fill="#ff0000"/>
<circle cx="662.3" cy="548.39" r="3.3" fill="#ff0000"/>
<circle cx="671.9" cy="547.74" r="3.3" fill="#ff0000"/>
<circle cx="681.5" cy="547.32" r="3.3" fill="#ff0000"/>
<circle cx="691.1" cy="547.07" r="3.3" fill="#ff0000"/>
<circle cx="700.7" cy="546.94" r="3.3" fill="#ff0000"/>
<circle cx="710.3" cy="546.86" r="3.3" fill="#ff0000"/>
<circle cx="719.9" cy="546.77" r="3.3" fill="#ff0000"/>
<circle cx="729.5" cy="546.61" r="3.3" fill="#ff0000"/>
<circle cx="739.1" cy="546.32" r="3.3" fill="#ff0000"/>
<circle cx="748.7" cy="545.84" r="3.3" fill="#ff0000"/>
<circle cx="758.3" cy="545.09" r="3.3" fill="#ff0000"/>
<path d="M441.4 640.88L442.4 639.56L443.4 638.25L444.4 636.97L445.4 635.71L446.4 634.47L447.4 633.26L448.4 632.07L449.4 630.9L450.4 629.75L451.4 628.62L452.4 627.52L453.4 626.43L454.4 625.37L455.4 624.32L456.4 623.3L457.4 622.3L458.4 621.31L459.4 620.34L460.4 619.4L461.4 618.47L462.4 617.56L463.4 616.66L464.4 615.79L465.4 614.93L466.4 614.09L467.4 613.26L468.4 612.46L469.4 611.66L470.4 610.89L471.4 610.13L472.4 609.39L473.4 608.66L474.4 607.94L475.4 607.24L476.4 606.56L477.4 605.89L478.4 605.23L479.4 604.58L480.4 603.95L481.4 603.33L482.4 602.73L483.4 602.14L484.4 601.55L485.4 600.98L486.4 600.43L487.4 599.88L488.4 599.34L489.4 598.82L490.4 598.31L491.4 597.8L492.4 597.31L493.4 596.82L494.4 596.34L495.4 595.88L496.4 595.42L497.4 594.97L498.4 594.53L499.4 594.09L500.4 593.67L501.4 593.25L502.4 592.84L503.4 592.43L504.4 592.03L505.4 591.64L506.4 591.25L507.4 590.87L508.4 590.5L509.4 590.13L510.4 589.76L511.4 589.4L512.4 589.04L513.4 588.69L514.4 588.34L515.4 588L516.4 587.65L517.4 587.31L518.4 586.98L519.4 586.64L520.4 586.31L521.4 585.98L522.4 585.65L523.4 585.32L524.4 585L525.4 584.68L526.4 584.36L527.4 584.04L528.4 583.72L529.4 583.41L530.4 583.1L531.4 582.79L532.4 582.48L533.4 582.17L534.4 581.87L535.4 581.57L536.4 581.26L537.4 580.96L538.4 580.67L539.4 580.37L540.4 580.07L541.4 579.78L542.4 579.49L543.4 579.19L544.4 578.9L545.4 578.61L546.4 578.33L547.4 578.04L548.4 577.75L549.4 577.47L550.4 577.18L551.4 576.9L552.4 576.62L553.4 576.34L554.4 576.06L555.4 575.78L556.4 575.5L557.4 575.22L558.4 574.94L559.4 574.66L560.4 574.39L561.4 574.11L562.4 573.83L563.4 573.56L564.4 573.28L565.4 573L566.4 572.73L567.4 572.45L568.4 572.18L569.4 571.9L570.4 571.63L571.4 571.35L572.4 571.08L573.4 570.8L574.4 570.53L575.4 570.25L576.4 569.98L577.4 569.7L578.4 569.43L579.4 569.15L580.4 568.87L581.4 568.59L582.4 568.32L583.4 568.04L584.4 567.76L585.4 567.48L586.4 567.2L587.4 566.91L588.4 566.63L589.4 566.35L590.4 566.07L591.4 565.78L592.4 565.5L593.4 565.21L594.4 564.93L595.4 564.65L596.4 564.36L597.4 564.08L598.4 563.8L599.4 563.51L600.4 563.23L601.4 562.95L602.4 562.66L603.4 562.38L604.4 562.1L605.4 561.82L606.4 561.54L607.4 561.26L608.4 560.99L609.4 560.71L610.4 560.43L611.4 560.16L612.4 559.89L613.4 559.61L614.4 559.34L615.4 559.07L616.4 558.81L617.4 558.54L618.4 558.28L619.4 558.02L620.4 557.76L621.4 557.5L622.4 557.24L623.4 556.99L624.4 556.73L625.4 556.48L626.4 556.24L627.4 555.99L628.4 555.75L629.4 555.51L630.4 555.27L631.4 555.04L632.4 554.81L633.4 554.58L634.4 554.35L635.4 554.13L636.4 553.91L637.4 553.69L638.4 553.48L639.4 553.27L640.4 553.06L641.4 552.86L642.4 552.66L643.4 552.46L644.4 552.27L645.4 552.08L646.4 551.89L647.4 551.71L648.4 551.54L649.4 551.36L650.4 551.19L651.4 551.03L652.4 550.87L653.4 550.71L654.4 550.56L655.4 550.41L656.4 550.27L657.4 550.13L658.4 550L659.4 549.87L660.4 549.74L661.4 549.62L662.4 549.5L663.4 549.38L664.4 549.27L665.4 549.16L666.4 549.06L667.4 548.96L668.4 548.86L669.4 548.76L670.4 548.67L671.4 548.59L672.4 548.5L673.4 548.42L674.4 548.34L675.4 548.27L676.4 548.19L677.4 548.12L678.4 548.06L679.4 547.99L680.4 547.93L681.4 547.87L682.4 547.81L683.4 547.76L684.4 547.71L685.4 547.66L686.4 547.61L687.4 547.56L688.4 547.52L689.4 547.48L690.4 547.44L691.4 547.4L692.4 547.37L693.4 547.33L694.4 547.3L695.4 547.27L696.4 547.24L697.4 547.21L698.4 547.19L699.4 547.16L700.4 547.14L701.4 547.12L702.4 547.09L703.4 547.07L704.4 547.05L705.4 547.04L706.4 547.02L707.4 547L708.4 546.99L709.4 546.97L710.4 546.96L711.4 546.94L712.4 546.93L713.4 546.92L714.4 546.91L715.4 546.89L716.4 546.88L717.4 546.87L718.4 546.86L719.4 546.85L720.4 546.83L721.4 546.82L722.4 546.81L723.4 546.8L724.4 546.78L725.4 546.77L726.4 546.76L727.4 546.74L728.4 546.73L729.4 546.71L730.4 546.7L731.4 546.68L732.4 546.66L733.4 546.64L734.4 546.62L735.4 546.6L736.4 546.58L737.4 546.56L738.4 546.54L739.4 546.51L740.4 546.48L741.4 546.45L742.4 546.43L743.4 546.39L744.4 546.36L745.4 546.33L746.4 546.29L747.4 546.25L748.4 546.21L749.4 546.17L750.4 546.12L751.4 546.08L752.4 546.03L753.4 545.98L754.4 545.93L755.4 545.87L756.4 545.81L757.4 545.75L758.4 545.69" stroke="#008000" stroke-width="2.3" fill="none" stroke-linejoin="round"/>
<path d="M438.1 637.15L444.9 637.15L441.5 644.35Z" fill="#008000"/>
<path d="M447.7 625.36L454.5 625.36L451.1 632.56Z" fill="#008000"/>
<path d="M457.3 615.52L464.1 615.52L460.7 622.72Z" fill="#008000"/>
<path d="M466.9 607.37L473.7 607.37L470.3 614.57Z" fill="#008000"/>
<path d="M476.5 600.67L483.3 600.67L479.9 607.87Z" fill="#008000"/>
<path d="M486.1 595.17L492.9 595.17L489.5 602.37Z" fill="#008000"/>
<path d="M495.7 590.62L502.5 590.62L499.1 597.82Z" fill="#008000"/>
<path d="M505.3 586.79L512.1 586.79L508.7 593.99Z" fill="#008000"/>
<path d="M514.9 583.41L521.7 583.41L518.3 590.61Z" fill="#008000"/>
<path d="M524.5 580.28L531.3 580.28L527.9 587.48Z" fill="#008000"/>
<path d="M534.1 577.33L540.9 577.33L537.5 584.53Z" fill="#008000"/>
<path d="M543.7 574.53L550.5 574.53L547.1 581.73Z" fill="#008000"/>
<path d="M553.3 571.81L560.1 571.81L556.7 579.01Z" fill="#008000"/>
<path d="M562.9 569.16L569.7 569.16L566.3 576.36Z" fill="#008000"/>
<path d="M572.5 566.52L579.3 566.52L575.9 573.72Z" fill="#008000"/>
<path d="M582.1 563.85L588.9 563.85L585.5 571.05Z" fill="#008000"/>
<path d="M591.7 561.13L598.5 561.13L595.1 568.33Z" fill="#008000"/>
<path d="M601.3 558.42L608.1 558.42L604.7 565.62Z" fill="#008000"/>
<path d="M610.9 555.77L617.7 555.77L614.3 562.97Z" fill="#008000"/>
<path d="M620.5 553.26L627.3 553.26L623.9 560.46Z" fill="#008000"/>
<path d="M630.1 550.95L636.9 550.95L633.5 558.15Z" fill="#008000"/>
<path d="M639.7 548.92L646.5 548.92L643.1 556.12Z" fill="#008000"/>
<path d="M649.3 547.22L656.1 547.22L652.7 554.42Z" fill="#008000"/>
<path d="M658.9 545.91L665.7 545.91L662.3 553.11Z" fill="#008000"/>
<path d="M668.5 544.94L675.3 544.94L671.9 552.14Z" fill="#008000"/>
<path d="M678.1 544.26L684.9 544.26L681.5 551.46Z" fill="#008000"/>
<path d="M687.7 543.81L694.5 543.81L691.1 551.01Z" fill="#008000"/>
<path d="M697.3 543.53L704.1 543.53L700.7 550.73Z" fill="#008000"/>
<path d="M706.9 543.36L713.7 543.36L710.3 550.56Z" fill="#008000"/>
<path d="M716.5 543.24L723.3 543.24L719.9 550.44Z" fill="#008000"/>
<path d="M726.1 543.11L732.9 543.11L729.5 550.31Z" fill="#008000"/>
<path d="M735.7 542.92L742.5 542.92L739.1 550.12Z" fill="#008000"/>
<path d="M745.3 542.6L752.1 542.6L748.7 549.8Z" fill="#008000"/>
<path d="M754.9 542.1L761.7 542.1L758.3 549.3Z" fill="#008000"/>
<path d="M441.4 591.93L442.4 591.49L443.4 591.06L444.4 590.64L445.4 590.21L446.4 589.79L447.4 589.38L448.4 588.96L449.4 588.55L450.4 588.14L451.4 587.73L452.4 587.33L453.4 586.93L454.4 586.53L455.4 586.14L456.4 585.75L457.4 585.36L458.4 584.97L459.4 584.59L460.4 584.2L461.4 583.83L462.4 583.45L463.4 583.08L464.4 582.71L465.4 582.34L466.4 581.97L467.4 581.61L468.4 581.25L469.4 580.89L470.4 580.54L471.4 580.19L472.4 579.84L473.4 579.49L474.4 579.15L475.4 578.81L476.4 578.47L477.4 578.13L478.4 577.8L479.4 577.47L480.4 577.14L481.4 576.81L482.4 576.49L483.4 576.17L484.4 575.85L485.4 575.53L486.4 575.22L487.4 574.91L488.4 574.6L489.4 574.29L490.4 573.99L491.4 573.68L492.4 573.38L493.4 573.09L494.4 572.79L495.4 572.5L496.4 572.21L497.4 571.92L498.4 571.64L499.4 571.35L500.4 571.07L501.4 570.79L502.4 570.52L503.4 570.24L504.4 569.97L505.4 569.7L506.4 569.43L507.4 569.17L508.4 568.91L509.4 568.65L510.4 568.39L511.4 568.13L512.4 567.88L513.4 567.62L514.4 567.37L515.4 567.13L516.4 566.88L517.4 566.64L518.4 566.39L519.4 566.15L520.4 565.92L521.4 565.68L522.4 565.45L523.4 565.22L524.4 564.99L525.4 564.76L526.4 564.53L527.4 564.31L528.4 564.09L529.4 563.87L530.4 563.65L531.4 563.44L532.4 563.22L533.4 563.01L534.4 562.8L535.4 562.59L536.4 562.39L537.4 562.18L538.4 561.98L539.4 561.78L540.4 561.58L541.4 561.38L542.4 561.19L543.4 560.99L544.4 560.8L545.4 560.61L546.4 560.42L547.4 560.24L548.4 560.05L549.4 559.87L550.4 559.69L551.4 559.51L552.4 559.33L553.4 559.15L554.4 558.98L555.4 558.81L556.4 558.64L557.4 558.47L558.4 558.3L559.4 558.13L560.4 557.97L561.4 557.81L562.4 557.64L563.4 557.48L564.4 557.33L565.4 557.17L566.4 557.01L567.4 556.86L568.4 556.71L569.4 556.56L570.4 556.41L571.4 556.26L572.4 556.11L573.4 555.97L574.4 555.82L575.4 555.68L576.4 555.54L577.4 555.4L578.4 555.27L579.4 555.13L580.4 554.99L581.4 554.86L582.4 554.73L583.4 554.6L584.4 554.47L585.4 554.34L586.4 554.21L587.4 554.09L588.4 553.96L589.4 553.84L590.4 553.72L591.4 553.6L592.4 553.48L593.4 553.36L594.4 553.24L595.4 553.13L596.4 553.01L597.4 552.9L598.4 552.79L599.4 552.68L600.4 552.57L601.4 552.46L602.4 552.35L603.4 552.24L604.4 552.14L605.4 552.03L606.4 551.93L607.4 551.83L608.4 551.73L609.4 551.63L610.4 551.53L611.4 551.43L612.4 551.33L613.4 551.24L614.4 551.14L615.4 551.05L616.4 550.95L617.4 550.86L618.4 550.77L619.4 550.68L620.4 550.59L621.4 550.51L622.4 550.42L623.4 550.33L624.4 550.25L625.4 550.16L626.4 550.08L627.4 550L628.4 549.92L629.4 549.84L630.4 549.76L631.4 549.68L632.4 549.6L633.4 549.52L634.4 549.45L635.4 549.37L636.4 549.3L637.4 549.22L638.4 549.15L639.4 549.08L640.4 549.01L641.4 548.94L642.4 548.87L643.4 548.8L644.4 548.73L645.4 548.67L646.4 548.6L647.4 548.54L648.4 548.47L649.4 548.41L650.4 548.34L651.4 548.28L652.4 548.22L653.4 548.16L654.4 548.1L655.4 548.04L656.4 547.98L657.4 547.92L658.4 547.86L659.4 547.81L660.4 547.75L661.4 547.7L662.4 547.64L663.4 547.59L664.4 547.53L665.4 547.48L666.4 547.43L667.4 547.38L668.4 547.33L669.4 547.28L670.4 547.23L671.4 547.18L672.4 547.13L673.4 547.08L674.4 547.03L675.4 546.99L676.4 546.94L677.4 546.89L678.4 546.85L679.4 546.8L680.4 546.76L681.4 546.72L682.4 546.67L683.4 546.63L684.4 546.59L685.4 546.55L686.4 546.51L687.4 546.46L688.4 546.42L689.4 546.38L690.4 546.34L691.4 546.31L692.4 546.27L693.4 546.23L694.4 546.19L695.4 546.15L696.4 546.12L697.4 546.08L698.4 546.04L699.4 546.01L700.4 545.97L701.4 545.94L702.4 545.9L703.4 545.87L704.4 545.84L705.4 545.8L706.4 545.77L707.4 545.73L708.4 545.7L709.4 545.67L710.4 545.64L711.4 545.61L712.4 545.57L713.4 545.54L714.4 545.51L715.4 545.48L716.4 545.45L717.4 545.42L718.4 545.39L719.4 545.36L720.4 545.33L721.4 545.3L722.4 545.27L723.4 545.24L724.4 545.21L725.4 545.18L726.4 545.16L727.4 545.13L728.4 545.1L729.4 545.07L730.4 545.04L731.4 545.02L732.4 544.99L733.4 544.96L734.4 544.93L735.4 544.91L736.4 544.88L737.4 544.85L738.4 544.82L739.4 544.8L740.4 544.77L741.4 544.74L742.4 544.72L743.4 544.69L744.4 544.66L745.4 544.64L746.4 544.61L747.4 544.58L748.4 544.56L749.4 544.53L750.4 544.5L751.4 544.48L752.4 544.45L753.4 544.42L754.4 544.4L755.4 544.37L756.4 544.34L757.4 544.31L758.4 544.29" stroke="#0000ff" stroke-width="2.3" fill="none" stroke-linejoin="round"/>
<rect x="438.4" y="588.78" width="6.2" height="6.2" fill="#0000ff"/>
<rect x="448" y="584.76" width="6.2" height="6.2" fill="#0000ff"/>
<rect x="457.6" y="580.99" width="6.2" height="6.2" fill="#0000ff"/>
<rect x="467.2" y="577.48" width="6.2" height="6.2" fill="#0000ff"/>
<rect x="476.8" y="574.2" width="6.2" height="6.2" fill="#0000ff"/>
<rect x="486.4" y="571.16" width="6.2" height="6.2" fill="#0000ff"/>
<rect x="496" y="568.34" width="6.2" height="6.2" fill="#0000ff"/>
<rect x="505.6" y="565.73" width="6.2" height="6.2" fill="#0000ff"/>
<rect x="515.2" y="563.32" width="6.2" height="6.2" fill="#0000ff"/>
<rect x="524.8" y="561.1" width="6.2" height="6.2" fill="#0000ff"/>
<rect x="534.4" y="559.06" width="6.2" height="6.2" fill="#0000ff"/>
<rect x="544" y="557.19" width="6.2" height="6.2" fill="#0000ff"/>
<rect x="553.6" y="555.49" width="6.2" height="6.2" fill="#0000ff"/>
<rect x="563.2" y="553.93" width="6.2" height="6.2" fill="#0000ff"/>
<rect x="572.8" y="552.51" width="6.2" height="6.2" fill="#0000ff"/>
<rect x="582.4" y="551.23" width="6.2" height="6.2" fill="#0000ff"/>
<rect x="592" y="550.06" width="6.2" height="6.2" fill="#0000ff"/>
<rect x="601.6" y="549.01" width="6.2" height="6.2" fill="#0000ff"/>
<rect x="611.2" y="548.05" width="6.2" height="6.2" fill="#0000ff"/>
<rect x="620.8" y="547.19" width="6.2" height="6.2" fill="#0000ff"/>
<rect x="630.4" y="546.42" width="6.2" height="6.2" fill="#0000ff"/>
<rect x="640" y="545.72" width="6.2" height="6.2" fill="#0000ff"/>
<rect x="649.6" y="545.1" width="6.2" height="6.2" fill="#0000ff"/>
<rect x="659.2" y="544.55" width="6.2" height="6.2" fill="#0000ff"/>
<rect x="668.8" y="544.05" width="6.2" height="6.2" fill="#0000ff"/>
<rect x="678.4" y="543.61" width="6.2" height="6.2" fill="#0000ff"/>
<rect x="688" y="543.22" width="6.2" height="6.2" fill="#0000ff"/>
<rect x="697.6" y="542.86" width="6.2" height="6.2" fill="#0000ff"/>
<rect x="707.2" y="542.54" width="6.2" height="6.2" fill="#0000ff"/>
<rect x="716.8" y="542.25" width="6.2" height="6.2" fill="#0000ff"/>
<rect x="726.4" y="541.97" width="6.2" height="6.2" fill="#0000ff"/>
<rect x="736" y="541.71" width="6.2" height="6.2" fill="#0000ff"/>
<rect x="745.6" y="541.45" width="6.2" height="6.2" fill="#0000ff"/>
<rect x="755.2" y="541.19" width="6.2" height="6.2" fill="#0000ff"/>
<path d="M441.4 587.73L442.4 587.3L443.4 586.87L444.4 586.44L445.4 586.02L446.4 585.6L447.4 585.18L448.4 584.76L449.4 584.35L450.4 583.94L451.4 583.54L452.4 583.13L453.4 582.73L454.4 582.33L455.4 581.94L456.4 581.54L457.4 581.15L458.4 580.77L459.4 580.38L460.4 580L461.4 579.62L462.4 579.25L463.4 578.87L464.4 578.5L465.4 578.14L466.4 577.77L467.4 577.41L468.4 577.05L469.4 576.69L470.4 576.34L471.4 575.98L472.4 575.64L473.4 575.29L474.4 574.94L475.4 574.6L476.4 574.26L477.4 573.93L478.4 573.59L479.4 573.26L480.4 572.93L481.4 572.61L482.4 572.28L483.4 571.96L484.4 571.64L485.4 571.33L486.4 571.01L487.4 570.7L488.4 570.39L489.4 570.09L490.4 569.78L491.4 569.48L492.4 569.18L493.4 568.88L494.4 568.59L495.4 568.3L496.4 568.01L497.4 567.72L498.4 567.43L499.4 567.15L500.4 566.87L501.4 566.59L502.4 566.31L503.4 566.04L504.4 565.77L505.4 565.5L506.4 565.23L507.4 564.97L508.4 564.7L509.4 564.44L510.4 564.19L511.4 563.93L512.4 563.67L513.4 563.42L514.4 563.17L515.4 562.92L516.4 562.68L517.4 562.44L518.4 562.19L519.4 561.95L520.4 561.72L521.4 561.48L522.4 561.25L523.4 561.02L524.4 560.79L525.4 560.56L526.4 560.34L527.4 560.11L528.4 559.89L529.4 559.67L530.4 559.45L531.4 559.24L532.4 559.02L533.4 558.81L534.4 558.6L535.4 558.4L536.4 558.19L537.4 557.99L538.4 557.78L539.4 557.58L540.4 557.38L541.4 557.19L542.4 556.99L543.4 556.8L544.4 556.61L545.4 556.42L546.4 556.23L547.4 556.04L548.4 555.86L549.4 555.68L550.4 555.49L551.4 555.32L552.4 555.14L553.4 554.96L554.4 554.79L555.4 554.61L556.4 554.44L557.4 554.27L558.4 554.11L559.4 553.94L560.4 553.78L561.4 553.61L562.4 553.45L563.4 553.29L564.4 553.13L565.4 552.98L566.4 552.82L567.4 552.67L568.4 552.51L569.4 552.36L570.4 552.21L571.4 552.07L572.4 551.92L573.4 551.77L574.4 551.63L575.4 551.49L576.4 551.35L577.4 551.21L578.4 551.07L579.4 550.93L580.4 550.8L581.4 550.67L582.4 550.53L583.4 550.4L584.4 550.27L585.4 550.14L586.4 550.02L587.4 549.89L588.4 549.77L589.4 549.64L590.4 549.52L591.4 549.4L592.4 549.28L593.4 549.16L594.4 549.04L595.4 548.93L596.4 548.81L597.4 548.7L598.4 548.58L599.4 548.47L600.4 548.36L601.4 548.25L602.4 548.15L603.4 548.04L604.4 547.93L605.4 547.83L606.4 547.72L607.4 547.62L608.4 547.52L609.4 547.42L610.4 547.32L611.4 547.22L612.4 547.12L613.4 547.03L614.4 546.93L615.4 546.84L616.4 546.74L617.4 546.65L618.4 546.56L619.4 546.47L620.4 546.38L621.4 546.29L622.4 546.2L623.4 546.11L624.4 546.03L625.4 545.94L626.4 545.86L627.4 545.78L628.4 545.7L629.4 545.61L630.4 545.53L631.4 545.46L632.4 545.38L633.4 545.3L634.4 545.22L635.4 545.15L636.4 545.07L637.4 545L638.4 544.93L639.4 544.86L640.4 544.79L641.4 544.72L642.4 544.65L643.4 544.58L644.4 544.51L645.4 544.44L646.4 544.38L647.4 544.31L648.4 544.25L649.4 544.19L650.4 544.12L651.4 544.06L652.4 544L653.4 543.94L654.4 543.88L655.4 543.82L656.4 543.77L657.4 543.71L658.4 543.65L659.4 543.6L660.4 543.55L661.4 543.49L662.4 543.44L663.4 543.39L664.4 543.34L665.4 543.29L666.4 543.24L667.4 543.19L668.4 543.14L669.4 543.09L670.4 543.04L671.4 543L672.4 542.95L673.4 542.91L674.4 542.86L675.4 542.82L676.4 542.78L677.4 542.74L678.4 542.7L679.4 542.66L680.4 542.62L681.4 542.58L682.4 542.54L683.4 542.5L684.4 542.46L685.4 542.43L686.4 542.39L687.4 542.36L688.4 542.32L689.4 542.29L690.4 542.25L691.4 542.22L692.4 542.19L693.4 542.16L694.4 542.13L695.4 542.1L696.4 542.07L697.4 542.04L698.4 542.01L699.4 541.98L700.4 541.95L701.4 541.93L702.4 541.9L703.4 541.88L704.4 541.85L705.4 541.83L706.4 541.8L707.4 541.78L708.4 541.76L709.4 541.73L710.4 541.71L711.4 541.69L712.4 541.67L713.4 541.65L714.4 541.63L715.4 541.61L716.4 541.59L717.4 541.57L718.4 541.55L719.4 541.54L720.4 541.52L721.4 541.5L722.4 541.49L723.4 541.47L724.4 541.46L725.4 541.44L726.4 541.43L727.4 541.41L728.4 541.4L729.4 541.39L730.4 541.37L731.4 541.36L732.4 541.35L733.4 541.34L734.4 541.33L735.4 541.32L736.4 541.31L737.4 541.3L738.4 541.29L739.4 541.28L740.4 541.27L741.4 541.26L742.4 541.25L743.4 541.24L744.4 541.24L745.4 541.23L746.4 541.22L747.4 541.22L748.4 541.21L749.4 541.2L750.4 541.2L751.4 541.19L752.4 541.19L753.4 541.18L754.4 541.18L755.4 541.18L756.4 541.17L757.4 541.17L758.4 541.16" stroke="#ffa500" stroke-width="2.3" fill="none" stroke-linejoin="round"/>
<path d="M441.5 582.69L444.6 587.69L441.5 592.69L438.4 587.69Z" fill="#ffa500"/>
<path d="M451.1 578.66L454.2 583.66L451.1 588.66L448 583.66Z" fill="#ffa500"/>
<path d="M460.7 574.89L463.8 579.89L460.7 584.89L457.6 579.89Z" fill="#ffa500"/>
<path d="M470.3 571.37L473.4 576.37L470.3 581.37L467.2 576.37Z" fill="#ffa500"/>
<path d="M479.9 568.1L483 573.1L479.9 578.1L476.8 573.1Z" fill="#ffa500"/>
<path d="M489.5 565.06L492.6 570.06L489.5 575.06L486.4 570.06Z" fill="#ffa500"/>
<path d="M499.1 562.24L502.2 567.24L499.1 572.24L496 567.24Z" fill="#ffa500"/>
<path d="M508.7 559.63L511.8 564.63L508.7 569.63L505.6 564.63Z" fill="#ffa500"/>
<path d="M518.3 557.22L521.4 562.22L518.3 567.22L515.2 562.22Z" fill="#ffa500"/>
<path d="M527.9 555L531 560L527.9 565L524.8 560Z" fill="#ffa500"/>
<path d="M537.5 552.96L540.6 557.96L537.5 562.96L534.4 557.96Z" fill="#ffa500"/>
<path d="M547.1 551.1L550.2 556.1L547.1 561.1L544 556.1Z" fill="#ffa500"/>
<path d="M556.7 549.39L559.8 554.39L556.7 559.39L553.6 554.39Z" fill="#ffa500"/>
<path d="M566.3 547.84L569.4 552.84L566.3 557.84L563.2 552.84Z" fill="#ffa500"/>
<path d="M575.9 546.42L579 551.42L575.9 556.42L572.8 551.42Z" fill="#ffa500"/>
<path d="M585.5 545.13L588.6 550.13L585.5 555.13L582.4 550.13Z" fill="#ffa500"/>
<path d="M595.1 543.96L598.2 548.96L595.1 553.96L592 548.96Z" fill="#ffa500"/>
<path d="M604.7 542.9L607.8 547.9L604.7 552.9L601.6 547.9Z" fill="#ffa500"/>
<path d="M614.3 541.94L617.4 546.94L614.3 551.94L611.2 546.94Z" fill="#ffa500"/>
<path d="M623.9 541.07L627 546.07L623.9 551.07L620.8 546.07Z" fill="#ffa500"/>
<path d="M633.5 540.29L636.6 545.29L633.5 550.29L630.4 545.29Z" fill="#ffa500"/>
<path d="M643.1 539.6L646.2 544.6L643.1 549.6L640 544.6Z" fill="#ffa500"/>
<path d="M652.7 538.98L655.8 543.98L652.7 548.98L649.6 543.98Z" fill="#ffa500"/>
<path d="M662.3 538.44L665.4 543.44L662.3 548.44L659.2 543.44Z" fill="#ffa500"/>
<path d="M671.9 537.98L675 542.98L671.9 547.98L668.8 542.98Z" fill="#ffa500"/>
<path d="M681.5 537.57L684.6 542.57L681.5 547.57L678.4 542.57Z" fill="#ffa500"/>
<path d="M691.1 537.23L694.2 542.23L691.1 547.23L688 542.23Z" fill="#ffa500"/>
<path d="M700.7 536.95L703.8 541.95L700.7 546.95L697.6 541.95Z" fill="#ffa500"/>
<path d="M710.3 536.71L713.4 541.71L710.3 546.71L707.2 541.71Z" fill="#ffa500"/>
<path d="M719.9 536.53L723 541.53L719.9 546.53L716.8 541.53Z" fill="#ffa500"/>
<path d="M729.5 536.38L732.6 541.38L729.5 546.38L726.4 541.38Z" fill="#ffa500"/>
<path d="M739.1 536.28L742.2 541.28L739.1 546.28L736 541.28Z" fill="#ffa500"/>
<path d="M748.7 536.21L751.8 541.21L748.7 546.21L745.6 541.21Z" fill="#ffa500"/>
<path d="M758.3 536.16L761.4 541.16L758.3 546.16L755.2 541.16Z" fill="#ffa500"/>
</g>
<path d="M90 199.2v-3.6M90 19.2v3.6M150 199.2v-3.6M150 19.2v3.6M210 199.2v-3.6M210 19.2v3.6M270 199.2v-3.6M270 19.2v3.6M330 199.2v-3.6M330 19.2v3.6M54.2 195h3.6M371.8 195h-3.6M54.2 151.05h3.6M371.8 151.05h-3.6M54.2 107.1h3.6M371.8 107.1h-3.6M54.2 63.15h3.6M371.8 63.15h-3.6M54.2 19.2h3.6M371.8 19.2h-3.6" stroke="#111" stroke-width="1.3" fill="none"/>
<path d="M58.63 199.2v-2M58.63 19.2v2M66.12 199.2v-2M66.12 19.2v2M71.94 199.2v-2M71.94 19.2v2M76.69 199.2v-2M76.69 19.2v2M80.71 199.2v-2M80.71 19.2v2M84.19 199.2v-2M84.19 19.2v2M87.25 199.2v-2M87.25 19.2v2M108.06 199.2v-2M108.06 19.2v2M118.63 199.2v-2M118.63 19.2v2M126.12 199.2v-2M126.12 19.2v2M131.94 199.2v-2M131.94 19.2v2M136.69 199.2v-2M136.69 19.2v2M140.71 199.2v-2M140.71 19.2v2M144.19 199.2v-2M144.19 19.2v2M147.25 199.2v-2M147.25 19.2v2M168.06 199.2v-2M168.06 19.2v2M178.63 199.2v-2M178.63 19.2v2M186.12 199.2v-2M186.12 19.2v2M191.94 199.2v-2M191.94 19.2v2M196.69 199.2v-2M196.69 19.2v2M200.71 199.2v-2M200.71 19.2v2M204.19 199.2v-2M204.19 19.2v2M207.25 199.2v-2M207.25 19.2v2M228.06 199.2v-2M228.06 19.2v2M238.63 199.2v-2M238.63 19.2v2M246.12 199.2v-2M246.12 19.2v2M251.94 199.2v-2M251.94 19.2v2M256.69 199.2v-2M256.69 19.2v2M260.71 199.2v-2M260.71 19.2v2M264.19 199.2v-2M264.19 19.2v2M267.25 199.2v-2M267.25 19.2v2M288.06 199.2v-2M288.06 19.2v2M298.63 199.2v-2M298.63 19.2v2M306.12 199.2v-2M306.12 19.2v2M311.94 199.2v-2M311.94 19.2v2M316.69 199.2v-2M316.69 19.2v2M320.71 199.2v-2M320.71 19.2v2M324.19 199.2v-2M324.19 19.2v2M327.25 199.2v-2M327.25 19.2v2M348.06 199.2v-2M348.06 19.2v2M358.63 199.2v-2M358.63 19.2v2M366.12 199.2v-2M366.12 19.2v2M54.2 197.01h2M371.8 197.01h-2M54.2 181.77h2M371.8 181.77h-2M54.2 174.03h2M371.8 174.03h-2M54.2 168.54h2M371.8 168.54h-2M54.2 164.28h2M371.8 164.28h-2M54.2 160.8h2M371.8 160.8h-2M54.2 157.86h2M371.8 157.86h-2M54.2 155.31h2M371.8 155.31h-2M54.2 153.06h2M371.8 153.06h-2M54.2 137.82h2M371.8 137.82h-2M54.2 130.08h2M371.8 130.08h-2M54.2 124.59h2M371.8 124.59h-2M54.2 120.33h2M371.8 120.33h-2M54.2 116.85h2M371.8 116.85h-2M54.2 113.91h2M371.8 113.91h-2M54.2 111.36h2M371.8 111.36h-2M54.2 109.11h2M371.8 109.11h-2M54.2 93.87h2M371.8 93.87h-2M54.2 86.13h2M371.8 86.13h-2M54.2 80.64h2M371.8 80.64h-2M54.2 76.38h2M371.8 76.38h-2M54.2 72.9h2M371.8 72.9h-2M54.2 69.96h2M371.8 69.96h-2M54.2 67.41h2M371.8 67.41h-2M54.2 65.16h2M371.8 65.16h-2M54.2 49.92h2M371.8 49.92h-2M54.2 42.18h2M371.8 42.18h-2M54.2 36.69h2M371.8 36.69h-2M54.2 32.43h2M371.8 32.43h-2M54.2 28.95h2M371.8 28.95h-2M54.2 26.01h2M371.8 26.01h-2M54.2 23.46h2M371.8 23.46h-2M54.2 21.21h2M371.8 21.21h-2" stroke="#333" stroke-width="0.9" fill="none"/>
<rect x="54.2" y="19.2" width="317.6" height="180" fill="none" stroke="#333" stroke-width="1.1"/>
<text x="90" y="213.9" font-size="15" text-anchor="middle" fill="#000"><tspan>10</tspan><tspan font-size="10.2" dy="-5.55">−2</tspan></text>
<text x="150" y="213.9" font-size="15" text-anchor="middle" fill="#000"><tspan>10</tspan><tspan font-size="10.2" dy="-5.55">−1</tspan></text>
<text x="210" y="213.9" font-size="15" text-anchor="middle" fill="#000"><tspan>10</tspan><tspan font-size="10.2" dy="-5.55">0</tspan></text>
<text x="270" y="213.9" font-size="15" text-anchor="middle" fill="#000"><tspan>10</tspan><tspan font-size="10.2" dy="-5.55">1</tspan></text>
<text x="330" y="213.9" font-size="15" text-anchor="middle" fill="#000"><tspan>10</tspan><tspan font-size="10.2" dy="-5.55">2</tspan></text>
<text x="51.2" y="200.6" font-size="15" text-anchor="end" fill="#000"><tspan>10</tspan><tspan font-size="10.2" dy="-5.55">5</tspan></text>
<text x="51.2" y="156.65" font-size="15" text-anchor="end" fill="#000"><tspan>10</tspan><tspan font-size="10.2" dy="-5.55">6</tspan></text>
<text x="51.2" y="112.7" font-size="15" text-anchor="end" fill="#000"><tspan>10</tspan><tspan font-size="10.2" dy="-5.55">7</tspan></text>
<text x="51.2" y="68.75" font-size="15" text-anchor="end" fill="#000"><tspan>10</tspan><tspan font-size="10.2" dy="-5.55">8</tspan></text>
<text x="51.2" y="24.8" font-size="15" text-anchor="end" fill="#000"><tspan>10</tspan><tspan font-size="10.2" dy="-5.55">9</tspan></text>
<text x="213" y="12.6" font-size="16" text-anchor="middle">(a)</text>
<path d="M90 432.4v-3.6M90 252.6v3.6M150 432.4v-3.6M150 252.6v3.6M210 432.4v-3.6M210 252.6v3.6M270 432.4v-3.6M270 252.6v3.6M330 432.4v-3.6M330 252.6v3.6M54.2 429.3h3.6M371.8 429.3h-3.6M54.2 400.3h3.6M371.8 400.3h-3.6M54.2 371.3h3.6M371.8 371.3h-3.6M54.2 342.3h3.6M371.8 342.3h-3.6M54.2 313.3h3.6M371.8 313.3h-3.6M54.2 284.3h3.6M371.8 284.3h-3.6M54.2 255.3h3.6M371.8 255.3h-3.6" stroke="#111" stroke-width="1.3" fill="none"/>
<path d="M58.63 432.4v-2M58.63 252.6v2M66.12 432.4v-2M66.12 252.6v2M71.94 432.4v-2M71.94 252.6v2M76.69 432.4v-2M76.69 252.6v2M80.71 432.4v-2M80.71 252.6v2M84.19 432.4v-2M84.19 252.6v2M87.25 432.4v-2M87.25 252.6v2M108.06 432.4v-2M108.06 252.6v2M118.63 432.4v-2M118.63 252.6v2M126.12 432.4v-2M126.12 252.6v2M131.94 432.4v-2M131.94 252.6v2M136.69 432.4v-2M136.69 252.6v2M140.71 432.4v-2M140.71 252.6v2M144.19 432.4v-2M144.19 252.6v2M147.25 432.4v-2M147.25 252.6v2M168.06 432.4v-2M168.06 252.6v2M178.63 432.4v-2M178.63 252.6v2M186.12 432.4v-2M186.12 252.6v2M191.94 432.4v-2M191.94 252.6v2M196.69 432.4v-2M196.69 252.6v2M200.71 432.4v-2M200.71 252.6v2M204.19 432.4v-2M204.19 252.6v2M207.25 432.4v-2M207.25 252.6v2M228.06 432.4v-2M228.06 252.6v2M238.63 432.4v-2M238.63 252.6v2M246.12 432.4v-2M246.12 252.6v2M251.94 432.4v-2M251.94 252.6v2M256.69 432.4v-2M256.69 252.6v2M260.71 432.4v-2M260.71 252.6v2M264.19 432.4v-2M264.19 252.6v2M267.25 432.4v-2M267.25 252.6v2M288.06 432.4v-2M288.06 252.6v2M298.63 432.4v-2M298.63 252.6v2M306.12 432.4v-2M306.12 252.6v2M311.94 432.4v-2M311.94 252.6v2M316.69 432.4v-2M316.69 252.6v2M320.71 432.4v-2M320.71 252.6v2M324.19 432.4v-2M324.19 252.6v2M327.25 432.4v-2M327.25 252.6v2M348.06 432.4v-2M348.06 252.6v2M358.63 432.4v-2M358.63 252.6v2M366.12 432.4v-2M366.12 252.6v2M54.2 430.63h2M371.8 430.63h-2M54.2 420.57h2M371.8 420.57h-2M54.2 415.46h2M371.8 415.46h-2M54.2 411.84h2M371.8 411.84h-2M54.2 409.03h2M371.8 409.03h-2M54.2 406.73h2M371.8 406.73h-2M54.2 404.79h2M371.8 404.79h-2M54.2 403.11h2M371.8 403.11h-2M54.2 401.63h2M371.8 401.63h-2M54.2 391.57h2M371.8 391.57h-2M54.2 386.46h2M371.8 386.46h-2M54.2 382.84h2M371.8 382.84h-2M54.2 380.03h2M371.8 380.03h-2M54.2 377.73h2M371.8 377.73h-2M54.2 375.79h2M371.8 375.79h-2M54.2 374.11h2M371.8 374.11h-2M54.2 372.63h2M371.8 372.63h-2M54.2 362.57h2M371.8 362.57h-2M54.2 357.46h2M371.8 357.46h-2M54.2 353.84h2M371.8 353.84h-2M54.2 351.03h2M371.8 351.03h-2M54.2 348.73h2M371.8 348.73h-2M54.2 346.79h2M371.8 346.79h-2M54.2 345.11h2M371.8 345.11h-2M54.2 343.63h2M371.8 343.63h-2M54.2 333.57h2M371.8 333.57h-2M54.2 328.46h2M371.8 328.46h-2M54.2 324.84h2M371.8 324.84h-2M54.2 322.03h2M371.8 322.03h-2M54.2 319.73h2M371.8 319.73h-2M54.2 317.79h2M371.8 317.79h-2M54.2 316.11h2M371.8 316.11h-2M54.2 314.63h2M371.8 314.63h-2M54.2 304.57h2M371.8 304.57h-2M54.2 299.46h2M371.8 299.46h-2M54.2 295.84h2M371.8 295.84h-2M54.2 293.03h2M371.8 293.03h-2M54.2 290.73h2M371.8 290.73h-2M54.2 288.79h2M371.8 288.79h-2M54.2 287.11h2M371.8 287.11h-2M54.2 285.63h2M371.8 285.63h-2M54.2 275.57h2M371.8 275.57h-2M54.2 270.46h2M371.8 270.46h-2M54.2 266.84h2M371.8 266.84h-2M54.2 264.03h2M371.8 264.03h-2M54.2 261.73h2M371.8 261.73h-2M54.2 259.79h2M371.8 259.79h-2M54.2 258.11h2M371.8 258.11h-2M54.2 256.63h2M371.8 256.63h-2" stroke="#333" stroke-width="0.9" fill="none"/>
<rect x="54.2" y="252.6" width="317.6" height="179.8" fill="none" stroke="#333" stroke-width="1.1"/>
<text x="90" y="447.1" font-size="15" text-anchor="middle" fill="#000"><tspan>10</tspan><tspan font-size="10.2" dy="-5.55">−2</tspan></text>
<text x="150" y="447.1" font-size="15" text-anchor="middle" fill="#000"><tspan>10</tspan><tspan font-size="10.2" dy="-5.55">−1</tspan></text>
<text x="210" y="447.1" font-size="15" text-anchor="middle" fill="#000"><tspan>10</tspan><tspan font-size="10.2" dy="-5.55">0</tspan></text>
<text x="270" y="447.1" font-size="15" text-anchor="middle" fill="#000"><tspan>10</tspan><tspan font-size="10.2" dy="-5.55">1</tspan></text>
<text x="330" y="447.1" font-size="15" text-anchor="middle" fill="#000"><tspan>10</tspan><tspan font-size="10.2" dy="-5.55">2</tspan></text>
<text x="51.2" y="434.9" font-size="15" text-anchor="end" fill="#000"><tspan>10</tspan><tspan font-size="10.2" dy="-5.55">5</tspan></text>
<text x="51.2" y="405.9" font-size="15" text-anchor="end" fill="#000"><tspan>10</tspan><tspan font-size="10.2" dy="-5.55">6</tspan></text>
<text x="51.2" y="376.9" font-size="15" text-anchor="end" fill="#000"><tspan>10</tspan><tspan font-size="10.2" dy="-5.55">7</tspan></text>
<text x="51.2" y="347.9" font-size="15" text-anchor="end" fill="#000"><tspan>10</tspan><tspan font-size="10.2" dy="-5.55">8</tspan></text>
<text x="51.2" y="318.9" font-size="15" text-anchor="end" fill="#000"><tspan>10</tspan><tspan font-size="10.2" dy="-5.55">9</tspan></text>
<text x="51.2" y="289.9" font-size="15" text-anchor="end" fill="#000"><tspan>10</tspan><tspan font-size="10.2" dy="-5.55">10</tspan></text>
<text x="51.2" y="260.9" font-size="15" text-anchor="end" fill="#000"><tspan>10</tspan><tspan font-size="10.2" dy="-5.55">11</tspan></text>
<text x="213" y="246" font-size="16" text-anchor="middle">(b)</text>
<path d="M90 665.3v-3.6M90 485.3v3.6M150 665.3v-3.6M150 485.3v3.6M210 665.3v-3.6M210 485.3v3.6M270 665.3v-3.6M270 485.3v3.6M330 665.3v-3.6M330 485.3v3.6M54.3 661.1h3.6M371.8 661.1h-3.6M54.3 617.15h3.6M371.8 617.15h-3.6M54.3 573.2h3.6M371.8 573.2h-3.6M54.3 529.25h3.6M371.8 529.25h-3.6M54.3 485.3h3.6M371.8 485.3h-3.6" stroke="#111" stroke-width="1.3" fill="none"/>
<path d="M58.63 665.3v-2M58.63 485.3v2M66.12 665.3v-2M66.12 485.3v2M71.94 665.3v-2M71.94 485.3v2M76.69 665.3v-2M76.69 485.3v2M80.71 665.3v-2M80.71 485.3v2M84.19 665.3v-2M84.19 485.3v2M87.25 665.3v-2M87.25 485.3v2M108.06 665.3v-2M108.06 485.3v2M118.63 665.3v-2M118.63 485.3v2M126.12 665.3v-2M126.12 485.3v2M131.94 665.3v-2M131.94 485.3v2M136.69 665.3v-2M136.69 485.3v2M140.71 665.3v-2M140.71 485.3v2M144.19 665.3v-2M144.19 485.3v2M147.25 665.3v-2M147.25 485.3v2M168.06 665.3v-2M168.06 485.3v2M178.63 665.3v-2M178.63 485.3v2M186.12 665.3v-2M186.12 485.3v2M191.94 665.3v-2M191.94 485.3v2M196.69 665.3v-2M196.69 485.3v2M200.71 665.3v-2M200.71 485.3v2M204.19 665.3v-2M204.19 485.3v2M207.25 665.3v-2M207.25 485.3v2M228.06 665.3v-2M228.06 485.3v2M238.63 665.3v-2M238.63 485.3v2M246.12 665.3v-2M246.12 485.3v2M251.94 665.3v-2M251.94 485.3v2M256.69 665.3v-2M256.69 485.3v2M260.71 665.3v-2M260.71 485.3v2M264.19 665.3v-2M264.19 485.3v2M267.25 665.3v-2M267.25 485.3v2M288.06 665.3v-2M288.06 485.3v2M298.63 665.3v-2M298.63 485.3v2M306.12 665.3v-2M306.12 485.3v2M311.94 665.3v-2M311.94 485.3v2M316.69 665.3v-2M316.69 485.3v2M320.71 665.3v-2M320.71 485.3v2M324.19 665.3v-2M324.19 485.3v2M327.25 665.3v-2M327.25 485.3v2M348.06 665.3v-2M348.06 485.3v2M358.63 665.3v-2M358.63 485.3v2M366.12 665.3v-2M366.12 485.3v2M54.3 663.11h2M371.8 663.11h-2M54.3 647.87h2M371.8 647.87h-2M54.3 640.13h2M371.8 640.13h-2M54.3 634.64h2M371.8 634.64h-2M54.3 630.38h2M371.8 630.38h-2M54.3 626.9h2M371.8 626.9h-2M54.3 623.96h2M371.8 623.96h-2M54.3 621.41h2M371.8 621.41h-2M54.3 619.16h2M371.8 619.16h-2M54.3 603.92h2M371.8 603.92h-2M54.3 596.18h2M371.8 596.18h-2M54.3 590.69h2M371.8 590.69h-2M54.3 586.43h2M371.8 586.43h-2M54.3 582.95h2M371.8 582.95h-2M54.3 580.01h2M371.8 580.01h-2M54.3 577.46h2M371.8 577.46h-2M54.3 575.21h2M371.8 575.21h-2M54.3 559.97h2M371.8 559.97h-2M54.3 552.23h2M371.8 552.23h-2M54.3 546.74h2M371.8 546.74h-2M54.3 542.48h2M371.8 542.48h-2M54.3 539h2M371.8 539h-2M54.3 536.06h2M371.8 536.06h-2M54.3 533.51h2M371.8 533.51h-2M54.3 531.26h2M371.8 531.26h-2M54.3 516.02h2M371.8 516.02h-2M54.3 508.28h2M371.8 508.28h-2M54.3 502.79h2M371.8 502.79h-2M54.3 498.53h2M371.8 498.53h-2M54.3 495.05h2M371.8 495.05h-2M54.3 492.11h2M371.8 492.11h-2M54.3 489.56h2M371.8 489.56h-2M54.3 487.31h2M371.8 487.31h-2" stroke="#333" stroke-width="0.9" fill="none"/>
<rect x="54.3" y="485.3" width="317.5" height="180" fill="none" stroke="#333" stroke-width="1.1"/>
<text x="90" y="680" font-size="15" text-anchor="middle" fill="#000"><tspan>10</tspan><tspan font-size="10.2" dy="-5.55">−2</tspan></text>
<text x="150" y="680" font-size="15" text-anchor="middle" fill="#000"><tspan>10</tspan><tspan font-size="10.2" dy="-5.55">−1</tspan></text>
<text x="210" y="680" font-size="15" text-anchor="middle" fill="#000"><tspan>10</tspan><tspan font-size="10.2" dy="-5.55">0</tspan></text>
<text x="270" y="680" font-size="15" text-anchor="middle" fill="#000"><tspan>10</tspan><tspan font-size="10.2" dy="-5.55">1</tspan></text>
<text x="330" y="680" font-size="15" text-anchor="middle" fill="#000"><tspan>10</tspan><tspan font-size="10.2" dy="-5.55">2</tspan></text>
<text x="51.3" y="666.7" font-size="15" text-anchor="end" fill="#000"><tspan>10</tspan><tspan font-size="10.2" dy="-5.55">−3</tspan></text>
<text x="51.3" y="622.75" font-size="15" text-anchor="end" fill="#000"><tspan>10</tspan><tspan font-size="10.2" dy="-5.55">−2</tspan></text>
<text x="51.3" y="578.8" font-size="15" text-anchor="end" fill="#000"><tspan>10</tspan><tspan font-size="10.2" dy="-5.55">−1</tspan></text>
<text x="51.3" y="534.85" font-size="15" text-anchor="end" fill="#000"><tspan>10</tspan><tspan font-size="10.2" dy="-5.55">0</tspan></text>
<text x="51.3" y="490.9" font-size="15" text-anchor="end" fill="#000"><tspan>10</tspan><tspan font-size="10.2" dy="-5.55">1</tspan></text>
<text x="213.05" y="478.7" font-size="16" text-anchor="middle">(c)</text>
<path d="M455.7 198.4v-3.6M455.7 19.2v3.6M503.7 198.4v-3.6M503.7 19.2v3.6M551.7 198.4v-3.6M551.7 19.2v3.6M599.7 198.4v-3.6M599.7 19.2v3.6M647.7 198.4v-3.6M647.7 19.2v3.6M695.7 198.4v-3.6M695.7 19.2v3.6M743.7 198.4v-3.6M743.7 19.2v3.6M441.2 191.7h3.6M758.2 191.7h-3.6M441.2 122.7h3.6M758.2 122.7h-3.6M441.2 53.7h3.6M758.2 53.7h-3.6" stroke="#111" stroke-width="1.3" fill="none"/>
<path d="M441.2 194.86h2M758.2 194.86h-2M441.2 170.93h2M758.2 170.93h-2M441.2 158.78h2M758.2 158.78h-2M441.2 150.16h2M758.2 150.16h-2M441.2 143.47h2M758.2 143.47h-2M441.2 138.01h2M758.2 138.01h-2M441.2 133.39h2M758.2 133.39h-2M441.2 129.39h2M758.2 129.39h-2M441.2 125.86h2M758.2 125.86h-2M441.2 101.93h2M758.2 101.93h-2M441.2 89.78h2M758.2 89.78h-2M441.2 81.16h2M758.2 81.16h-2M441.2 74.47h2M758.2 74.47h-2M441.2 69.01h2M758.2 69.01h-2M441.2 64.39h2M758.2 64.39h-2M441.2 60.39h2M758.2 60.39h-2M441.2 56.86h2M758.2 56.86h-2M441.2 32.93h2M758.2 32.93h-2M441.2 20.78h2M758.2 20.78h-2" stroke="#333" stroke-width="0.9" fill="none"/>
<rect x="441.2" y="19.2" width="317" height="179.2" fill="none" stroke="#333" stroke-width="1.1"/>
<text x="455.7" y="213.1" font-size="15" text-anchor="middle" fill="#000"><tspan>10</tspan><tspan font-size="10.2" dy="-5.55">−2</tspan></text>
<text x="503.7" y="213.1" font-size="15" text-anchor="middle" fill="#000"><tspan>10</tspan><tspan font-size="10.2" dy="-5.55">−1.5</tspan></text>
<text x="551.7" y="213.1" font-size="15" text-anchor="middle" fill="#000"><tspan>10</tspan><tspan font-size="10.2" dy="-5.55">−1</tspan></text>
<text x="599.7" y="213.1" font-size="15" text-anchor="middle" fill="#000"><tspan>10</tspan><tspan font-size="10.2" dy="-5.55">−0.5</tspan></text>
<text x="647.7" y="213.1" font-size="15" text-anchor="middle" fill="#000"><tspan>10</tspan><tspan font-size="10.2" dy="-5.55">0</tspan></text>
<text x="695.7" y="213.1" font-size="15" text-anchor="middle" fill="#000"><tspan>10</tspan><tspan font-size="10.2" dy="-5.55">0.5</tspan></text>
<text x="743.7" y="213.1" font-size="15" text-anchor="middle" fill="#000"><tspan>10</tspan><tspan font-size="10.2" dy="-5.55">1</tspan></text>
<text x="438.2" y="197.3" font-size="15" text-anchor="end" fill="#000"><tspan>10</tspan><tspan font-size="10.2" dy="-5.55">6</tspan></text>
<text x="438.2" y="128.3" font-size="15" text-anchor="end" fill="#000"><tspan>10</tspan><tspan font-size="10.2" dy="-5.55">7</tspan></text>
<text x="438.2" y="59.3" font-size="15" text-anchor="end" fill="#000"><tspan>10</tspan><tspan font-size="10.2" dy="-5.55">8</tspan></text>
<text x="599.7" y="12.6" font-size="16" text-anchor="middle">(d)</text>
<path d="M455.7 430.4v-3.6M455.7 251.7v3.6M503.7 430.4v-3.6M503.7 251.7v3.6M551.7 430.4v-3.6M551.7 251.7v3.6M599.7 430.4v-3.6M599.7 251.7v3.6M647.7 430.4v-3.6M647.7 251.7v3.6M695.7 430.4v-3.6M695.7 251.7v3.6M743.7 430.4v-3.6M743.7 251.7v3.6M441.3 420.3h3.6M758.2 420.3h-3.6M441.3 369.2h3.6M758.2 369.2h-3.6M441.3 318.1h3.6M758.2 318.1h-3.6M441.3 267h3.6M758.2 267h-3.6" stroke="#111" stroke-width="1.3" fill="none"/>
<path d="M441.3 428.22h2M758.2 428.22h-2M441.3 425.25h2M758.2 425.25h-2M441.3 422.64h2M758.2 422.64h-2M441.3 404.92h2M758.2 404.92h-2M441.3 395.92h2M758.2 395.92h-2M441.3 389.53h2M758.2 389.53h-2M441.3 384.58h2M758.2 384.58h-2M441.3 380.54h2M758.2 380.54h-2M441.3 377.12h2M758.2 377.12h-2M441.3 374.15h2M758.2 374.15h-2M441.3 371.54h2M758.2 371.54h-2M441.3 353.82h2M758.2 353.82h-2M441.3 344.82h2M758.2 344.82h-2M441.3 338.43h2M758.2 338.43h-2M441.3 333.48h2M758.2 333.48h-2M441.3 329.44h2M758.2 329.44h-2M441.3 326.02h2M758.2 326.02h-2M441.3 323.05h2M758.2 323.05h-2M441.3 320.44h2M758.2 320.44h-2M441.3 302.72h2M758.2 302.72h-2M441.3 293.72h2M758.2 293.72h-2M441.3 287.33h2M758.2 287.33h-2M441.3 282.38h2M758.2 282.38h-2M441.3 278.34h2M758.2 278.34h-2M441.3 274.92h2M758.2 274.92h-2M441.3 271.95h2M758.2 271.95h-2M441.3 269.34h2M758.2 269.34h-2" stroke="#333" stroke-width="0.9" fill="none"/>
<rect x="441.3" y="251.7" width="316.9" height="178.7" fill="none" stroke="#333" stroke-width="1.1"/>
<text x="455.7" y="445.1" font-size="15" text-anchor="middle" fill="#000"><tspan>10</tspan><tspan font-size="10.2" dy="-5.55">−2</tspan></text>
<text x="503.7" y="445.1" font-size="15" text-anchor="middle" fill="#000"><tspan>10</tspan><tspan font-size="10.2" dy="-5.55">−1.5</tspan></text>
<text x="551.7" y="445.1" font-size="15" text-anchor="middle" fill="#000"><tspan>10</tspan><tspan font-size="10.2" dy="-5.55">−1</tspan></text>
<text x="599.7" y="445.1" font-size="15" text-anchor="middle" fill="#000"><tspan>10</tspan><tspan font-size="10.2" dy="-5.55">−0.5</tspan></text>
<text x="647.7" y="445.1" font-size="15" text-anchor="middle" fill="#000"><tspan>10</tspan><tspan font-size="10.2" dy="-5.55">0</tspan></text>
<text x="695.7" y="445.1" font-size="15" text-anchor="middle" fill="#000"><tspan>10</tspan><tspan font-size="10.2" dy="-5.55">0.5</tspan></text>
<text x="743.7" y="445.1" font-size="15" text-anchor="middle" fill="#000"><tspan>10</tspan><tspan font-size="10.2" dy="-5.55">1</tspan></text>
<text x="438.3" y="425.9" font-size="15" text-anchor="end" fill="#000"><tspan>10</tspan><tspan font-size="10.2" dy="-5.55">7</tspan></text>
<text x="438.3" y="374.8" font-size="15" text-anchor="end" fill="#000"><tspan>10</tspan><tspan font-size="10.2" dy="-5.55">8</tspan></text>
<text x="438.3" y="323.7" font-size="15" text-anchor="end" fill="#000"><tspan>10</tspan><tspan font-size="10.2" dy="-5.55">9</tspan></text>
<text x="438.3" y="272.6" font-size="15" text-anchor="end" fill="#000"><tspan>10</tspan><tspan font-size="10.2" dy="-5.55">10</tspan></text>
<text x="599.75" y="245.1" font-size="16" text-anchor="middle">(e)</text>
<path d="M455.7 663v-3.6M455.7 484.2v3.6M503.7 663v-3.6M503.7 484.2v3.6M551.7 663v-3.6M551.7 484.2v3.6M599.7 663v-3.6M599.7 484.2v3.6M647.7 663v-3.6M647.7 484.2v3.6M695.7 663v-3.6M695.7 484.2v3.6M743.7 663v-3.6M743.7 484.2v3.6M441.3 632.6h3.6M758.2 632.6h-3.6M441.3 558.4h3.6M758.2 558.4h-3.6M441.3 484.2h3.6M758.2 484.2h-3.6" stroke="#111" stroke-width="1.3" fill="none"/>
<path d="M441.3 662.13h2M758.2 662.13h-2M441.3 654.94h2M758.2 654.94h-2M441.3 649.06h2M758.2 649.06h-2M441.3 644.09h2M758.2 644.09h-2M441.3 639.79h2M758.2 639.79h-2M441.3 636h2M758.2 636h-2M441.3 610.26h2M758.2 610.26h-2M441.3 597.2h2M758.2 597.2h-2M441.3 587.93h2M758.2 587.93h-2M441.3 580.74h2M758.2 580.74h-2M441.3 574.86h2M758.2 574.86h-2M441.3 569.89h2M758.2 569.89h-2M441.3 565.59h2M758.2 565.59h-2M441.3 561.8h2M758.2 561.8h-2M441.3 536.06h2M758.2 536.06h-2M441.3 523h2M758.2 523h-2M441.3 513.73h2M758.2 513.73h-2M441.3 506.54h2M758.2 506.54h-2M441.3 500.66h2M758.2 500.66h-2M441.3 495.69h2M758.2 495.69h-2M441.3 491.39h2M758.2 491.39h-2M441.3 487.6h2M758.2 487.6h-2" stroke="#333" stroke-width="0.9" fill="none"/>
<rect x="441.3" y="484.2" width="316.9" height="178.8" fill="none" stroke="#333" stroke-width="1.1"/>
<text x="455.7" y="677.7" font-size="15" text-anchor="middle" fill="#000"><tspan>10</tspan><tspan font-size="10.2" dy="-5.55">−2</tspan></text>
<text x="503.7" y="677.7" font-size="15" text-anchor="middle" fill="#000"><tspan>10</tspan><tspan font-size="10.2" dy="-5.55">−1.5</tspan></text>
<text x="551.7" y="677.7" font-size="15" text-anchor="middle" fill="#000"><tspan>10</tspan><tspan font-size="10.2" dy="-5.55">−1</tspan></text>
<text x="599.7" y="677.7" font-size="15" text-anchor="middle" fill="#000"><tspan>10</tspan><tspan font-size="10.2" dy="-5.55">−0.5</tspan></text>
<text x="647.7" y="677.7" font-size="15" text-anchor="middle" fill="#000"><tspan>10</tspan><tspan font-size="10.2" dy="-5.55">0</tspan></text>
<text x="695.7" y="677.7" font-size="15" text-anchor="middle" fill="#000"><tspan>10</tspan><tspan font-size="10.2" dy="-5.55">0.5</tspan></text>
<text x="743.7" y="677.7" font-size="15" text-anchor="middle" fill="#000"><tspan>10</tspan><tspan font-size="10.2" dy="-5.55">1</tspan></text>
<text x="438.3" y="638.2" font-size="15" text-anchor="end" fill="#000"><tspan>10</tspan><tspan font-size="10.2" dy="-5.55">−1</tspan></text>
<text x="438.3" y="564" font-size="15" text-anchor="end" fill="#000"><tspan>10</tspan><tspan font-size="10.2" dy="-5.55">0</tspan></text>
<text x="438.3" y="489.8" font-size="15" text-anchor="end" fill="#000"><tspan>10</tspan><tspan font-size="10.2" dy="-5.55">1</tspan></text>
<text x="599.75" y="477.6" font-size="16" text-anchor="middle">(f)</text>
<rect x="221.3" y="588" width="148.4" height="75.8" rx="2.5" fill="#fff" fill-opacity="0.85" stroke="#d4d4d4" stroke-width="1"/>
<path d="M225 597.9H248.7" stroke="#ff0000" stroke-width="2.7"/>
<text x="256.5" y="602.2" font-size="12.2" text-anchor="start" textLength="110" lengthAdjust="spacing" fill="#000"><tspan font-style="italic">M</tspan><tspan font-size="8.78" dy="2.68">A</tspan><tspan dy="-2.68"> = </tspan><tspan>0.65, </tspan><tspan font-style="italic">M</tspan><tspan font-size="8.78" dy="2.68">s</tspan><tspan dy="-2.68"> = </tspan><tspan>0.48</tspan></text>
<path d="M225 616.2H248.7" stroke="#008000" stroke-width="2.7" stroke-dasharray="15 3.6 2.4 3.6"/>
<text x="256.5" y="620.5" font-size="12.2" text-anchor="start" textLength="110" lengthAdjust="spacing" fill="#000"><tspan font-style="italic">M</tspan><tspan font-size="8.78" dy="2.68">A</tspan><tspan dy="-2.68"> = </tspan><tspan>0.55, </tspan><tspan font-style="italic">M</tspan><tspan font-size="8.78" dy="2.68">s</tspan><tspan dy="-2.68"> = </tspan><tspan>4.46</tspan></text>
<path d="M225 634.3H248.7" stroke="#0000ff" stroke-width="2.7" stroke-dasharray="8.4 4.1"/>
<text x="256.5" y="638.6" font-size="12.2" text-anchor="start" textLength="110" lengthAdjust="spacing" fill="#000"><tspan font-style="italic">M</tspan><tspan font-size="8.78" dy="2.68">A</tspan><tspan dy="-2.68"> = </tspan><tspan>1.72, </tspan><tspan font-style="italic">M</tspan><tspan font-size="8.78" dy="2.68">s</tspan><tspan dy="-2.68"> = </tspan><tspan>0.45</tspan></text>
<path d="M225 652.6H248.7" stroke="#ffa500" stroke-width="2.7" stroke-dasharray="2.5 3.8"/>
<text x="256.5" y="656.9" font-size="12.2" text-anchor="start" textLength="110" lengthAdjust="spacing" fill="#000"><tspan font-style="italic">M</tspan><tspan font-size="8.78" dy="2.68">A</tspan><tspan dy="-2.68"> = </tspan><tspan>1.69, </tspan><tspan font-style="italic">M</tspan><tspan font-size="8.78" dy="2.68">s</tspan><tspan dy="-2.68"> = </tspan><tspan>3.11</tspan></text>
<rect x="608.4" y="585.3" width="149.1" height="75.7" rx="2.5" fill="#fff" fill-opacity="0.85" stroke="#d4d4d4" stroke-width="1"/>
<path d="M611.6 595.2H635.8" stroke="#ff0000" stroke-width="2.3"/>
<circle cx="623.7" cy="595.2" r="3.3" fill="#ff0000"/>
<text x="643.6" y="599.5" font-size="12.2" text-anchor="start" textLength="109.9" lengthAdjust="spacing" fill="#000"><tspan font-style="italic">M</tspan><tspan font-size="8.78" dy="2.68">A</tspan><tspan dy="-2.68"> = </tspan><tspan>0.65, </tspan><tspan font-style="italic">M</tspan><tspan font-size="8.78" dy="2.68">s</tspan><tspan dy="-2.68"> = </tspan><tspan>0.48</tspan></text>
<path d="M611.6 613.3H635.8" stroke="#008000" stroke-width="2.3"/>
<path d="M620.3 609.7L627.1 609.7L623.7 616.9Z" fill="#008000"/>
<text x="643.6" y="617.6" font-size="12.2" text-anchor="start" textLength="109.9" lengthAdjust="spacing" fill="#000"><tspan font-style="italic">M</tspan><tspan font-size="8.78" dy="2.68">A</tspan><tspan dy="-2.68"> = </tspan><tspan>0.55, </tspan><tspan font-style="italic">M</tspan><tspan font-size="8.78" dy="2.68">s</tspan><tspan dy="-2.68"> = </tspan><tspan>4.46</tspan></text>
<path d="M611.6 631.6H635.8" stroke="#0000ff" stroke-width="2.3"/>
<rect x="620.6" y="628.5" width="6.2" height="6.2" fill="#0000ff"/>
<text x="643.6" y="635.9" font-size="12.2" text-anchor="start" textLength="109.9" lengthAdjust="spacing" fill="#000"><tspan font-style="italic">M</tspan><tspan font-size="8.78" dy="2.68">A</tspan><tspan dy="-2.68"> = </tspan><tspan>1.72, </tspan><tspan font-style="italic">M</tspan><tspan font-size="8.78" dy="2.68">s</tspan><tspan dy="-2.68"> = </tspan><tspan>0.45</tspan></text>
<path d="M611.6 649.5H635.8" stroke="#ffa500" stroke-width="2.3"/>
<path d="M623.7 644.5L626.8 649.5L623.7 654.5L620.6 649.5Z" fill="#ffa500"/>
<text x="643.6" y="653.8" font-size="12.2" text-anchor="start" textLength="109.9" lengthAdjust="spacing" fill="#000"><tspan font-style="italic">M</tspan><tspan font-size="8.78" dy="2.68">A</tspan><tspan dy="-2.68"> = </tspan><tspan>1.69, </tspan><tspan font-style="italic">M</tspan><tspan font-size="8.78" dy="2.68">s</tspan><tspan dy="-2.68"> = </tspan><tspan>3.11</tspan></text>
<text x="20" y="109.1" font-size="16.5" text-anchor="middle" transform="rotate(-90 20 109.1)" textLength="110.5" lengthAdjust="spacing" fill="#000"><tspan font-style="italic">D</tspan><tspan font-style="italic" font-size="11.88" dy="3.63">pp</tspan><tspan dy="-3.63"> / (</tspan><tspan font-style="italic">P</tspan><tspan font-size="11.88" dy="3.63">0</tspan><tspan font-size="11.88" dy="-10.56">2</tspan><tspan dy="6.93">· </tspan><tspan>Ω</tspan><tspan font-size="11.88" dy="3.63">0</tspan><tspan dy="-3.63">)</tspan></text>
<text x="14.5" y="342.1" font-size="16.5" text-anchor="middle" transform="rotate(-90 14.5 342.1)" textLength="129" lengthAdjust="spacing" fill="#000"><tspan font-style="italic">D</tspan><tspan font-style="italic" font-size="11.88" dy="3.63">pp, ⊥</tspan><tspan dy="-3.63"> / (</tspan><tspan font-style="italic">P</tspan><tspan font-size="11.88" dy="3.63">0</tspan><tspan font-size="11.88" dy="-10.56">2</tspan><tspan dy="6.93">· </tspan><tspan>Ω</tspan><tspan font-size="11.88" dy="3.63">0</tspan><tspan dy="-3.63">)</tspan></text>
<text x="12.8" y="575.5" font-size="16.5" text-anchor="middle" transform="rotate(-90 12.8 575.5)" textLength="101.5" lengthAdjust="spacing" fill="#000"><tspan font-style="italic">D</tspan><tspan font-style="italic" font-size="11.88" dy="3.63">pp, </tspan><tspan font-size="11.88">‖</tspan><tspan dy="-3.63"> / </tspan><tspan font-style="italic">D</tspan><tspan font-style="italic" font-size="11.88" dy="3.63">pp, ⊥</tspan></text>
<text x="407.6" y="108.2" font-size="16.5" text-anchor="middle" transform="rotate(-90 407.6 108.2)" textLength="110" lengthAdjust="spacing" fill="#000"><tspan font-style="italic">D</tspan><tspan font-style="italic" font-size="11.88" dy="3.63">pp</tspan><tspan dy="-3.63"> / (</tspan><tspan font-style="italic">P</tspan><tspan font-size="11.88" dy="3.63">0</tspan><tspan font-size="11.88" dy="-10.56">2</tspan><tspan dy="6.93">· </tspan><tspan>Ω</tspan><tspan font-size="11.88" dy="3.63">0</tspan><tspan dy="-3.63">)</tspan></text>
<text x="402" y="340" font-size="16.5" text-anchor="middle" transform="rotate(-90 402 340)" textLength="128" lengthAdjust="spacing" fill="#000"><tspan font-style="italic">D</tspan><tspan font-style="italic" font-size="11.88" dy="3.63">pp, ⊥</tspan><tspan dy="-3.63"> / (</tspan><tspan font-style="italic">P</tspan><tspan font-size="11.88" dy="3.63">0</tspan><tspan font-size="11.88" dy="-10.56">2</tspan><tspan dy="6.93">· </tspan><tspan>Ω</tspan><tspan font-size="11.88" dy="3.63">0</tspan><tspan dy="-3.63">)</tspan></text>
<text x="402" y="573.9" font-size="16.5" text-anchor="middle" transform="rotate(-90 402 573.9)" textLength="101" lengthAdjust="spacing" fill="#000"><tspan font-style="italic">D</tspan><tspan font-style="italic" font-size="11.88" dy="3.63">pp, </tspan><tspan font-size="11.88">‖</tspan><tspan dy="-3.63"> / </tspan><tspan font-style="italic">D</tspan><tspan font-style="italic" font-size="11.88" dy="3.63">pp, ⊥</tspan></text>
<text x="213" y="699.5" font-size="16.5" text-anchor="middle" fill="#000"><tspan font-style="italic">t</tspan><tspan> · </tspan><tspan>Ω</tspan><tspan font-size="11.88" dy="3.63">0</tspan></text>
<text x="600" y="697.5" font-size="16.5" text-anchor="middle" fill="#000"><tspan font-style="italic">R</tspan><tspan font-size="11.88" dy="3.63">g</tspan><tspan dy="-3.63"> / </tspan><tspan font-style="italic">L</tspan></text>
</svg></body></html>
